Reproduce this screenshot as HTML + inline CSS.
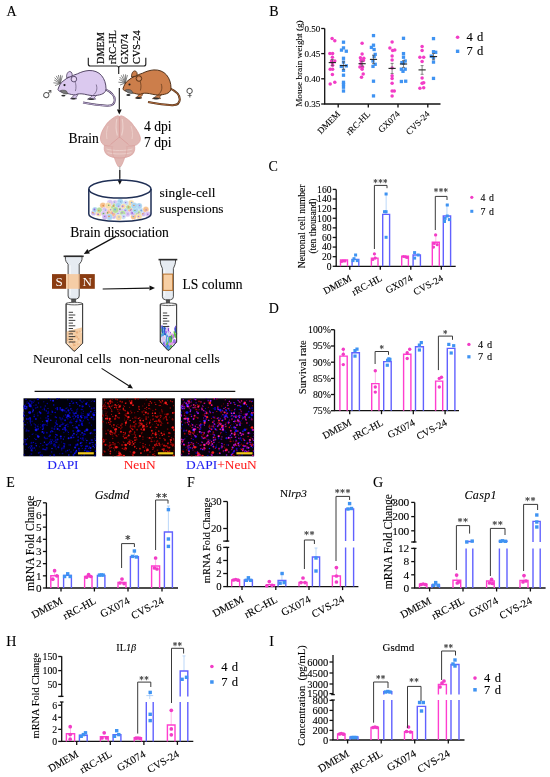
<!DOCTYPE html>
<html><head><meta charset="utf-8"><title>Figure</title>
<style>html,body{margin:0;padding:0;background:#fff;}svg{display:block;}
</style></head>
<body><svg width="550" height="777" viewBox="0 0 550 777" font-family="'Liberation Serif', 'Times New Roman', serif">
<rect width="550" height="777" fill="#fff"/>
<text x="6.4" y="15.5" font-size="14" stroke="#000" stroke-width="0.1">A</text>
<text x="104.2" y="63.9" font-size="10.2" transform="rotate(-90 104.2 63.9)" stroke="#000" stroke-width="0.2">DMEM</text>
<text x="115.9" y="63.9" font-size="10.2" transform="rotate(-90 115.9 63.9)" stroke="#000" stroke-width="0.2">rRC-HL</text>
<text x="127.7" y="63.9" font-size="10.2" transform="rotate(-90 127.7 63.9)" stroke="#000" stroke-width="0.2">GX074</text>
<text x="140.3" y="63.9" font-size="10.2" transform="rotate(-90 140.3 63.9)" stroke="#000" stroke-width="0.2">CVS-24</text>
<path d="M88.3 57.8V64Q88.3 66 90.3 66H116.7Q118.7 66 118.7 68V74M118.7 68Q118.7 66 120.7 66H143.8Q145.8 66 145.8 64V57.8" stroke="#222" stroke-width="1.15" fill="none"/>
<g transform="translate(0 0)">
<path d="M104.5 88.8C110.5 91.5 114.8 95.5 114.8 100C114.6 104 111.5 106 107 105.8C100 105.5 92 104.3 83 102.6" stroke="#4e4060" stroke-width="2.0" fill="none"/>
<path d="M104.5 88.8C110.5 91.5 114.8 95.5 114.8 100C114.6 104 111.5 106 107 105.8C100 105.5 92 104.3 83 102.6" stroke="#dbc9ef" stroke-width="0.8" fill="none"/>
<line x1="60.4" y1="83.6" x2="54.2" y2="80" stroke="#5e5e5e" stroke-width="0.75"/>
<line x1="60.4" y1="83.6" x2="54.6" y2="77.6" stroke="#5e5e5e" stroke-width="0.75"/>
<line x1="60.4" y1="83.6" x2="56.3" y2="75.9" stroke="#5e5e5e" stroke-width="0.75"/>
<line x1="60.4" y1="83.6" x2="58.4" y2="75" stroke="#5e5e5e" stroke-width="0.75"/>
<line x1="60.4" y1="83.6" x2="60.6" y2="74.9" stroke="#5e5e5e" stroke-width="0.75"/>
<line x1="60.4" y1="83.6" x2="53.4" y2="82.8" stroke="#5e5e5e" stroke-width="0.75"/>
<line x1="60.4" y1="83.6" x2="55" y2="85.6" stroke="#5e5e5e" stroke-width="0.75"/>
<line x1="60.4" y1="83.6" x2="62.4" y2="75.6" stroke="#5e5e5e" stroke-width="0.75"/>
<path d="M92 92C93 95 92 97 89 98.2L87.5 99.2H95.5L94.5 97.5C96.5 96 97.5 94 97 91.5Z" stroke="#4e4060" stroke-width="0.7" fill="#dbc9ef"/>
<path d="M74 92.5C74.5 95 73.5 96.8 71.5 97.6L70.5 98.8H76.5L76 97.2C77.5 96 78 94.5 77.8 92.5Z" stroke="#4e4060" stroke-width="0.7" fill="#dbc9ef"/>
<path d="M58.0 89.4C58.8 86.2 60.6 83.0 63.0 81.2C65.2 79.4 67.0 78.0 69.5 77.0C72.5 75.6 75.0 74.6 77.5 73.8C81.0 72.0 85.0 70.8 89.0 70.5C94.0 70.3 98.5 72.0 101.5 75.5C104.5 79.0 106.0 84.0 106.0 88.5C106.0 91.0 104.8 92.6 103.0 93.6C101.0 94.8 98.0 95.2 95.5 95.5C92.0 96.0 88.0 95.0 84.5 94.2C81.0 93.6 78.0 93.5 75.5 94.8C73.0 95.2 70.0 94.0 67.5 93.5C64.0 93.0 61.0 92.0 59.5 91.2C58.5 90.7 58.0 90.0 58.0 89.4Z" stroke="#4e4060" stroke-width="0.95" fill="#dbc9ef"/>
<path d="M74.9 81.3C76.2 84.2 76.3 88 75.4 91.1" stroke="#4e4060" stroke-width="0.6" fill="none"/>
<path d="M96.2 84.5C97.6 88.5 96.8 92.5 93.2 95.2" stroke="#4e4060" stroke-width="0.6" fill="none"/>
<path d="M66.6 77.6C66.2 74.6 67.8 71.4 69.8 71.5C71.9 71.7 72.6 74.1 71.9 76.4Z" stroke="#4e4060" stroke-width="0.85" fill="#dbc9ef"/>
<circle cx="73.9" cy="79.1" r="2.8" fill="#dbc9ef" stroke="#4e4060" stroke-width="0.85"/>
<circle cx="74.1" cy="79.3" r="1.5" fill="#e9d6f2"/>
<circle cx="64.5" cy="85.1" r="1.05" fill="#1a1a1a"/>
<path d="M60.2 90.6C61.5 92.9 64.5 94.6 67.5 94.0C67.8 92.2 66.6 90.7 64.8 90.3C63.2 90.0 61.6 90.1 60.2 90.6Z" stroke="#3a3a3a" stroke-width="0.5" fill="#777"/>
<ellipse cx="63.4" cy="95.6" rx="2.1" ry="0.95" fill="#2e2e2e"/>
<ellipse cx="73.4" cy="98.6" rx="2.4" ry="0.9" fill="#2e2e2e"/>
<ellipse cx="91.2" cy="99.1" rx="3.0" ry="0.95" fill="#2e2e2e"/>
</g>
<g transform="translate(65.0 -0.6)">
<path d="M104.5 88.8C110.5 91.5 114.8 95.5 114.8 100C114.6 104 111.5 106 107 105.8C100 105.5 92 104.3 83 102.6" stroke="#4a2a12" stroke-width="2.0" fill="none"/>
<path d="M104.5 88.8C110.5 91.5 114.8 95.5 114.8 100C114.6 104 111.5 106 107 105.8C100 105.5 92 104.3 83 102.6" stroke="#cc7e4b" stroke-width="0.8" fill="none"/>
<line x1="60.4" y1="83.6" x2="54.2" y2="80" stroke="#5e5e5e" stroke-width="0.75"/>
<line x1="60.4" y1="83.6" x2="54.6" y2="77.6" stroke="#5e5e5e" stroke-width="0.75"/>
<line x1="60.4" y1="83.6" x2="56.3" y2="75.9" stroke="#5e5e5e" stroke-width="0.75"/>
<line x1="60.4" y1="83.6" x2="58.4" y2="75" stroke="#5e5e5e" stroke-width="0.75"/>
<line x1="60.4" y1="83.6" x2="60.6" y2="74.9" stroke="#5e5e5e" stroke-width="0.75"/>
<line x1="60.4" y1="83.6" x2="53.4" y2="82.8" stroke="#5e5e5e" stroke-width="0.75"/>
<line x1="60.4" y1="83.6" x2="55" y2="85.6" stroke="#5e5e5e" stroke-width="0.75"/>
<line x1="60.4" y1="83.6" x2="62.4" y2="75.6" stroke="#5e5e5e" stroke-width="0.75"/>
<path d="M92 92C93 95 92 97 89 98.2L87.5 99.2H95.5L94.5 97.5C96.5 96 97.5 94 97 91.5Z" stroke="#4a2a12" stroke-width="0.7" fill="#cc7e4b"/>
<path d="M74 92.5C74.5 95 73.5 96.8 71.5 97.6L70.5 98.8H76.5L76 97.2C77.5 96 78 94.5 77.8 92.5Z" stroke="#4a2a12" stroke-width="0.7" fill="#cc7e4b"/>
<path d="M58.0 89.4C58.8 86.2 60.6 83.0 63.0 81.2C65.2 79.4 67.0 78.0 69.5 77.0C72.5 75.6 75.0 74.6 77.5 73.8C81.0 72.0 85.0 70.8 89.0 70.5C94.0 70.3 98.5 72.0 101.5 75.5C104.5 79.0 106.0 84.0 106.0 88.5C106.0 91.0 104.8 92.6 103.0 93.6C101.0 94.8 98.0 95.2 95.5 95.5C92.0 96.0 88.0 95.0 84.5 94.2C81.0 93.6 78.0 93.5 75.5 94.8C73.0 95.2 70.0 94.0 67.5 93.5C64.0 93.0 61.0 92.0 59.5 91.2C58.5 90.7 58.0 90.0 58.0 89.4Z" stroke="#4a2a12" stroke-width="0.95" fill="#cc7e4b"/>
<path d="M74.9 81.3C76.2 84.2 76.3 88 75.4 91.1" stroke="#4a2a12" stroke-width="0.6" fill="none"/>
<path d="M96.2 84.5C97.6 88.5 96.8 92.5 93.2 95.2" stroke="#4a2a12" stroke-width="0.6" fill="none"/>
<path d="M66.6 77.6C66.2 74.6 67.8 71.4 69.8 71.5C71.9 71.7 72.6 74.1 71.9 76.4Z" stroke="#4a2a12" stroke-width="0.85" fill="#cc7e4b"/>
<circle cx="73.9" cy="79.1" r="2.8" fill="#cc7e4b" stroke="#4a2a12" stroke-width="0.85"/>
<circle cx="74.1" cy="79.3" r="1.5" fill="#d89468"/>
<circle cx="64.5" cy="85.1" r="1.05" fill="#1a1a1a"/>
<path d="M60.2 90.6C61.5 92.9 64.5 94.6 67.5 94.0C67.8 92.2 66.6 90.7 64.8 90.3C63.2 90.0 61.6 90.1 60.2 90.6Z" stroke="#3a3a3a" stroke-width="0.5" fill="#777"/>
<ellipse cx="63.4" cy="95.6" rx="2.1" ry="0.95" fill="#2e2e2e"/>
<ellipse cx="73.4" cy="98.6" rx="2.4" ry="0.9" fill="#2e2e2e"/>
<ellipse cx="91.2" cy="99.1" rx="3.0" ry="0.95" fill="#2e2e2e"/>
</g>
<text x="42.3" y="97.9" font-size="11.2" fill="#555" font-family="DejaVu Sans">♂</text>
<text x="185.6" y="95.6" font-size="11.2" fill="#555" font-family="DejaVu Sans">♀</text>
<line x1="119.3" y1="88" x2="119.3" y2="109.5" stroke="#111" stroke-width="1.1"/>
<path d="M119.3 114.5L116.9 109.5L121.7 109.5Z" fill="#111"/>
<path d="M114 156.5C115 160 116 163 118.2 166.6H120.8C123 163 124 160 125 156.5Z" stroke="#d89c99" stroke-width="0.6" fill="#e0b7b3"/>
<path d="M104.8 144.5C103.6 148 104.2 152 106.5 154.2C109.5 157 114.5 158 119.5 158C124.5 158 129.5 157 132.5 154.2C134.8 152 135.4 148 134.2 144.5Z" stroke="#d89c99" stroke-width="0.7" fill="#e0b7b3"/>
<path d="M106.5 149C112 151 127 151 132.5 149M107.5 152.6C113 154.4 126 154.4 131.5 152.6" stroke="#ecd0cc" stroke-width="0.9" fill="none"/>
<path d="M112 146.5C112 150 112.5 154 113.5 157M127 146.5C127 150 126.5 154 125.5 157" stroke="#d89c99" stroke-width="0.5" fill="none"/>
<path d="M119.3 116.5C118.5 115.8 117.8 115.7 117.2 115.9C115.5 116.4 113.8 117.3 112.8 118.3C109.5 120.5 107.5 122.5 105.5 125.5C103 129 101 133 100.5 137C100.2 140 101 143 103.5 144.8C106 146.2 110 146.3 114 145.5C116.5 145 118.5 143.5 119.3 141.5Z" stroke="#d89c99" stroke-width="0.7" fill="#e0b7b3"/>
<path d="M119.7 116.5C120.5 115.8 121.2 115.7 121.8 115.9C123.5 116.4 125.2 117.3 126.2 118.3C129.5 120.5 131.5 122.5 133.5 125.5C136.8 129.5 139.5 134 140.3 137.5C140.8 140.5 139.5 143 136.5 144.8C134 146.2 129 146.3 125 145.5C122.5 145 120.5 143.5 119.7 141.5Z" stroke="#d89c99" stroke-width="0.7" fill="#e0b7b3"/>
<path d="M119.5 136L110 146L129 146Z" stroke="none" stroke-width="0" fill="#e0b7b3"/>
<path d="M119.5 116.5V138M119.5 137L110.5 144.5M119.5 137L128.5 144.5" stroke="#d89c99" stroke-width="0.8" fill="none"/>
<path d="M116.8 119C115.6 125 116 131 117.4 135.5M122.2 119C123.4 125 123 131 121.6 135.5" stroke="#ecd0cc" stroke-width="1.1" fill="none"/>
<path d="M108 126C106.5 130 106 135 107 139M131 126C132.5 130 133 135 132 139" stroke="#ecd0cc" stroke-width="0.8" fill="none"/>
<text x="68.6" y="142.6" font-size="13.6" stroke="#000" stroke-width="0.1">Brain</text>
<text x="144" y="131.3" font-size="13.6" stroke="#000" stroke-width="0.1">4 dpi</text>
<text x="144" y="147" font-size="13.6" stroke="#000" stroke-width="0.1">7 dpi</text>
<line x1="119.8" y1="166" x2="119.8" y2="178" stroke="#aaa" stroke-width="1.0"/>
<line x1="119.8" y1="170" x2="119.8" y2="179.8" stroke="#111" stroke-width="1.1"/>
<path d="M119.8 184.8L117.4 179.8L122.2 179.8Z" fill="#111"/>
<circle cx="110.2" cy="209.5" r="3.2" fill="#f8dcaa" stroke="#ffffff" stroke-width="0.4" stroke-opacity="0.7"/>
<circle cx="110.7" cy="209.8" r="0.7" fill="#7aa8e0"/>
<circle cx="143.2" cy="213.8" r="2.8" fill="#cdb8ee" stroke="#ffffff" stroke-width="0.4" stroke-opacity="0.7"/>
<circle cx="142.8" cy="213.8" r="0.8" fill="#e09050"/>
<circle cx="117.6" cy="213.1" r="3.1" fill="#c6dcf4" stroke="#ffffff" stroke-width="0.4" stroke-opacity="0.7"/>
<circle cx="118.0" cy="213.4" r="0.7" fill="#b080e0"/>
<circle cx="115.0" cy="202.8" r="2.8" fill="#d8c4f2" stroke="#ffffff" stroke-width="0.4" stroke-opacity="0.7"/>
<circle cx="114.3" cy="202.1" r="0.7" fill="#7aa8e0"/>
<circle cx="140.5" cy="210.6" r="3.0" fill="#c6dcf4" stroke="#ffffff" stroke-width="0.4" stroke-opacity="0.7"/>
<circle cx="141.2" cy="210.5" r="1.0" fill="#7aa8e0"/>
<circle cx="108.0" cy="212.7" r="2.6" fill="#f4b890" stroke="#ffffff" stroke-width="0.4" stroke-opacity="0.7"/>
<circle cx="107.5" cy="212.7" r="0.7" fill="#70b060"/>
<circle cx="145.9" cy="209.5" r="2.9" fill="#f6c08c" stroke="#ffffff" stroke-width="0.4" stroke-opacity="0.7"/>
<circle cx="146.1" cy="209.9" r="0.6" fill="#9a62d8"/>
<circle cx="120.2" cy="201.9" r="3.1" fill="#a8d4f0" stroke="#ffffff" stroke-width="0.4" stroke-opacity="0.7"/>
<circle cx="120.6" cy="201.9" r="0.7" fill="#7aa8e0"/>
<circle cx="137.8" cy="213.4" r="3.1" fill="#b4dc9c" stroke="#ffffff" stroke-width="0.4" stroke-opacity="0.7"/>
<circle cx="138.4" cy="213.3" r="0.8" fill="#9a62d8"/>
<circle cx="93.6" cy="212.9" r="2.7" fill="#cdb8ee" stroke="#ffffff" stroke-width="0.4" stroke-opacity="0.7"/>
<circle cx="93.1" cy="212.4" r="1.0" fill="#e09050"/>
<circle cx="148.0" cy="214.2" r="3.0" fill="#d8c4f2" stroke="#ffffff" stroke-width="0.4" stroke-opacity="0.7"/>
<circle cx="147.8" cy="214.2" r="0.7" fill="#9a62d8"/>
<circle cx="112.9" cy="206.0" r="2.9" fill="#b4dc9c" stroke="#ffffff" stroke-width="0.4" stroke-opacity="0.7"/>
<circle cx="113.5" cy="205.9" r="0.9" fill="#e09050"/>
<circle cx="133.5" cy="216.8" r="2.8" fill="#f6c08c" stroke="#ffffff" stroke-width="0.4" stroke-opacity="0.7"/>
<circle cx="133.3" cy="216.5" r="0.8" fill="#7aa8e0"/>
<circle cx="125.9" cy="210.5" r="3.1" fill="#a8d4f0" stroke="#ffffff" stroke-width="0.4" stroke-opacity="0.7"/>
<circle cx="125.3" cy="210.8" r="1.0" fill="#b080e0"/>
<circle cx="139.1" cy="206.0" r="3.1" fill="#a8d4f0" stroke="#ffffff" stroke-width="0.4" stroke-opacity="0.7"/>
<circle cx="139.6" cy="205.5" r="0.7" fill="#b080e0"/>
<circle cx="102.9" cy="205.5" r="3.1" fill="#f6c08c" stroke="#ffffff" stroke-width="0.4" stroke-opacity="0.7"/>
<circle cx="103.3" cy="205.6" r="0.9" fill="#e09050"/>
<circle cx="113.8" cy="216.3" r="2.7" fill="#cdb8ee" stroke="#ffffff" stroke-width="0.4" stroke-opacity="0.7"/>
<circle cx="114.0" cy="215.8" r="0.6" fill="#b080e0"/>
<circle cx="110.0" cy="202.9" r="3.1" fill="#d8c4f2" stroke="#ffffff" stroke-width="0.4" stroke-opacity="0.7"/>
<circle cx="109.4" cy="203.0" r="0.7" fill="#7aa8e0"/>
<circle cx="130.9" cy="210.1" r="3.1" fill="#f6c08c" stroke="#ffffff" stroke-width="0.4" stroke-opacity="0.7"/>
<circle cx="130.9" cy="210.1" r="0.9" fill="#9a62d8"/>
<circle cx="104.7" cy="209.9" r="2.8" fill="#d8c4f2" stroke="#ffffff" stroke-width="0.4" stroke-opacity="0.7"/>
<circle cx="105.4" cy="210.1" r="0.7" fill="#7aa8e0"/>
<circle cx="127.4" cy="213.9" r="2.9" fill="#d8c4f2" stroke="#ffffff" stroke-width="0.4" stroke-opacity="0.7"/>
<circle cx="127.9" cy="213.9" r="0.7" fill="#b080e0"/>
<circle cx="108.2" cy="205.6" r="3.2" fill="#f8dcaa" stroke="#ffffff" stroke-width="0.4" stroke-opacity="0.7"/>
<circle cx="108.7" cy="205.2" r="0.8" fill="#70b060"/>
<circle cx="128.7" cy="206.7" r="2.8" fill="#b4dc9c" stroke="#ffffff" stroke-width="0.4" stroke-opacity="0.7"/>
<circle cx="128.5" cy="207.0" r="0.8" fill="#e09050"/>
<circle cx="131.1" cy="203.1" r="3.1" fill="#f8dcaa" stroke="#ffffff" stroke-width="0.4" stroke-opacity="0.7"/>
<circle cx="131.7" cy="202.6" r="0.9" fill="#7aa8e0"/>
<circle cx="132.7" cy="213.0" r="2.8" fill="#cdb8ee" stroke="#ffffff" stroke-width="0.4" stroke-opacity="0.7"/>
<circle cx="132.2" cy="212.9" r="0.9" fill="#9a62d8"/>
<circle cx="135.3" cy="210.1" r="3.1" fill="#a8d4f0" stroke="#ffffff" stroke-width="0.4" stroke-opacity="0.7"/>
<circle cx="134.9" cy="210.4" r="0.7" fill="#70b060"/>
<circle cx="95.0" cy="209.8" r="2.8" fill="#a8d4f0" stroke="#ffffff" stroke-width="0.4" stroke-opacity="0.7"/>
<circle cx="94.5" cy="209.5" r="0.9" fill="#9a62d8"/>
<circle cx="112.7" cy="213.7" r="2.9" fill="#f4b890" stroke="#ffffff" stroke-width="0.4" stroke-opacity="0.7"/>
<circle cx="112.6" cy="213.0" r="0.7" fill="#b080e0"/>
<circle cx="98.7" cy="213.6" r="2.9" fill="#f8dcaa" stroke="#ffffff" stroke-width="0.4" stroke-opacity="0.7"/>
<circle cx="98.1" cy="214.3" r="0.9" fill="#9a62d8"/>
<circle cx="99.4" cy="210.1" r="2.8" fill="#b4dc9c" stroke="#ffffff" stroke-width="0.4" stroke-opacity="0.7"/>
<circle cx="98.8" cy="210.5" r="0.7" fill="#e09050"/>
<circle cx="118.3" cy="205.5" r="3.1" fill="#a8d4f0" stroke="#ffffff" stroke-width="0.4" stroke-opacity="0.7"/>
<circle cx="118.6" cy="206.2" r="0.8" fill="#b080e0"/>
<circle cx="120.5" cy="209.7" r="3.0" fill="#d8c4f2" stroke="#ffffff" stroke-width="0.4" stroke-opacity="0.7"/>
<circle cx="119.9" cy="209.1" r="0.9" fill="#70b060"/>
<circle cx="122.7" cy="213.3" r="2.8" fill="#b4dc9c" stroke="#ffffff" stroke-width="0.4" stroke-opacity="0.7"/>
<circle cx="122.0" cy="212.7" r="0.7" fill="#b080e0"/>
<circle cx="123.3" cy="216.6" r="2.6" fill="#c6dcf4" stroke="#ffffff" stroke-width="0.4" stroke-opacity="0.7"/>
<circle cx="123.8" cy="216.5" r="0.7" fill="#b080e0"/>
<circle cx="109.4" cy="216.9" r="3.2" fill="#a8d4f0" stroke="#ffffff" stroke-width="0.4" stroke-opacity="0.7"/>
<circle cx="109.0" cy="216.4" r="0.8" fill="#e09050"/>
<circle cx="115.4" cy="210.0" r="3.2" fill="#b4dc9c" stroke="#ffffff" stroke-width="0.4" stroke-opacity="0.7"/>
<circle cx="115.1" cy="209.5" r="1.0" fill="#7aa8e0"/>
<circle cx="125.7" cy="203.0" r="2.8" fill="#c6dcf4" stroke="#ffffff" stroke-width="0.4" stroke-opacity="0.7"/>
<circle cx="125.7" cy="202.6" r="0.7" fill="#9a62d8"/>
<circle cx="123.3" cy="206.3" r="2.6" fill="#f8dcaa" stroke="#ffffff" stroke-width="0.4" stroke-opacity="0.7"/>
<circle cx="122.6" cy="206.3" r="1.0" fill="#b080e0"/>
<circle cx="103.6" cy="213.5" r="2.7" fill="#d8c4f2" stroke="#ffffff" stroke-width="0.4" stroke-opacity="0.7"/>
<circle cx="103.5" cy="213.7" r="0.9" fill="#70b060"/>
<circle cx="134.2" cy="205.8" r="3.2" fill="#a8d4f0" stroke="#ffffff" stroke-width="0.4" stroke-opacity="0.7"/>
<circle cx="133.9" cy="205.4" r="0.7" fill="#e09050"/>
<circle cx="104.9" cy="217.0" r="2.8" fill="#cdb8ee" stroke="#ffffff" stroke-width="0.4" stroke-opacity="0.7"/>
<circle cx="104.7" cy="216.4" r="0.7" fill="#9a62d8"/>
<circle cx="139.1" cy="216.3" r="2.9" fill="#f8dcaa" stroke="#ffffff" stroke-width="0.4" stroke-opacity="0.7"/>
<circle cx="138.5" cy="216.5" r="0.8" fill="#b080e0"/>
<circle cx="118.8" cy="217.5" r="3.0" fill="#f8dcaa" stroke="#ffffff" stroke-width="0.4" stroke-opacity="0.7"/>
<circle cx="119.0" cy="216.9" r="0.7" fill="#7aa8e0"/>
<path d="M88.8 189V214C88.8 218.8 104 221.5 120 221.5C136 221.5 151 218.8 151 214V189" stroke="#1f2f55" stroke-width="1.5" fill="none"/>
<ellipse cx="119.9" cy="189.1" rx="31.1" ry="9" fill="none" stroke="#1f2f55" stroke-width="1.5"/>
<text x="159.6" y="197" font-size="13.4" stroke="#000" stroke-width="0.1">single-cell</text>
<text x="159.6" y="213.3" font-size="13.4" stroke="#000" stroke-width="0.1">suspensions</text>
<text x="70.3" y="236.7" font-size="13.6" stroke="#000" stroke-width="0.1">Brain dissociation</text>
<line x1="115.6" y1="236.6" x2="88.62" y2="251.36" stroke="#111" stroke-width="1.2"/>
<path d="M83.8 254.0L87.4 249.1L89.9 253.6Z" fill="#111"/>
<rect x="71.6" y="298.5" width="4.2" height="4.0" fill="#555" stroke="#333" stroke-width="0.5"/>
<path d="M65.4 256.3V259.3Q65.4 261.3 68.1 264.3V296.0Q68.1 298.5 70.8 299.0H76.5Q79.2 298.5 79.2 296.0V264.3Q82.0 261.3 82.0 259.3V256.3Z" stroke="#3a3a3a" stroke-width="0.9" fill="#e6ebf1"/>
<line x1="70.25" y1="265.3" x2="70.25" y2="295.5" stroke="#f6f8fb" stroke-width="1.2"/>
<line x1="63.6" y1="256.3" x2="83.7" y2="256.3" stroke="#2a2a2a" stroke-width="1.6"/>
<rect x="66.0" y="274.1" width="13.7" height="14.7" fill="#f5cda6"/>
<line x1="68.6" y1="274.1" x2="68.6" y2="288.8" stroke="#e0a878" stroke-width="0.6"/>
<line x1="78.7" y1="274.1" x2="78.7" y2="288.8" stroke="#e0a878" stroke-width="0.6"/>
<rect x="52.0" y="274.1" width="14.0" height="14.7" fill="#8a3c12"/>
<rect x="79.7" y="274.1" width="15.1" height="14.7" fill="#8a3c12"/>
<text x="59.2" y="286.3" font-size="13" text-anchor="middle" fill="#fff">S</text>
<text x="87.2" y="286.3" font-size="13" text-anchor="middle" fill="#fff">N</text>
<line x1="102.7" y1="289" x2="149.5" y2="288.11" stroke="#111" stroke-width="1.2"/>
<path d="M155.0 288.0L149.5 290.6L149.5 285.6Z" fill="#111"/>
<rect x="166.2" y="299.3" width="3.5" height="4.7" fill="#555" stroke="#333" stroke-width="0.5"/>
<path d="M160.3 259.6V262.1Q160.3 264.1 162.4 268.5V296.8Q162.4 299.3 165.3 299.8H170.5Q173.4 299.3 173.4 296.8V268.5Q175.5 264.1 175.5 262.1V259.6Z" stroke="#3a3a3a" stroke-width="0.9" fill="#e6ebf1"/>
<line x1="164.6" y1="269.5" x2="164.6" y2="296.3" stroke="#f6f8fb" stroke-width="1.2"/>
<line x1="158.5" y1="259.6" x2="177.3" y2="259.6" stroke="#2a2a2a" stroke-width="1.6"/>
<rect x="163.1" y="274.1" width="9.6" height="16.3" fill="#f7cfa4" stroke="#b8702a" stroke-width="1"/>
<text x="182.5" y="289.3" font-size="13.6" stroke="#000" stroke-width="0.1">LS column</text>
<path d="M66.1 303.6V343.2L73.75 351.0H74.94999999999999L82.6 343.2V303.6Z" stroke="#3a3a3a" stroke-width="0.9" fill="#fcfcfc"/>
<clipPath id="clipN"><path d="M66.1 303.6V343.2L73.75 351.0H74.94999999999999L82.6 343.2V303.6Z"/></clipPath>
<path d="M66.1 331.8C71.1 330.3 77.6 328.3 82.6 327.3V351.0H66.1Z" fill="#f5cda4" clip-path="url(#clipN)"/>
<circle cx="70.6" cy="341.6" r="0.8" fill="#eab080" clip-path="url(#clipN)"/>
<circle cx="74.0" cy="342.3" r="1.0" fill="#f8dcc0" clip-path="url(#clipN)"/>
<circle cx="70.9" cy="335.2" r="1.2" fill="#f8dcc0" clip-path="url(#clipN)"/>
<circle cx="74.9" cy="341.7" r="0.8" fill="#f0bc8c" clip-path="url(#clipN)"/>
<circle cx="70.5" cy="333.4" r="1.2" fill="#f8dcc0" clip-path="url(#clipN)"/>
<circle cx="77.8" cy="344.2" r="0.6" fill="#eab080" clip-path="url(#clipN)"/>
<circle cx="67.7" cy="346.4" r="1.1" fill="#f8dcc0" clip-path="url(#clipN)"/>
<circle cx="74.0" cy="345.2" r="1.1" fill="#eab080" clip-path="url(#clipN)"/>
<circle cx="78.5" cy="339.1" r="1.0" fill="#eab080" clip-path="url(#clipN)"/>
<circle cx="73.5" cy="349.7" r="1.1" fill="#f0bc8c" clip-path="url(#clipN)"/>
<circle cx="67.6" cy="340.5" r="0.8" fill="#eab080" clip-path="url(#clipN)"/>
<circle cx="73.4" cy="343.3" r="0.8" fill="#eab080" clip-path="url(#clipN)"/>
<circle cx="79.2" cy="342.2" r="0.9" fill="#f8dcc0" clip-path="url(#clipN)"/>
<circle cx="75.6" cy="349.0" r="1.0" fill="#f0bc8c" clip-path="url(#clipN)"/>
<circle cx="79.5" cy="350.8" r="1.0" fill="#f0bc8c" clip-path="url(#clipN)"/>
<circle cx="77.2" cy="337.1" r="0.9" fill="#eab080" clip-path="url(#clipN)"/>
<circle cx="75.4" cy="345.1" r="0.7" fill="#eab080" clip-path="url(#clipN)"/>
<circle cx="71.0" cy="332.9" r="0.9" fill="#eab080" clip-path="url(#clipN)"/>
<circle cx="81.5" cy="332.1" r="1.1" fill="#f8dcc0" clip-path="url(#clipN)"/>
<circle cx="80.1" cy="330.7" r="0.9" fill="#f8dcc0" clip-path="url(#clipN)"/>
<circle cx="79.8" cy="331.2" r="1.0" fill="#f0bc8c" clip-path="url(#clipN)"/>
<circle cx="72.6" cy="342.4" r="0.9" fill="#f8dcc0" clip-path="url(#clipN)"/>
<circle cx="74.4" cy="351.0" r="0.8" fill="#f0bc8c" clip-path="url(#clipN)"/>
<circle cx="68.7" cy="341.4" r="1.2" fill="#f8dcc0" clip-path="url(#clipN)"/>
<circle cx="71.3" cy="335.8" r="1.0" fill="#f8dcc0" clip-path="url(#clipN)"/>
<circle cx="71.7" cy="350.1" r="1.1" fill="#f8dcc0" clip-path="url(#clipN)"/>
<circle cx="72.6" cy="348.3" r="0.8" fill="#eab080" clip-path="url(#clipN)"/>
<circle cx="77.0" cy="332.4" r="1.2" fill="#eab080" clip-path="url(#clipN)"/>
<circle cx="71.0" cy="343.4" r="1.0" fill="#f8dcc0" clip-path="url(#clipN)"/>
<circle cx="73.4" cy="335.6" r="0.8" fill="#f8dcc0" clip-path="url(#clipN)"/>
<circle cx="67.3" cy="338.9" r="0.9" fill="#f0bc8c" clip-path="url(#clipN)"/>
<circle cx="72.6" cy="342.5" r="0.7" fill="#eab080" clip-path="url(#clipN)"/>
<circle cx="76.2" cy="340.0" r="1.0" fill="#f8dcc0" clip-path="url(#clipN)"/>
<circle cx="75.9" cy="336.1" r="0.9" fill="#eab080" clip-path="url(#clipN)"/>
<circle cx="68.0" cy="344.3" r="1.2" fill="#f8dcc0" clip-path="url(#clipN)"/>
<circle cx="76.2" cy="336.5" r="1.0" fill="#f0bc8c" clip-path="url(#clipN)"/>
<circle cx="72.4" cy="336.8" r="0.8" fill="#eab080" clip-path="url(#clipN)"/>
<circle cx="70.9" cy="346.6" r="0.7" fill="#f0bc8c" clip-path="url(#clipN)"/>
<circle cx="81.2" cy="344.5" r="0.7" fill="#eab080" clip-path="url(#clipN)"/>
<circle cx="70.3" cy="346.9" r="0.7" fill="#f0bc8c" clip-path="url(#clipN)"/>
<line x1="68.7" y1="312.3" x2="73" y2="312.3" stroke="#2a2a2a" stroke-width="0.9"/>
<line x1="68.7" y1="315" x2="75.3" y2="315" stroke="#2a2a2a" stroke-width="0.9"/>
<line x1="68.7" y1="317.7" x2="73" y2="317.7" stroke="#2a2a2a" stroke-width="0.9"/>
<line x1="68.7" y1="320.4" x2="75.3" y2="320.4" stroke="#2a2a2a" stroke-width="0.9"/>
<line x1="68.7" y1="323.1" x2="73" y2="323.1" stroke="#2a2a2a" stroke-width="0.9"/>
<line x1="68.7" y1="325.8" x2="75.3" y2="325.8" stroke="#2a2a2a" stroke-width="0.9"/>
<line x1="68.7" y1="328.5" x2="73" y2="328.5" stroke="#2a2a2a" stroke-width="0.9"/>
<line x1="68.7" y1="331.2" x2="75.3" y2="331.2" stroke="#2a2a2a" stroke-width="0.9"/>
<line x1="68.7" y1="333.9" x2="73" y2="333.9" stroke="#2a2a2a" stroke-width="0.9"/>
<line x1="68.7" y1="336.6" x2="75.3" y2="336.6" stroke="#2a2a2a" stroke-width="0.9"/>
<line x1="68.7" y1="339.3" x2="73" y2="339.3" stroke="#2a2a2a" stroke-width="0.9"/>
<line x1="68.7" y1="342" x2="75.3" y2="342" stroke="#2a2a2a" stroke-width="0.9"/>
<path d="M66.1 303.6V343.2L73.75 351.0H74.94999999999999L82.6 343.2V303.6Z" stroke="#3a3a3a" stroke-width="0.9" fill="none"/>
<ellipse cx="74.3" cy="303.6" rx="8.2" ry="1.3" fill="#f4f4f4" stroke="#3a3a3a" stroke-width="0.8"/>
<path d="M160.3 304.3V342.1L167.85 350.2H169.04999999999998L176.6 342.1V304.3Z" stroke="#3a3a3a" stroke-width="0.9" fill="#fcfcfc"/>
<clipPath id="clipM"><path d="M160.3 304.3V342.1L167.85 350.2H169.04999999999998L176.6 342.1V304.3Z"/></clipPath>
<ellipse cx="167.7" cy="340.2" rx="1.5" ry="2.8" transform="rotate(0 167.7 340.2)" fill="#50a0e0" clip-path="url(#clipM)"/>
<ellipse cx="163.4" cy="345.7" rx="1.1" ry="3.2" transform="rotate(-16 163.4 345.7)" fill="#d8c8f0" clip-path="url(#clipM)"/>
<ellipse cx="165.2" cy="329.5" rx="1.4" ry="3.3" transform="rotate(-23 165.2 329.5)" fill="#2a5ac8" clip-path="url(#clipM)"/>
<ellipse cx="176.0" cy="342.3" rx="1.3" ry="2.1" transform="rotate(-24 176.0 342.3)" fill="#e0a0e0" clip-path="url(#clipM)"/>
<ellipse cx="161.3" cy="328.2" rx="1.5" ry="3.1" transform="rotate(14 161.3 328.2)" fill="#a070e8" clip-path="url(#clipM)"/>
<ellipse cx="167.5" cy="346.6" rx="1.2" ry="3.2" transform="rotate(-0 167.5 346.6)" fill="#3a78d8" clip-path="url(#clipM)"/>
<ellipse cx="167.8" cy="333.7" rx="1.6" ry="4.0" transform="rotate(17 167.8 333.7)" fill="#ffffff" clip-path="url(#clipM)"/>
<ellipse cx="165.4" cy="332.6" rx="1.0" ry="2.0" transform="rotate(13 165.4 332.6)" fill="#2a5ac8" clip-path="url(#clipM)"/>
<ellipse cx="162.1" cy="334.0" rx="0.8" ry="1.8" transform="rotate(9 162.1 334.0)" fill="#62c04a" clip-path="url(#clipM)"/>
<ellipse cx="163.7" cy="348.2" rx="1.1" ry="4.0" transform="rotate(-5 163.7 348.2)" fill="#3a78d8" clip-path="url(#clipM)"/>
<ellipse cx="169.5" cy="331.9" rx="1.3" ry="2.5" transform="rotate(-9 169.5 331.9)" fill="#8a3ad8" clip-path="url(#clipM)"/>
<ellipse cx="176.0" cy="344.7" rx="0.8" ry="2.3" transform="rotate(-20 176.0 344.7)" fill="#8a3ad8" clip-path="url(#clipM)"/>
<ellipse cx="167.9" cy="338.5" rx="1.3" ry="2.2" transform="rotate(0 167.9 338.5)" fill="#b8d4f4" clip-path="url(#clipM)"/>
<ellipse cx="167.1" cy="336.1" rx="1.1" ry="4.0" transform="rotate(-25 167.1 336.1)" fill="#50a0e0" clip-path="url(#clipM)"/>
<ellipse cx="165.3" cy="347.6" rx="0.9" ry="2.7" transform="rotate(18 165.3 347.6)" fill="#50a0e0" clip-path="url(#clipM)"/>
<ellipse cx="161.9" cy="350.0" rx="0.9" ry="2.4" transform="rotate(14 161.9 350.0)" fill="#a070e8" clip-path="url(#clipM)"/>
<ellipse cx="173.8" cy="336.2" rx="0.8" ry="2.3" transform="rotate(7 173.8 336.2)" fill="#8a3ad8" clip-path="url(#clipM)"/>
<ellipse cx="170.1" cy="335.9" rx="1.1" ry="3.9" transform="rotate(-1 170.1 335.9)" fill="#50a0e0" clip-path="url(#clipM)"/>
<ellipse cx="162.5" cy="336.2" rx="1.3" ry="2.5" transform="rotate(-14 162.5 336.2)" fill="#50a0e0" clip-path="url(#clipM)"/>
<ellipse cx="164.4" cy="331.7" rx="1.4" ry="3.9" transform="rotate(-15 164.4 331.7)" fill="#2a5ac8" clip-path="url(#clipM)"/>
<ellipse cx="174.7" cy="341.2" rx="1.1" ry="2.0" transform="rotate(-23 174.7 341.2)" fill="#ffffff" clip-path="url(#clipM)"/>
<ellipse cx="164.2" cy="343.5" rx="0.9" ry="3.6" transform="rotate(5 164.2 343.5)" fill="#ffffff" clip-path="url(#clipM)"/>
<ellipse cx="168.8" cy="348.6" rx="1.6" ry="2.1" transform="rotate(-1 168.8 348.6)" fill="#50a0e0" clip-path="url(#clipM)"/>
<ellipse cx="170.3" cy="333.8" rx="1.5" ry="2.2" transform="rotate(-24 170.3 333.8)" fill="#ffffff" clip-path="url(#clipM)"/>
<ellipse cx="167.0" cy="333.1" rx="0.7" ry="2.4" transform="rotate(2 167.0 333.1)" fill="#b8d4f4" clip-path="url(#clipM)"/>
<ellipse cx="161.8" cy="330.6" rx="1.1" ry="2.5" transform="rotate(12 161.8 330.6)" fill="#e0a0e0" clip-path="url(#clipM)"/>
<ellipse cx="169.8" cy="330.6" rx="0.7" ry="1.8" transform="rotate(21 169.8 330.6)" fill="#ffffff" clip-path="url(#clipM)"/>
<ellipse cx="176.0" cy="327.9" rx="1.3" ry="2.9" transform="rotate(12 176.0 327.9)" fill="#a070e8" clip-path="url(#clipM)"/>
<ellipse cx="162.5" cy="329.1" rx="1.1" ry="2.6" transform="rotate(-23 162.5 329.1)" fill="#b8d4f4" clip-path="url(#clipM)"/>
<ellipse cx="173.2" cy="348.3" rx="1.0" ry="3.3" transform="rotate(20 173.2 348.3)" fill="#2a5ac8" clip-path="url(#clipM)"/>
<ellipse cx="175.7" cy="328.1" rx="1.1" ry="1.8" transform="rotate(8 175.7 328.1)" fill="#2a5ac8" clip-path="url(#clipM)"/>
<ellipse cx="169.8" cy="341.3" rx="0.8" ry="3.2" transform="rotate(25 169.8 341.3)" fill="#2a5ac8" clip-path="url(#clipM)"/>
<ellipse cx="172.2" cy="336.3" rx="1.4" ry="3.1" transform="rotate(-3 172.2 336.3)" fill="#e0a0e0" clip-path="url(#clipM)"/>
<ellipse cx="161.7" cy="344.5" rx="0.7" ry="3.1" transform="rotate(-1 161.7 344.5)" fill="#62c04a" clip-path="url(#clipM)"/>
<ellipse cx="175.9" cy="330.0" rx="1.4" ry="3.3" transform="rotate(-1 175.9 330.0)" fill="#8a3ad8" clip-path="url(#clipM)"/>
<ellipse cx="166.3" cy="330.7" rx="1.3" ry="2.9" transform="rotate(13 166.3 330.7)" fill="#a070e8" clip-path="url(#clipM)"/>
<ellipse cx="171.1" cy="337.5" rx="1.5" ry="2.5" transform="rotate(8 171.1 337.5)" fill="#62c04a" clip-path="url(#clipM)"/>
<ellipse cx="170.6" cy="345.7" rx="1.4" ry="2.2" transform="rotate(-14 170.6 345.7)" fill="#62c04a" clip-path="url(#clipM)"/>
<ellipse cx="169.8" cy="334.6" rx="0.8" ry="2.9" transform="rotate(17 169.8 334.6)" fill="#8a3ad8" clip-path="url(#clipM)"/>
<ellipse cx="171.9" cy="349.1" rx="0.9" ry="2.2" transform="rotate(-2 171.9 349.1)" fill="#ffffff" clip-path="url(#clipM)"/>
<ellipse cx="175.4" cy="346.3" rx="1.0" ry="2.9" transform="rotate(9 175.4 346.3)" fill="#50a0e0" clip-path="url(#clipM)"/>
<ellipse cx="167.7" cy="329.1" rx="0.7" ry="3.7" transform="rotate(-23 167.7 329.1)" fill="#ffffff" clip-path="url(#clipM)"/>
<ellipse cx="169.6" cy="334.4" rx="1.4" ry="1.8" transform="rotate(-18 169.6 334.4)" fill="#d8c8f0" clip-path="url(#clipM)"/>
<ellipse cx="163.4" cy="344.9" rx="0.9" ry="3.5" transform="rotate(15 163.4 344.9)" fill="#3a78d8" clip-path="url(#clipM)"/>
<ellipse cx="167.6" cy="341.8" rx="1.3" ry="3.6" transform="rotate(23 167.6 341.8)" fill="#62c04a" clip-path="url(#clipM)"/>
<ellipse cx="163.5" cy="338.2" rx="0.9" ry="1.8" transform="rotate(-1 163.5 338.2)" fill="#8a3ad8" clip-path="url(#clipM)"/>
<ellipse cx="163.2" cy="333.6" rx="1.0" ry="3.3" transform="rotate(1 163.2 333.6)" fill="#50a0e0" clip-path="url(#clipM)"/>
<ellipse cx="176.5" cy="331.0" rx="1.5" ry="3.3" transform="rotate(-14 176.5 331.0)" fill="#2a5ac8" clip-path="url(#clipM)"/>
<ellipse cx="175.5" cy="343.9" rx="0.8" ry="2.8" transform="rotate(6 175.5 343.9)" fill="#8a3ad8" clip-path="url(#clipM)"/>
<ellipse cx="166.4" cy="340.4" rx="1.5" ry="3.6" transform="rotate(22 166.4 340.4)" fill="#d8c8f0" clip-path="url(#clipM)"/>
<ellipse cx="165.6" cy="349.8" rx="0.8" ry="3.7" transform="rotate(15 165.6 349.8)" fill="#3a78d8" clip-path="url(#clipM)"/>
<ellipse cx="163.8" cy="347.9" rx="1.6" ry="4.0" transform="rotate(2 163.8 347.9)" fill="#a070e8" clip-path="url(#clipM)"/>
<ellipse cx="164.6" cy="343.8" rx="0.7" ry="2.9" transform="rotate(-23 164.6 343.8)" fill="#a070e8" clip-path="url(#clipM)"/>
<ellipse cx="169.3" cy="344.9" rx="1.1" ry="1.9" transform="rotate(15 169.3 344.9)" fill="#3a78d8" clip-path="url(#clipM)"/>
<ellipse cx="167.3" cy="328.2" rx="1.2" ry="3.3" transform="rotate(21 167.3 328.2)" fill="#d8c8f0" clip-path="url(#clipM)"/>
<ellipse cx="162.7" cy="339.2" rx="1.4" ry="3.6" transform="rotate(9 162.7 339.2)" fill="#d8c8f0" clip-path="url(#clipM)"/>
<ellipse cx="169.7" cy="343.1" rx="1.4" ry="2.8" transform="rotate(3 169.7 343.1)" fill="#e0a0e0" clip-path="url(#clipM)"/>
<ellipse cx="170.7" cy="339.3" rx="1.5" ry="3.0" transform="rotate(-9 170.7 339.3)" fill="#2a5ac8" clip-path="url(#clipM)"/>
<ellipse cx="175.9" cy="347.2" rx="1.2" ry="2.5" transform="rotate(-18 175.9 347.2)" fill="#e0a0e0" clip-path="url(#clipM)"/>
<ellipse cx="168.8" cy="340.5" rx="0.9" ry="3.0" transform="rotate(0 168.8 340.5)" fill="#50a0e0" clip-path="url(#clipM)"/>
<ellipse cx="166.4" cy="339.7" rx="0.7" ry="3.8" transform="rotate(2 166.4 339.7)" fill="#50a0e0" clip-path="url(#clipM)"/>
<ellipse cx="162.3" cy="329.5" rx="0.9" ry="3.8" transform="rotate(-2 162.3 329.5)" fill="#2a5ac8" clip-path="url(#clipM)"/>
<ellipse cx="164.7" cy="338.2" rx="0.8" ry="2.8" transform="rotate(16 164.7 338.2)" fill="#d8c8f0" clip-path="url(#clipM)"/>
<ellipse cx="168.9" cy="329.9" rx="1.1" ry="1.9" transform="rotate(-12 168.9 329.9)" fill="#8a3ad8" clip-path="url(#clipM)"/>
<ellipse cx="160.9" cy="330.9" rx="0.7" ry="2.4" transform="rotate(11 160.9 330.9)" fill="#62c04a" clip-path="url(#clipM)"/>
<ellipse cx="170.4" cy="329.8" rx="1.4" ry="2.1" transform="rotate(1 170.4 329.8)" fill="#ffffff" clip-path="url(#clipM)"/>
<ellipse cx="172.0" cy="343.4" rx="1.5" ry="1.9" transform="rotate(7 172.0 343.4)" fill="#e0a0e0" clip-path="url(#clipM)"/>
<ellipse cx="170.3" cy="339.7" rx="1.5" ry="3.0" transform="rotate(-14 170.3 339.7)" fill="#62c04a" clip-path="url(#clipM)"/>
<ellipse cx="174.2" cy="341.3" rx="1.5" ry="2.3" transform="rotate(12 174.2 341.3)" fill="#a070e8" clip-path="url(#clipM)"/>
<ellipse cx="175.0" cy="334.6" rx="1.0" ry="3.8" transform="rotate(-14 175.0 334.6)" fill="#62c04a" clip-path="url(#clipM)"/>
<line x1="162.9" y1="313" x2="167.2" y2="313" stroke="#2a2a2a" stroke-width="0.9"/>
<line x1="162.9" y1="315.7" x2="169.3" y2="315.7" stroke="#2a2a2a" stroke-width="0.9"/>
<line x1="162.9" y1="318.4" x2="167.2" y2="318.4" stroke="#2a2a2a" stroke-width="0.9"/>
<line x1="162.9" y1="321.1" x2="169.3" y2="321.1" stroke="#2a2a2a" stroke-width="0.9"/>
<line x1="162.9" y1="323.8" x2="167.2" y2="323.8" stroke="#2a2a2a" stroke-width="0.9"/>
<line x1="162.9" y1="326.5" x2="169.3" y2="326.5" stroke="#2a2a2a" stroke-width="0.9"/>
<path d="M160.3 304.3V342.1L167.85 350.2H169.04999999999998L176.6 342.1V304.3Z" stroke="#3a3a3a" stroke-width="0.9" fill="none"/>
<ellipse cx="168.4" cy="304.3" rx="8.1" ry="1.3" fill="#f4f4f4" stroke="#3a3a3a" stroke-width="0.8"/>
<text x="33" y="363" font-size="13.5" stroke="#000" stroke-width="0.1">Neuronal cells</text>
<text x="119.6" y="363.4" font-size="13.5" stroke="#000" stroke-width="0.1">non-neuronal cells</text>
<line x1="101.6" y1="368.4" x2="128.78" y2="385.71" stroke="#111" stroke-width="1.1"/>
<path d="M133.0 388.4L127.5 387.7L130.0 383.8Z" fill="#111"/>
<line x1="34.6" y1="391.3" x2="235.3" y2="391.3" stroke="#111" stroke-width="1.2"/>
<rect x="23.5" y="398.3" width="72.6" height="58" fill="#00000a"/>
<clipPath id="cl1"><rect x="23.5" y="398.3" width="72.6" height="58"/></clipPath><g clip-path="url(#cl1)">
<circle cx="77.4" cy="444.4" r="1.02" fill="#1414e8"/>
<circle cx="88.9" cy="404.9" r="0.73" fill="#000098"/>
<circle cx="77.5" cy="428.8" r="0.53" fill="#0404c4"/>
<circle cx="35.5" cy="408.0" r="0.64" fill="#000098"/>
<circle cx="63.9" cy="423.6" r="0.55" fill="#000098"/>
<circle cx="48.0" cy="416.3" r="0.94" fill="#0404c4"/>
<circle cx="25.2" cy="441.8" r="0.96" fill="#00006c"/>
<circle cx="40.7" cy="418.1" r="0.52" fill="#000098"/>
<circle cx="48.5" cy="418.9" r="0.76" fill="#0404c4"/>
<circle cx="94.5" cy="410.4" r="0.76" fill="#000098"/>
<circle cx="75.5" cy="417.2" r="0.64" fill="#000098"/>
<circle cx="75.9" cy="416.2" r="0.74" fill="#1414e8"/>
<circle cx="48.5" cy="412.8" r="0.84" fill="#000098"/>
<circle cx="78.0" cy="417.4" r="0.99" fill="#0404c4"/>
<circle cx="48.6" cy="398.3" r="0.72" fill="#0404c4"/>
<circle cx="46.2" cy="410.4" r="0.75" fill="#000098"/>
<circle cx="80.6" cy="443.2" r="0.87" fill="#1414e8"/>
<circle cx="77.7" cy="404.4" r="0.65" fill="#000098"/>
<circle cx="46.8" cy="432.6" r="0.93" fill="#000098"/>
<circle cx="73.5" cy="454.9" r="1.02" fill="#0404c4"/>
<circle cx="85.2" cy="434.3" r="0.55" fill="#0404c4"/>
<circle cx="90.6" cy="450.8" r="0.82" fill="#000098"/>
<circle cx="35.5" cy="450.0" r="0.52" fill="#000098"/>
<circle cx="66.3" cy="412.1" r="0.99" fill="#00006c"/>
<circle cx="50.6" cy="400.4" r="0.82" fill="#00006c"/>
<circle cx="53.9" cy="445.5" r="0.84" fill="#000098"/>
<circle cx="67.7" cy="418.7" r="0.99" fill="#00006c"/>
<circle cx="88.2" cy="420.1" r="0.71" fill="#000098"/>
<circle cx="42.4" cy="455.2" r="0.75" fill="#0404c4"/>
<circle cx="32.3" cy="434.4" r="0.72" fill="#000098"/>
<circle cx="68.7" cy="409.3" r="0.61" fill="#000098"/>
<circle cx="57.4" cy="409.5" r="0.84" fill="#0404c4"/>
<circle cx="24.7" cy="405.6" r="0.62" fill="#1414e8"/>
<circle cx="82.5" cy="406.0" r="0.45" fill="#0404c4"/>
<circle cx="82.1" cy="432.8" r="0.86" fill="#1414e8"/>
<circle cx="37.8" cy="415.5" r="0.95" fill="#00006c"/>
<circle cx="89.6" cy="406.6" r="0.74" fill="#0404c4"/>
<circle cx="62.6" cy="423.0" r="0.77" fill="#00006c"/>
<circle cx="47.7" cy="423.2" r="0.49" fill="#0404c4"/>
<circle cx="31.6" cy="450.2" r="1.05" fill="#1414e8"/>
<circle cx="40.6" cy="424.3" r="0.49" fill="#000098"/>
<circle cx="32.1" cy="421.4" r="0.82" fill="#00006c"/>
<circle cx="27.5" cy="438.7" r="0.54" fill="#1414e8"/>
<circle cx="35.9" cy="425.9" r="0.62" fill="#000098"/>
<circle cx="56.4" cy="420.9" r="0.53" fill="#00006c"/>
<circle cx="56.4" cy="420.9" r="0.73" fill="#000098"/>
<circle cx="54.7" cy="444.4" r="0.90" fill="#00006c"/>
<circle cx="83.1" cy="406.4" r="0.82" fill="#000098"/>
<circle cx="30.1" cy="400.9" r="0.68" fill="#1414e8"/>
<circle cx="81.9" cy="423.4" r="0.96" fill="#0404c4"/>
<circle cx="89.3" cy="447.1" r="0.74" fill="#0404c4"/>
<circle cx="47.0" cy="425.1" r="0.56" fill="#1414e8"/>
<circle cx="31.5" cy="445.8" r="0.90" fill="#1414e8"/>
<circle cx="83.2" cy="435.5" r="0.73" fill="#000098"/>
<circle cx="25.9" cy="439.8" r="0.79" fill="#1414e8"/>
<circle cx="38.7" cy="452.9" r="0.88" fill="#000098"/>
<circle cx="67.9" cy="426.5" r="0.71" fill="#000098"/>
<circle cx="23.5" cy="406.2" r="0.88" fill="#000098"/>
<circle cx="91.4" cy="401.4" r="0.60" fill="#00006c"/>
<circle cx="96.1" cy="433.5" r="0.57" fill="#1414e8"/>
<circle cx="29.8" cy="455.4" r="0.55" fill="#00006c"/>
<circle cx="81.0" cy="445.5" r="0.70" fill="#0404c4"/>
<circle cx="83.5" cy="411.3" r="0.52" fill="#000098"/>
<circle cx="76.3" cy="445.1" r="0.93" fill="#0404c4"/>
<circle cx="55.1" cy="432.1" r="0.49" fill="#000098"/>
<circle cx="55.6" cy="445.7" r="0.84" fill="#00006c"/>
<circle cx="42.9" cy="445.4" r="0.68" fill="#000098"/>
<circle cx="75.9" cy="441.0" r="0.47" fill="#00006c"/>
<circle cx="26.9" cy="415.7" r="0.65" fill="#00006c"/>
<circle cx="35.9" cy="439.4" r="0.72" fill="#0404c4"/>
<circle cx="35.7" cy="443.5" r="0.81" fill="#000098"/>
<circle cx="31.0" cy="445.5" r="0.70" fill="#00006c"/>
<circle cx="52.0" cy="410.8" r="0.62" fill="#000098"/>
<circle cx="41.5" cy="455.3" r="0.95" fill="#00006c"/>
<circle cx="30.3" cy="421.3" r="0.90" fill="#000098"/>
<circle cx="31.9" cy="442.9" r="0.77" fill="#00006c"/>
<circle cx="24.2" cy="428.0" r="0.80" fill="#000098"/>
<circle cx="87.8" cy="419.4" r="0.68" fill="#0404c4"/>
<circle cx="73.8" cy="437.2" r="0.77" fill="#0404c4"/>
<circle cx="93.2" cy="446.4" r="0.80" fill="#1414e8"/>
<circle cx="78.6" cy="430.8" r="0.99" fill="#1414e8"/>
<circle cx="67.5" cy="430.9" r="0.74" fill="#00006c"/>
<circle cx="23.5" cy="421.3" r="0.85" fill="#0404c4"/>
<circle cx="52.0" cy="448.5" r="0.78" fill="#1414e8"/>
<circle cx="88.8" cy="448.4" r="0.61" fill="#0404c4"/>
<circle cx="78.2" cy="440.1" r="0.83" fill="#0404c4"/>
<circle cx="54.4" cy="429.0" r="0.99" fill="#000098"/>
<circle cx="84.8" cy="450.6" r="0.79" fill="#0404c4"/>
<circle cx="75.6" cy="423.7" r="0.49" fill="#000098"/>
<circle cx="90.8" cy="411.6" r="0.87" fill="#0404c4"/>
<circle cx="83.4" cy="420.7" r="0.54" fill="#0404c4"/>
<circle cx="55.5" cy="417.0" r="0.91" fill="#000098"/>
<circle cx="82.6" cy="409.6" r="0.64" fill="#000098"/>
<circle cx="57.3" cy="398.6" r="1.04" fill="#000098"/>
<circle cx="81.3" cy="417.6" r="0.94" fill="#000098"/>
<circle cx="36.3" cy="445.7" r="0.75" fill="#1414e8"/>
<circle cx="85.5" cy="448.6" r="0.96" fill="#0404c4"/>
<circle cx="52.5" cy="440.0" r="0.71" fill="#000098"/>
<circle cx="96.1" cy="443.9" r="0.67" fill="#00006c"/>
<circle cx="61.6" cy="442.0" r="0.46" fill="#0404c4"/>
<circle cx="44.4" cy="437.7" r="0.71" fill="#0404c4"/>
<circle cx="68.4" cy="432.4" r="0.58" fill="#0404c4"/>
<circle cx="87.0" cy="446.2" r="1.00" fill="#0404c4"/>
<circle cx="54.1" cy="454.7" r="1.05" fill="#000098"/>
<circle cx="32.5" cy="408.1" r="0.72" fill="#00006c"/>
<circle cx="81.3" cy="412.8" r="0.53" fill="#000098"/>
<circle cx="56.4" cy="423.5" r="0.92" fill="#000098"/>
<circle cx="76.6" cy="421.5" r="0.99" fill="#0404c4"/>
<circle cx="86.9" cy="440.5" r="0.74" fill="#1414e8"/>
<circle cx="81.1" cy="401.6" r="0.75" fill="#00006c"/>
<circle cx="71.0" cy="451.9" r="0.67" fill="#0404c4"/>
<circle cx="45.1" cy="424.5" r="0.84" fill="#00006c"/>
<circle cx="51.7" cy="451.9" r="0.63" fill="#0404c4"/>
<circle cx="38.6" cy="424.6" r="0.49" fill="#00006c"/>
<circle cx="33.9" cy="405.5" r="0.60" fill="#00006c"/>
<circle cx="87.0" cy="451.4" r="0.95" fill="#0404c4"/>
<circle cx="73.9" cy="433.7" r="0.85" fill="#1414e8"/>
<circle cx="65.4" cy="429.4" r="0.87" fill="#1414e8"/>
<circle cx="45.2" cy="405.8" r="0.49" fill="#1414e8"/>
<circle cx="92.0" cy="440.0" r="0.84" fill="#0404c4"/>
<circle cx="96.1" cy="456.3" r="0.83" fill="#0404c4"/>
<circle cx="23.6" cy="415.8" r="1.00" fill="#000098"/>
<circle cx="71.6" cy="422.6" r="0.92" fill="#000098"/>
<circle cx="80.8" cy="416.2" r="0.94" fill="#1414e8"/>
<circle cx="91.5" cy="440.1" r="0.90" fill="#000098"/>
<circle cx="30.7" cy="448.1" r="0.98" fill="#000098"/>
<circle cx="94.8" cy="456.1" r="0.92" fill="#0404c4"/>
<circle cx="70.8" cy="437.8" r="0.64" fill="#000098"/>
<circle cx="31.0" cy="442.9" r="0.52" fill="#0404c4"/>
<circle cx="23.5" cy="416.5" r="0.47" fill="#0404c4"/>
<circle cx="70.7" cy="408.9" r="0.65" fill="#1414e8"/>
<circle cx="44.3" cy="408.3" r="0.75" fill="#000098"/>
<circle cx="33.2" cy="410.1" r="0.87" fill="#1414e8"/>
<circle cx="40.5" cy="412.8" r="0.84" fill="#1414e8"/>
<circle cx="45.1" cy="449.6" r="0.83" fill="#1414e8"/>
<circle cx="58.4" cy="447.2" r="0.97" fill="#0404c4"/>
<circle cx="48.4" cy="443.8" r="0.76" fill="#000098"/>
<circle cx="75.9" cy="413.1" r="0.96" fill="#1414e8"/>
<circle cx="47.3" cy="438.3" r="0.92" fill="#00006c"/>
<circle cx="26.6" cy="429.3" r="0.74" fill="#00006c"/>
<circle cx="60.0" cy="426.1" r="0.95" fill="#1414e8"/>
<circle cx="43.6" cy="424.6" r="0.75" fill="#0404c4"/>
<circle cx="55.8" cy="438.1" r="0.49" fill="#000098"/>
<circle cx="31.2" cy="424.9" r="0.71" fill="#0404c4"/>
<circle cx="84.1" cy="433.9" r="0.88" fill="#0404c4"/>
<circle cx="38.1" cy="429.3" r="0.98" fill="#000098"/>
<circle cx="51.9" cy="443.1" r="0.52" fill="#0404c4"/>
<circle cx="43.4" cy="428.7" r="0.57" fill="#1414e8"/>
<circle cx="78.9" cy="448.8" r="1.00" fill="#0404c4"/>
<circle cx="64.2" cy="446.2" r="0.89" fill="#1414e8"/>
<circle cx="39.5" cy="412.0" r="0.83" fill="#1414e8"/>
<circle cx="74.7" cy="453.3" r="0.90" fill="#1414e8"/>
<circle cx="50.2" cy="455.6" r="0.88" fill="#000098"/>
<circle cx="81.8" cy="424.5" r="1.00" fill="#0404c4"/>
<circle cx="52.0" cy="430.7" r="1.04" fill="#00006c"/>
<circle cx="29.5" cy="436.3" r="0.64" fill="#00006c"/>
<circle cx="46.8" cy="448.0" r="0.92" fill="#000098"/>
<circle cx="73.0" cy="403.2" r="0.74" fill="#0404c4"/>
<circle cx="66.7" cy="417.3" r="0.95" fill="#0404c4"/>
<circle cx="54.3" cy="455.6" r="0.97" fill="#000098"/>
<circle cx="59.3" cy="398.3" r="0.81" fill="#000098"/>
<circle cx="84.9" cy="431.3" r="0.72" fill="#1414e8"/>
<circle cx="87.3" cy="416.0" r="0.67" fill="#0404c4"/>
<circle cx="76.2" cy="446.7" r="0.47" fill="#00006c"/>
<circle cx="44.2" cy="436.4" r="0.47" fill="#0404c4"/>
<circle cx="84.6" cy="434.2" r="0.96" fill="#000098"/>
<circle cx="50.4" cy="443.8" r="1.02" fill="#00006c"/>
<circle cx="62.9" cy="419.0" r="0.56" fill="#0404c4"/>
<circle cx="68.0" cy="424.7" r="0.62" fill="#00006c"/>
<circle cx="25.4" cy="404.9" r="0.78" fill="#00006c"/>
<circle cx="86.1" cy="450.6" r="0.48" fill="#000098"/>
<circle cx="43.4" cy="449.4" r="0.47" fill="#00006c"/>
<circle cx="79.5" cy="422.7" r="0.49" fill="#00006c"/>
<circle cx="65.9" cy="451.8" r="0.66" fill="#000098"/>
<circle cx="76.9" cy="403.1" r="0.73" fill="#000098"/>
<circle cx="76.6" cy="451.2" r="0.78" fill="#0404c4"/>
<circle cx="32.2" cy="403.0" r="0.60" fill="#000098"/>
<circle cx="46.9" cy="421.1" r="0.64" fill="#1414e8"/>
<circle cx="40.4" cy="427.3" r="0.79" fill="#00006c"/>
<circle cx="33.6" cy="442.4" r="0.55" fill="#0404c4"/>
<circle cx="73.7" cy="402.9" r="0.56" fill="#0404c4"/>
<circle cx="72.6" cy="435.4" r="0.79" fill="#0404c4"/>
<circle cx="78.2" cy="440.6" r="0.84" fill="#000098"/>
<circle cx="52.4" cy="412.0" r="0.89" fill="#0404c4"/>
<circle cx="72.8" cy="425.6" r="0.57" fill="#1414e8"/>
<circle cx="86.3" cy="442.7" r="0.59" fill="#000098"/>
<circle cx="82.2" cy="402.2" r="0.69" fill="#000098"/>
<circle cx="92.9" cy="433.8" r="0.48" fill="#0404c4"/>
<circle cx="31.0" cy="406.7" r="0.82" fill="#0404c4"/>
<circle cx="64.6" cy="443.9" r="0.85" fill="#000098"/>
<circle cx="46.0" cy="417.9" r="0.56" fill="#0404c4"/>
<circle cx="82.3" cy="421.8" r="0.52" fill="#0404c4"/>
<circle cx="73.2" cy="412.6" r="1.03" fill="#00006c"/>
<circle cx="60.6" cy="417.7" r="0.52" fill="#00006c"/>
<circle cx="48.2" cy="411.3" r="0.55" fill="#0404c4"/>
<circle cx="74.4" cy="415.3" r="0.78" fill="#000098"/>
<circle cx="76.9" cy="409.7" r="0.65" fill="#000098"/>
<circle cx="63.8" cy="427.9" r="0.60" fill="#000098"/>
<circle cx="47.5" cy="418.1" r="0.51" fill="#000098"/>
<circle cx="86.9" cy="416.7" r="1.02" fill="#00006c"/>
<circle cx="77.0" cy="445.3" r="0.45" fill="#000098"/>
<circle cx="63.7" cy="416.0" r="0.50" fill="#0404c4"/>
<circle cx="57.3" cy="435.3" r="0.74" fill="#000098"/>
<circle cx="26.7" cy="406.9" r="0.85" fill="#1414e8"/>
<circle cx="43.4" cy="427.1" r="0.73" fill="#0404c4"/>
<circle cx="28.5" cy="403.2" r="0.98" fill="#0404c4"/>
<circle cx="71.7" cy="401.2" r="0.71" fill="#0404c4"/>
<circle cx="94.0" cy="408.0" r="0.84" fill="#0404c4"/>
<circle cx="62.8" cy="424.2" r="0.98" fill="#000098"/>
<circle cx="76.3" cy="402.6" r="0.62" fill="#1414e8"/>
<circle cx="61.2" cy="424.7" r="0.70" fill="#0404c4"/>
<circle cx="25.7" cy="449.4" r="0.51" fill="#000098"/>
<circle cx="61.7" cy="449.8" r="0.85" fill="#00006c"/>
<circle cx="46.3" cy="411.5" r="0.54" fill="#000098"/>
<circle cx="47.3" cy="403.4" r="0.75" fill="#000098"/>
<circle cx="65.0" cy="427.7" r="0.93" fill="#1414e8"/>
<circle cx="42.6" cy="429.3" r="0.79" fill="#1414e8"/>
<circle cx="73.4" cy="449.9" r="0.52" fill="#0404c4"/>
<circle cx="89.2" cy="413.5" r="0.88" fill="#000098"/>
<circle cx="40.7" cy="443.5" r="0.62" fill="#0404c4"/>
<circle cx="29.6" cy="404.3" r="0.69" fill="#1414e8"/>
<circle cx="24.2" cy="421.3" r="0.80" fill="#00006c"/>
<circle cx="80.7" cy="434.8" r="0.57" fill="#0404c4"/>
<circle cx="34.2" cy="401.0" r="0.68" fill="#000098"/>
<circle cx="94.5" cy="447.7" r="0.58" fill="#0404c4"/>
<circle cx="88.3" cy="414.3" r="0.75" fill="#00006c"/>
<circle cx="24.8" cy="406.4" r="0.97" fill="#1414e8"/>
<circle cx="66.3" cy="424.9" r="0.74" fill="#0404c4"/>
<circle cx="23.5" cy="444.3" r="1.03" fill="#00006c"/>
<circle cx="33.5" cy="402.2" r="0.46" fill="#1414e8"/>
<circle cx="91.4" cy="417.3" r="0.85" fill="#1414e8"/>
<circle cx="28.6" cy="447.6" r="0.54" fill="#000098"/>
<circle cx="55.2" cy="446.8" r="0.68" fill="#0404c4"/>
<circle cx="85.5" cy="431.0" r="0.81" fill="#000098"/>
<circle cx="52.0" cy="428.1" r="0.57" fill="#1414e8"/>
<circle cx="28.8" cy="430.8" r="0.86" fill="#000098"/>
<circle cx="64.4" cy="446.0" r="0.51" fill="#00006c"/>
<circle cx="85.6" cy="439.0" r="0.68" fill="#00006c"/>
<circle cx="91.5" cy="425.2" r="0.58" fill="#000098"/>
<circle cx="64.4" cy="436.8" r="0.83" fill="#00006c"/>
<circle cx="67.7" cy="424.0" r="0.54" fill="#000098"/>
<circle cx="84.2" cy="454.9" r="0.87" fill="#000098"/>
<circle cx="59.1" cy="445.1" r="0.48" fill="#1414e8"/>
<circle cx="95.8" cy="444.7" r="1.03" fill="#0404c4"/>
<circle cx="55.7" cy="442.2" r="0.61" fill="#0404c4"/>
<circle cx="40.0" cy="452.2" r="0.73" fill="#000098"/>
<circle cx="38.1" cy="436.5" r="1.02" fill="#00006c"/>
<circle cx="76.8" cy="431.8" r="0.64" fill="#0404c4"/>
<circle cx="51.7" cy="442.9" r="0.50" fill="#1414e8"/>
<circle cx="92.5" cy="400.8" r="0.49" fill="#000098"/>
<circle cx="42.3" cy="454.7" r="0.50" fill="#00006c"/>
<circle cx="42.4" cy="431.9" r="0.95" fill="#1414e8"/>
<circle cx="84.9" cy="417.1" r="1.03" fill="#000098"/>
<circle cx="55.7" cy="434.3" r="0.66" fill="#0404c4"/>
<circle cx="82.9" cy="438.2" r="0.83" fill="#0404c4"/>
<circle cx="51.4" cy="430.8" r="0.78" fill="#000098"/>
<circle cx="70.1" cy="417.4" r="0.59" fill="#1414e8"/>
<circle cx="26.8" cy="419.0" r="0.79" fill="#1414e8"/>
<circle cx="42.4" cy="426.8" r="0.72" fill="#000098"/>
<circle cx="61.8" cy="448.5" r="0.55" fill="#000098"/>
<circle cx="68.8" cy="455.0" r="0.82" fill="#1414e8"/>
<circle cx="56.5" cy="417.6" r="0.55" fill="#0404c4"/>
<circle cx="89.2" cy="415.6" r="0.49" fill="#000098"/>
<circle cx="91.2" cy="442.2" r="0.51" fill="#1414e8"/>
<circle cx="54.7" cy="426.8" r="0.69" fill="#0404c4"/>
<circle cx="31.4" cy="453.9" r="1.01" fill="#00006c"/>
<circle cx="69.3" cy="449.8" r="0.60" fill="#0404c4"/>
<circle cx="38.1" cy="429.0" r="0.49" fill="#000098"/>
<circle cx="74.1" cy="413.7" r="0.86" fill="#0404c4"/>
<circle cx="83.3" cy="415.5" r="0.55" fill="#000098"/>
<circle cx="71.9" cy="410.5" r="0.63" fill="#0404c4"/>
<circle cx="71.1" cy="437.5" r="0.94" fill="#1414e8"/>
<circle cx="25.1" cy="424.7" r="0.70" fill="#1414e8"/>
<circle cx="67.2" cy="407.7" r="0.54" fill="#000098"/>
<circle cx="89.0" cy="445.9" r="0.46" fill="#000098"/>
<circle cx="53.1" cy="400.7" r="1.02" fill="#1414e8"/>
<circle cx="69.7" cy="405.6" r="0.90" fill="#000098"/>
<circle cx="63.8" cy="447.7" r="1.01" fill="#000098"/>
<circle cx="95.9" cy="412.5" r="0.57" fill="#0404c4"/>
<circle cx="59.7" cy="453.7" r="0.53" fill="#000098"/>
<circle cx="82.4" cy="406.5" r="0.89" fill="#0404c4"/>
<circle cx="35.9" cy="418.9" r="1.00" fill="#0404c4"/>
<circle cx="56.6" cy="434.9" r="0.82" fill="#0404c4"/>
<circle cx="37.8" cy="426.8" r="0.61" fill="#000098"/>
<circle cx="25.3" cy="408.6" r="0.84" fill="#1414e8"/>
<circle cx="80.3" cy="430.9" r="0.79" fill="#00006c"/>
<circle cx="73.1" cy="430.9" r="0.86" fill="#000098"/>
<circle cx="60.8" cy="409.5" r="0.87" fill="#000098"/>
<circle cx="92.9" cy="442.4" r="0.63" fill="#1414e8"/>
<circle cx="82.5" cy="445.2" r="0.56" fill="#000098"/>
<circle cx="89.8" cy="443.2" r="0.99" fill="#0404c4"/>
<circle cx="24.0" cy="415.6" r="0.88" fill="#1414e8"/>
<circle cx="82.3" cy="448.5" r="0.54" fill="#0404c4"/>
<circle cx="37.8" cy="426.2" r="0.65" fill="#0404c4"/>
<circle cx="60.3" cy="409.5" r="0.85" fill="#000098"/>
<circle cx="37.5" cy="435.4" r="0.63" fill="#0404c4"/>
<circle cx="80.8" cy="438.3" r="0.77" fill="#0404c4"/>
<circle cx="71.3" cy="419.7" r="0.48" fill="#000098"/>
<circle cx="37.7" cy="407.1" r="0.53" fill="#1414e8"/>
<circle cx="50.0" cy="435.4" r="0.94" fill="#0404c4"/>
<circle cx="86.0" cy="417.5" r="0.48" fill="#0404c4"/>
<circle cx="80.8" cy="421.3" r="0.88" fill="#000098"/>
<circle cx="23.8" cy="414.3" r="0.57" fill="#1414e8"/>
<circle cx="60.2" cy="418.6" r="0.93" fill="#00006c"/>
<circle cx="35.3" cy="424.8" r="0.80" fill="#000098"/>
<circle cx="56.8" cy="442.2" r="0.58" fill="#1414e8"/>
<circle cx="76.0" cy="421.5" r="0.56" fill="#1414e8"/>
<circle cx="91.5" cy="432.5" r="0.74" fill="#00006c"/>
<circle cx="68.5" cy="434.4" r="0.50" fill="#00006c"/>
<circle cx="34.2" cy="414.5" r="0.60" fill="#000098"/>
<circle cx="85.0" cy="418.3" r="0.53" fill="#000098"/>
<circle cx="30.3" cy="419.8" r="0.87" fill="#0404c4"/>
<circle cx="57.3" cy="408.0" r="0.88" fill="#0404c4"/>
<circle cx="29.8" cy="417.8" r="0.95" fill="#00006c"/>
<circle cx="31.9" cy="451.2" r="0.77" fill="#00006c"/>
<circle cx="91.7" cy="408.4" r="0.91" fill="#000098"/>
<circle cx="95.8" cy="451.2" r="0.89" fill="#0404c4"/>
<circle cx="63.8" cy="432.5" r="0.81" fill="#00006c"/>
<circle cx="45.9" cy="438.5" r="0.87" fill="#000098"/>
<circle cx="61.9" cy="448.3" r="0.89" fill="#000098"/>
<circle cx="26.7" cy="408.8" r="0.81" fill="#0404c4"/>
<circle cx="87.1" cy="402.4" r="0.70" fill="#000098"/>
<circle cx="70.5" cy="444.9" r="0.62" fill="#0404c4"/>
<circle cx="68.5" cy="410.6" r="0.96" fill="#1414e8"/>
<circle cx="57.5" cy="439.5" r="1.04" fill="#0404c4"/>
<circle cx="81.3" cy="413.5" r="0.48" fill="#00006c"/>
<circle cx="81.7" cy="417.5" r="0.67" fill="#1414e8"/>
<circle cx="81.9" cy="405.0" r="0.55" fill="#00006c"/>
<circle cx="83.4" cy="411.3" r="0.56" fill="#000098"/>
<circle cx="36.0" cy="405.0" r="0.95" fill="#00006c"/>
<circle cx="85.9" cy="446.4" r="0.86" fill="#0404c4"/>
<circle cx="42.5" cy="456.2" r="0.56" fill="#0404c4"/>
<circle cx="87.2" cy="453.1" r="0.85" fill="#00006c"/>
<circle cx="65.3" cy="425.8" r="0.69" fill="#1414e8"/>
<circle cx="80.0" cy="420.8" r="0.65" fill="#000098"/>
<circle cx="74.2" cy="413.6" r="0.47" fill="#1414e8"/>
<circle cx="38.0" cy="399.3" r="1.04" fill="#0404c4"/>
<circle cx="80.8" cy="421.0" r="0.97" fill="#00006c"/>
<circle cx="92.9" cy="413.9" r="0.76" fill="#0404c4"/>
<circle cx="48.0" cy="408.5" r="0.50" fill="#1414e8"/>
<circle cx="33.1" cy="433.8" r="0.53" fill="#000098"/>
<circle cx="65.5" cy="431.1" r="0.65" fill="#000098"/>
<circle cx="81.3" cy="446.2" r="0.64" fill="#0404c4"/>
<circle cx="54.0" cy="444.3" r="0.72" fill="#000098"/>
<circle cx="27.1" cy="430.7" r="0.87" fill="#00006c"/>
<circle cx="51.2" cy="441.6" r="0.85" fill="#0404c4"/>
<circle cx="31.3" cy="403.8" r="0.83" fill="#00006c"/>
<circle cx="68.2" cy="409.7" r="0.78" fill="#000098"/>
<circle cx="96.1" cy="446.2" r="0.80" fill="#000098"/>
<circle cx="40.7" cy="407.0" r="0.83" fill="#000098"/>
<circle cx="52.8" cy="431.6" r="0.65" fill="#1414e8"/>
<circle cx="95.5" cy="440.4" r="0.68" fill="#1414e8"/>
<circle cx="26.3" cy="444.3" r="1.03" fill="#0404c4"/>
<circle cx="56.9" cy="427.8" r="0.47" fill="#000098"/>
<circle cx="76.4" cy="450.6" r="0.75" fill="#1414e8"/>
<circle cx="81.7" cy="456.1" r="0.46" fill="#000098"/>
<circle cx="76.8" cy="411.2" r="0.87" fill="#00006c"/>
<circle cx="35.3" cy="427.4" r="0.71" fill="#000098"/>
<circle cx="28.4" cy="419.0" r="0.96" fill="#000098"/>
<circle cx="82.2" cy="439.6" r="0.67" fill="#000098"/>
<circle cx="27.5" cy="422.7" r="0.54" fill="#000098"/>
<circle cx="76.6" cy="434.7" r="0.78" fill="#0404c4"/>
<circle cx="31.8" cy="403.0" r="0.54" fill="#0404c4"/>
<circle cx="76.4" cy="444.9" r="0.95" fill="#000098"/>
<circle cx="80.1" cy="400.3" r="0.74" fill="#0404c4"/>
<circle cx="81.8" cy="442.5" r="0.66" fill="#0404c4"/>
<circle cx="94.6" cy="438.7" r="0.72" fill="#000098"/>
<circle cx="79.0" cy="425.3" r="0.93" fill="#0404c4"/>
<circle cx="74.0" cy="427.7" r="0.51" fill="#1414e8"/>
<circle cx="47.6" cy="413.2" r="0.82" fill="#000098"/>
<circle cx="36.0" cy="434.3" r="0.63" fill="#00006c"/>
<circle cx="49.6" cy="442.2" r="0.70" fill="#0404c4"/>
<circle cx="86.2" cy="403.9" r="1.04" fill="#1414e8"/>
<circle cx="69.1" cy="444.9" r="0.81" fill="#00006c"/>
<circle cx="43.7" cy="401.7" r="0.78" fill="#00006c"/>
<circle cx="34.6" cy="438.4" r="0.59" fill="#00006c"/>
<circle cx="50.7" cy="431.9" r="0.82" fill="#0404c4"/>
<circle cx="87.1" cy="417.6" r="0.81" fill="#000098"/>
<circle cx="77.9" cy="415.6" r="1.04" fill="#0404c4"/>
<circle cx="45.2" cy="406.2" r="0.51" fill="#0404c4"/>
<circle cx="65.3" cy="427.7" r="0.80" fill="#0404c4"/>
<circle cx="60.8" cy="436.6" r="1.01" fill="#1414e8"/>
<circle cx="66.5" cy="408.0" r="0.46" fill="#00006c"/>
<circle cx="77.0" cy="420.0" r="0.83" fill="#000098"/>
<circle cx="42.5" cy="421.5" r="0.47" fill="#1414e8"/>
<circle cx="93.7" cy="418.8" r="0.52" fill="#000098"/>
<circle cx="72.4" cy="435.6" r="0.54" fill="#0404c4"/>
<circle cx="25.4" cy="439.5" r="0.45" fill="#1414e8"/>
<circle cx="53.7" cy="405.0" r="0.83" fill="#0404c4"/>
<circle cx="55.6" cy="440.1" r="0.94" fill="#000098"/>
<circle cx="95.3" cy="436.5" r="0.71" fill="#00006c"/>
<circle cx="61.1" cy="419.8" r="0.63" fill="#0404c4"/>
<circle cx="62.5" cy="453.5" r="0.87" fill="#000098"/>
<circle cx="38.6" cy="403.0" r="0.65" fill="#0404c4"/>
<circle cx="43.9" cy="432.2" r="0.77" fill="#000098"/>
<circle cx="37.2" cy="398.8" r="0.71" fill="#000098"/>
<circle cx="90.5" cy="433.2" r="0.95" fill="#1414e8"/>
<circle cx="62.9" cy="429.3" r="0.76" fill="#1414e8"/>
<circle cx="67.7" cy="399.8" r="0.54" fill="#0404c4"/>
<circle cx="64.6" cy="410.5" r="0.92" fill="#000098"/>
<circle cx="70.1" cy="422.5" r="1.01" fill="#000098"/>
<circle cx="24.3" cy="454.7" r="0.96" fill="#00006c"/>
<circle cx="63.2" cy="447.6" r="0.74" fill="#00006c"/>
<circle cx="55.4" cy="425.6" r="0.76" fill="#00006c"/>
<circle cx="68.6" cy="438.3" r="0.98" fill="#1414e8"/>
<circle cx="70.1" cy="438.3" r="0.50" fill="#000098"/>
<circle cx="71.4" cy="408.5" r="0.51" fill="#000098"/>
<circle cx="62.9" cy="411.1" r="0.60" fill="#00006c"/>
<circle cx="63.8" cy="443.4" r="0.53" fill="#0404c4"/>
<circle cx="26.1" cy="430.9" r="0.58" fill="#0404c4"/>
<circle cx="80.3" cy="420.3" r="0.89" fill="#1414e8"/>
<circle cx="95.0" cy="438.9" r="0.71" fill="#00006c"/>
<circle cx="50.6" cy="439.8" r="0.99" fill="#00006c"/>
<circle cx="46.0" cy="420.5" r="0.51" fill="#0404c4"/>
<circle cx="32.8" cy="411.7" r="0.71" fill="#1414e8"/>
<circle cx="23.5" cy="413.0" r="0.80" fill="#0404c4"/>
<circle cx="46.5" cy="449.5" r="0.99" fill="#00006c"/>
<circle cx="34.1" cy="423.7" r="0.55" fill="#0404c4"/>
<circle cx="86.5" cy="417.7" r="0.73" fill="#000098"/>
<circle cx="38.3" cy="428.2" r="0.54" fill="#0404c4"/>
<circle cx="44.4" cy="409.7" r="0.78" fill="#0404c4"/>
<circle cx="32.8" cy="448.1" r="0.91" fill="#000098"/>
<circle cx="81.3" cy="455.5" r="0.52" fill="#000098"/>
<circle cx="63.4" cy="439.1" r="0.72" fill="#1414e8"/>
<circle cx="81.7" cy="415.4" r="0.86" fill="#000098"/>
<circle cx="75.1" cy="447.6" r="1.00" fill="#1414e8"/>
<circle cx="42.7" cy="425.2" r="1.02" fill="#0404c4"/>
<circle cx="42.3" cy="409.4" r="0.50" fill="#00006c"/>
<circle cx="34.5" cy="448.1" r="0.73" fill="#0404c4"/>
<circle cx="57.1" cy="424.4" r="0.66" fill="#1414e8"/>
<circle cx="49.2" cy="436.3" r="0.89" fill="#000098"/>
<circle cx="93.8" cy="412.8" r="0.82" fill="#000098"/>
<circle cx="93.5" cy="419.4" r="1.01" fill="#00006c"/>
<circle cx="51.0" cy="414.3" r="0.49" fill="#000098"/>
<circle cx="47.1" cy="433.1" r="0.49" fill="#000098"/>
<circle cx="39.5" cy="446.7" r="0.53" fill="#000098"/>
<circle cx="96.1" cy="453.9" r="0.64" fill="#0404c4"/>
<circle cx="78.1" cy="437.1" r="0.83" fill="#0404c4"/>
<circle cx="90.6" cy="448.0" r="0.88" fill="#1414e8"/>
<circle cx="59.8" cy="417.3" r="0.55" fill="#0404c4"/>
<circle cx="84.7" cy="418.6" r="0.54" fill="#000098"/>
<circle cx="77.7" cy="408.9" r="0.67" fill="#000098"/>
<circle cx="81.4" cy="409.4" r="0.77" fill="#000098"/>
<circle cx="24.0" cy="412.1" r="0.62" fill="#1414e8"/>
<circle cx="73.9" cy="418.7" r="0.87" fill="#000098"/>
<circle cx="79.3" cy="450.7" r="0.91" fill="#00006c"/>
<circle cx="82.5" cy="425.3" r="0.79" fill="#0404c4"/>
<circle cx="29.7" cy="446.5" r="0.59" fill="#000098"/>
<circle cx="55.2" cy="412.5" r="0.75" fill="#0404c4"/>
<circle cx="43.1" cy="449.2" r="0.83" fill="#0404c4"/>
<circle cx="93.0" cy="417.7" r="0.64" fill="#000098"/>
<circle cx="94.3" cy="429.9" r="0.98" fill="#0404c4"/>
<circle cx="59.3" cy="430.1" r="0.70" fill="#0404c4"/>
<circle cx="89.4" cy="422.9" r="0.90" fill="#00006c"/>
<circle cx="65.6" cy="430.0" r="1.05" fill="#0404c4"/>
<circle cx="65.5" cy="414.9" r="0.78" fill="#000098"/>
<circle cx="30.2" cy="418.2" r="1.01" fill="#0404c4"/>
<circle cx="88.4" cy="414.9" r="1.02" fill="#1414e8"/>
<circle cx="73.0" cy="437.7" r="0.52" fill="#1414e8"/>
<circle cx="43.7" cy="433.2" r="0.74" fill="#0404c4"/>
<circle cx="69.9" cy="403.6" r="0.67" fill="#1414e8"/>
<circle cx="31.6" cy="442.6" r="0.80" fill="#000098"/>
<circle cx="88.8" cy="451.5" r="0.82" fill="#0404c4"/>
<circle cx="67.5" cy="450.5" r="0.80" fill="#0404c4"/>
<circle cx="54.0" cy="441.4" r="0.72" fill="#000098"/>
<circle cx="65.6" cy="451.1" r="0.71" fill="#00006c"/>
<circle cx="77.7" cy="433.0" r="0.60" fill="#0404c4"/>
<circle cx="78.3" cy="445.7" r="0.46" fill="#00006c"/>
<circle cx="50.8" cy="420.2" r="0.69" fill="#1414e8"/>
<circle cx="87.5" cy="414.1" r="0.82" fill="#0404c4"/>
<circle cx="24.4" cy="439.3" r="0.77" fill="#000098"/>
<circle cx="79.5" cy="419.5" r="0.64" fill="#000098"/>
<circle cx="61.1" cy="422.1" r="0.48" fill="#000098"/>
<circle cx="36.3" cy="407.7" r="0.78" fill="#00006c"/>
<circle cx="60.3" cy="408.0" r="0.90" fill="#0404c4"/>
<circle cx="31.7" cy="401.8" r="1.04" fill="#000098"/>
<circle cx="70.7" cy="421.1" r="0.71" fill="#000098"/>
<circle cx="56.1" cy="448.9" r="0.58" fill="#000098"/>
<circle cx="57.8" cy="426.2" r="0.79" fill="#00006c"/>
<circle cx="83.8" cy="401.1" r="0.79" fill="#00006c"/>
<circle cx="44.4" cy="442.2" r="0.70" fill="#1414e8"/>
<circle cx="60.9" cy="438.6" r="0.83" fill="#000098"/>
<circle cx="26.0" cy="399.4" r="0.61" fill="#0404c4"/>
<circle cx="83.0" cy="413.5" r="0.62" fill="#000098"/>
<circle cx="94.3" cy="401.3" r="0.78" fill="#1414e8"/>
<circle cx="28.8" cy="412.5" r="0.57" fill="#00006c"/>
<circle cx="73.0" cy="416.3" r="0.84" fill="#000098"/>
<circle cx="34.2" cy="416.3" r="0.84" fill="#0404c4"/>
<circle cx="37.4" cy="413.1" r="0.52" fill="#000098"/>
<circle cx="50.5" cy="400.3" r="0.50" fill="#0404c4"/>
<circle cx="69.4" cy="416.4" r="0.97" fill="#000098"/>
<circle cx="26.5" cy="403.0" r="0.45" fill="#0404c4"/>
<circle cx="46.9" cy="444.8" r="0.94" fill="#0404c4"/>
<circle cx="55.6" cy="422.7" r="0.78" fill="#000098"/>
<circle cx="55.7" cy="408.6" r="0.65" fill="#000098"/>
<circle cx="62.3" cy="418.2" r="0.80" fill="#000098"/>
<circle cx="44.0" cy="425.0" r="0.73" fill="#000098"/>
<circle cx="75.9" cy="451.9" r="1.00" fill="#0404c4"/>
<circle cx="69.7" cy="413.1" r="0.99" fill="#000098"/>
<circle cx="23.7" cy="407.9" r="0.89" fill="#1414e8"/>
<circle cx="40.5" cy="455.2" r="0.89" fill="#000098"/>
<circle cx="45.4" cy="444.0" r="0.52" fill="#000098"/>
<circle cx="65.1" cy="420.3" r="0.95" fill="#0404c4"/>
<circle cx="55.5" cy="437.0" r="0.77" fill="#0404c4"/>
<circle cx="40.6" cy="413.4" r="0.81" fill="#0404c4"/>
<circle cx="55.2" cy="426.5" r="0.84" fill="#00006c"/>
<circle cx="24.6" cy="439.7" r="0.76" fill="#000098"/>
<circle cx="79.8" cy="405.7" r="0.71" fill="#1414e8"/>
<circle cx="92.7" cy="444.6" r="0.64" fill="#000098"/>
<circle cx="66.1" cy="408.4" r="0.61" fill="#0404c4"/>
<circle cx="83.6" cy="440.1" r="0.68" fill="#0404c4"/>
<circle cx="89.0" cy="400.8" r="0.46" fill="#0404c4"/>
<circle cx="77.4" cy="428.1" r="0.82" fill="#0404c4"/>
<circle cx="30.4" cy="422.9" r="0.72" fill="#0404c4"/>
<circle cx="27.6" cy="419.4" r="0.69" fill="#00006c"/>
<circle cx="95.5" cy="429.9" r="0.91" fill="#000098"/>
<circle cx="45.0" cy="437.4" r="0.49" fill="#000098"/>
<circle cx="87.8" cy="450.2" r="0.55" fill="#000098"/>
<circle cx="54.6" cy="444.4" r="0.98" fill="#000098"/>
<circle cx="27.1" cy="401.8" r="0.53" fill="#0404c4"/>
<circle cx="30.1" cy="405.8" r="1.47" fill="#1414e8"/>
<circle cx="57.6" cy="429.0" r="1.01" fill="#1414e8"/>
<circle cx="62.4" cy="410.1" r="1.32" fill="#1414e8"/>
<circle cx="68.1" cy="415.8" r="1.48" fill="#1414e8"/>
<circle cx="38.3" cy="436.6" r="1.19" fill="#1414e8"/>
<circle cx="47.1" cy="421.1" r="1.33" fill="#1414e8"/>
<circle cx="76.5" cy="427.4" r="1.15" fill="#1414e8"/>
<circle cx="87.0" cy="429.8" r="1.42" fill="#1414e8"/>
<circle cx="93.9" cy="415.1" r="1.24" fill="#1414e8"/>
<circle cx="78.3" cy="430.7" r="1.27" fill="#1414e8"/>
<circle cx="36.1" cy="429.9" r="1.41" fill="#1414e8"/>
<circle cx="29.7" cy="412.6" r="1.47" fill="#1414e8"/>
</g>
<rect x="102.3" y="398.3" width="72.6" height="58" fill="#0c0102"/>
<clipPath id="cl2"><rect x="102.3" y="398.3" width="72.6" height="58"/></clipPath><g clip-path="url(#cl2)">
<g>
<circle cx="156.2" cy="444.8" r="1.09" fill="#a00606"/>
<circle cx="167.1" cy="404.6" r="0.77" fill="#cc0c0c"/>
<circle cx="155.8" cy="429.3" r="0.43" fill="#a00606"/>
<circle cx="114.6" cy="407.6" r="0.72" fill="#f41c1c"/>
<circle cx="142.5" cy="423.9" r="0.55" fill="#cc0c0c"/>
<circle cx="126.4" cy="416.2" r="0.81" fill="#a00606"/>
<circle cx="103.8" cy="441.6" r="1.05" fill="#cc0c0c"/>
<circle cx="127.7" cy="419.2" r="0.84" fill="#6a0000"/>
<circle cx="155.4" cy="416.3" r="0.70" fill="#a00606"/>
<circle cx="127.9" cy="412.3" r="0.82" fill="#a00606"/>
<circle cx="156.7" cy="417.0" r="1.08" fill="#a00606"/>
<circle cx="127.2" cy="398.0" r="0.70" fill="#a00606"/>
<circle cx="125.0" cy="410.4" r="0.74" fill="#cc0c0c"/>
<circle cx="159.1" cy="443.3" r="0.90" fill="#cc0c0c"/>
<circle cx="155.8" cy="404.4" r="0.58" fill="#f41c1c"/>
<circle cx="125.3" cy="433.1" r="0.88" fill="#a00606"/>
<circle cx="153.0" cy="454.6" r="0.95" fill="#cc0c0c"/>
<circle cx="164.6" cy="434.1" r="0.55" fill="#f41c1c"/>
<circle cx="169.7" cy="451.0" r="0.67" fill="#cc0c0c"/>
<circle cx="114.4" cy="449.9" r="0.48" fill="#f41c1c"/>
<circle cx="145.8" cy="412.5" r="1.09" fill="#f41c1c"/>
<circle cx="129.5" cy="400.9" r="0.74" fill="#a00606"/>
<circle cx="132.2" cy="445.3" r="0.81" fill="#a00606"/>
<circle cx="146.2" cy="419.1" r="0.98" fill="#a00606"/>
<circle cx="167.0" cy="420.3" r="0.66" fill="#a00606"/>
<circle cx="121.8" cy="455.0" r="0.84" fill="#a00606"/>
<circle cx="110.6" cy="434.2" r="0.69" fill="#cc0c0c"/>
<circle cx="103.2" cy="405.6" r="0.60" fill="#a00606"/>
<circle cx="161.9" cy="406.4" r="0.45" fill="#6a0000"/>
<circle cx="161.4" cy="433.2" r="0.83" fill="#f41c1c"/>
<circle cx="115.8" cy="415.8" r="0.95" fill="#f41c1c"/>
<circle cx="141.0" cy="423.4" r="0.83" fill="#f41c1c"/>
<circle cx="125.8" cy="423.6" r="0.43" fill="#f41c1c"/>
<circle cx="118.8" cy="424.2" r="0.40" fill="#6a0000"/>
<circle cx="110.6" cy="421.5" r="0.80" fill="#f41c1c"/>
<circle cx="106.0" cy="439.3" r="0.54" fill="#a00606"/>
<circle cx="134.6" cy="421.1" r="0.44" fill="#6a0000"/>
<circle cx="135.3" cy="421.0" r="0.68" fill="#a00606"/>
<circle cx="161.4" cy="423.1" r="0.83" fill="#6a0000"/>
<circle cx="167.8" cy="447.0" r="0.67" fill="#cc0c0c"/>
<circle cx="125.6" cy="425.0" r="0.63" fill="#a00606"/>
<circle cx="110.3" cy="445.2" r="1.01" fill="#a00606"/>
<circle cx="162.3" cy="435.3" r="0.76" fill="#f41c1c"/>
<circle cx="104.6" cy="440.3" r="0.74" fill="#a00606"/>
<circle cx="146.0" cy="426.9" r="0.67" fill="#6a0000"/>
<circle cx="170.6" cy="400.9" r="0.65" fill="#cc0c0c"/>
<circle cx="174.8" cy="433.5" r="0.47" fill="#a00606"/>
<circle cx="159.3" cy="444.9" r="0.75" fill="#f41c1c"/>
<circle cx="162.7" cy="411.0" r="0.49" fill="#a00606"/>
<circle cx="154.8" cy="445.1" r="0.82" fill="#f41c1c"/>
<circle cx="134.3" cy="431.5" r="0.44" fill="#a00606"/>
<circle cx="121.5" cy="445.0" r="0.66" fill="#a00606"/>
<circle cx="154.2" cy="440.9" r="0.51" fill="#cc0c0c"/>
<circle cx="105.9" cy="415.3" r="0.74" fill="#a00606"/>
<circle cx="114.9" cy="444.0" r="0.80" fill="#cc0c0c"/>
<circle cx="109.1" cy="446.0" r="0.62" fill="#f41c1c"/>
<circle cx="130.8" cy="411.1" r="0.66" fill="#a00606"/>
<circle cx="120.2" cy="454.9" r="1.04" fill="#cc0c0c"/>
<circle cx="166.8" cy="419.4" r="0.73" fill="#cc0c0c"/>
<circle cx="152.7" cy="437.4" r="0.76" fill="#a00606"/>
<circle cx="172.7" cy="445.8" r="0.90" fill="#a00606"/>
<circle cx="102.5" cy="421.7" r="0.95" fill="#cc0c0c"/>
<circle cx="168.3" cy="447.9" r="0.58" fill="#a00606"/>
<circle cx="132.6" cy="429.4" r="0.91" fill="#cc0c0c"/>
<circle cx="163.7" cy="450.8" r="0.82" fill="#f41c1c"/>
<circle cx="134.9" cy="417.5" r="0.93" fill="#6a0000"/>
<circle cx="161.7" cy="409.9" r="0.53" fill="#cc0c0c"/>
<circle cx="135.4" cy="398.5" r="0.96" fill="#f41c1c"/>
<circle cx="163.9" cy="449.1" r="0.86" fill="#f41c1c"/>
<circle cx="131.1" cy="440.5" r="0.59" fill="#a00606"/>
<circle cx="175.0" cy="444.4" r="0.74" fill="#6a0000"/>
<circle cx="140.1" cy="442.5" r="0.48" fill="#cc0c0c"/>
<circle cx="166.2" cy="445.8" r="0.92" fill="#a00606"/>
<circle cx="132.5" cy="454.3" r="0.97" fill="#6a0000"/>
<circle cx="110.6" cy="408.0" r="0.62" fill="#f41c1c"/>
<circle cx="159.9" cy="413.0" r="0.43" fill="#cc0c0c"/>
<circle cx="135.8" cy="423.9" r="0.91" fill="#a00606"/>
<circle cx="156.1" cy="421.2" r="0.99" fill="#a00606"/>
<circle cx="165.0" cy="440.1" r="0.65" fill="#f41c1c"/>
<circle cx="160.4" cy="401.9" r="0.75" fill="#cc0c0c"/>
<circle cx="150.0" cy="452.0" r="0.63" fill="#cc0c0c"/>
<circle cx="130.4" cy="451.9" r="0.52" fill="#6a0000"/>
<circle cx="117.9" cy="424.5" r="0.45" fill="#a00606"/>
<circle cx="112.6" cy="405.7" r="0.53" fill="#a00606"/>
<circle cx="165.2" cy="451.7" r="0.95" fill="#6a0000"/>
<circle cx="152.8" cy="433.3" r="0.90" fill="#cc0c0c"/>
<circle cx="144.5" cy="428.9" r="0.71" fill="#cc0c0c"/>
<circle cx="123.7" cy="405.7" r="0.45" fill="#cc0c0c"/>
<circle cx="170.3" cy="439.7" r="0.75" fill="#cc0c0c"/>
<circle cx="175.1" cy="455.9" r="0.71" fill="#cc0c0c"/>
<circle cx="102.5" cy="415.8" r="1.13" fill="#a00606"/>
<circle cx="149.8" cy="422.4" r="0.85" fill="#cc0c0c"/>
<circle cx="171.0" cy="440.0" r="0.92" fill="#f41c1c"/>
<circle cx="109.9" cy="447.9" r="1.08" fill="#6a0000"/>
<circle cx="173.5" cy="455.6" r="0.88" fill="#cc0c0c"/>
<circle cx="110.0" cy="443.1" r="0.48" fill="#6a0000"/>
<circle cx="149.0" cy="408.4" r="0.73" fill="#cc0c0c"/>
<circle cx="123.3" cy="408.2" r="0.71" fill="#f41c1c"/>
<circle cx="119.5" cy="413.2" r="0.72" fill="#f41c1c"/>
<circle cx="124.3" cy="449.2" r="0.88" fill="#a00606"/>
<circle cx="127.9" cy="443.4" r="0.79" fill="#f41c1c"/>
<circle cx="155.2" cy="413.2" r="0.92" fill="#f41c1c"/>
<circle cx="126.1" cy="437.7" r="0.99" fill="#cc0c0c"/>
<circle cx="138.7" cy="426.5" r="0.97" fill="#6a0000"/>
<circle cx="122.0" cy="424.1" r="0.75" fill="#cc0c0c"/>
<circle cx="133.9" cy="438.0" r="0.47" fill="#a00606"/>
<circle cx="110.0" cy="424.3" r="0.77" fill="#cc0c0c"/>
<circle cx="163.1" cy="433.9" r="0.86" fill="#6a0000"/>
<circle cx="116.2" cy="429.2" r="0.89" fill="#f41c1c"/>
<circle cx="130.3" cy="443.0" r="0.50" fill="#cc0c0c"/>
<circle cx="142.8" cy="445.9" r="0.93" fill="#6a0000"/>
<circle cx="118.1" cy="411.6" r="0.75" fill="#6a0000"/>
<circle cx="154.2" cy="453.7" r="0.82" fill="#6a0000"/>
<circle cx="130.5" cy="431.1" r="0.86" fill="#cc0c0c"/>
<circle cx="126.0" cy="448.5" r="1.02" fill="#f41c1c"/>
<circle cx="151.5" cy="403.1" r="0.75" fill="#cc0c0c"/>
<circle cx="146.1" cy="417.1" r="0.79" fill="#a00606"/>
<circle cx="133.0" cy="455.2" r="1.07" fill="#a00606"/>
<circle cx="138.1" cy="398.8" r="0.79" fill="#cc0c0c"/>
<circle cx="164.0" cy="431.8" r="0.61" fill="#6a0000"/>
<circle cx="155.3" cy="446.2" r="0.53" fill="#a00606"/>
<circle cx="123.2" cy="436.4" r="0.54" fill="#cc0c0c"/>
<circle cx="164.1" cy="434.6" r="0.80" fill="#cc0c0c"/>
<circle cx="129.7" cy="444.3" r="0.86" fill="#f41c1c"/>
<circle cx="141.9" cy="418.8" r="0.49" fill="#a00606"/>
<circle cx="146.4" cy="424.6" r="0.65" fill="#cc0c0c"/>
<circle cx="104.4" cy="404.5" r="0.88" fill="#6a0000"/>
<circle cx="144.3" cy="451.5" r="0.54" fill="#a00606"/>
<circle cx="154.8" cy="451.2" r="0.82" fill="#6a0000"/>
<circle cx="111.2" cy="402.4" r="0.62" fill="#6a0000"/>
<circle cx="126.2" cy="421.2" r="0.61" fill="#f41c1c"/>
<circle cx="118.8" cy="427.5" r="0.79" fill="#a00606"/>
<circle cx="112.7" cy="442.6" r="0.54" fill="#cc0c0c"/>
<circle cx="157.5" cy="441.0" r="0.85" fill="#a00606"/>
<circle cx="151.5" cy="426.1" r="0.47" fill="#a00606"/>
<circle cx="161.5" cy="402.8" r="0.78" fill="#6a0000"/>
<circle cx="109.4" cy="406.6" r="0.89" fill="#f41c1c"/>
<circle cx="124.8" cy="418.0" r="0.49" fill="#a00606"/>
<circle cx="161.2" cy="422.1" r="0.58" fill="#a00606"/>
<circle cx="139.8" cy="417.7" r="0.54" fill="#f41c1c"/>
<circle cx="127.2" cy="411.4" r="0.45" fill="#cc0c0c"/>
<circle cx="152.9" cy="415.7" r="0.69" fill="#f41c1c"/>
<circle cx="155.6" cy="409.5" r="0.70" fill="#a00606"/>
<circle cx="142.7" cy="427.6" r="0.59" fill="#f41c1c"/>
<circle cx="165.9" cy="416.6" r="0.85" fill="#cc0c0c"/>
<circle cx="155.3" cy="445.6" r="0.46" fill="#a00606"/>
<circle cx="135.4" cy="435.9" r="0.62" fill="#cc0c0c"/>
<circle cx="105.5" cy="406.6" r="0.90" fill="#6a0000"/>
<circle cx="121.9" cy="427.1" r="0.64" fill="#cc0c0c"/>
<circle cx="108.0" cy="403.2" r="1.02" fill="#cc0c0c"/>
<circle cx="150.3" cy="401.4" r="0.76" fill="#cc0c0c"/>
<circle cx="141.6" cy="424.4" r="0.91" fill="#cc0c0c"/>
<circle cx="154.8" cy="402.6" r="0.65" fill="#a00606"/>
<circle cx="139.9" cy="425.2" r="0.70" fill="#f41c1c"/>
<circle cx="140.0" cy="449.5" r="0.72" fill="#6a0000"/>
<circle cx="125.6" cy="411.5" r="0.47" fill="#6a0000"/>
<circle cx="125.6" cy="403.2" r="0.78" fill="#f41c1c"/>
<circle cx="143.9" cy="428.1" r="0.97" fill="#a00606"/>
<circle cx="120.7" cy="428.7" r="0.82" fill="#a00606"/>
<circle cx="152.9" cy="449.6" r="0.52" fill="#f41c1c"/>
<circle cx="168.0" cy="414.1" r="0.82" fill="#cc0c0c"/>
<circle cx="119.6" cy="443.7" r="0.55" fill="#6a0000"/>
<circle cx="108.9" cy="404.9" r="0.68" fill="#cc0c0c"/>
<circle cx="159.5" cy="435.3" r="0.47" fill="#a00606"/>
<circle cx="112.4" cy="401.5" r="0.65" fill="#6a0000"/>
<circle cx="167.2" cy="414.4" r="0.84" fill="#cc0c0c"/>
<circle cx="103.9" cy="406.2" r="0.79" fill="#a00606"/>
<circle cx="169.6" cy="417.1" r="0.70" fill="#6a0000"/>
<circle cx="134.7" cy="446.4" r="0.76" fill="#f41c1c"/>
<circle cx="131.3" cy="428.3" r="0.61" fill="#cc0c0c"/>
<circle cx="108.1" cy="430.2" r="0.95" fill="#6a0000"/>
<circle cx="143.8" cy="446.4" r="0.50" fill="#a00606"/>
<circle cx="163.9" cy="438.6" r="0.62" fill="#a00606"/>
<circle cx="142.9" cy="436.9" r="0.72" fill="#a00606"/>
<circle cx="146.6" cy="424.2" r="0.48" fill="#a00606"/>
<circle cx="118.9" cy="451.9" r="0.78" fill="#a00606"/>
<circle cx="116.8" cy="436.3" r="1.02" fill="#6a0000"/>
<circle cx="155.7" cy="432.4" r="0.69" fill="#cc0c0c"/>
<circle cx="130.7" cy="442.9" r="0.56" fill="#cc0c0c"/>
<circle cx="171.1" cy="401.4" r="0.43" fill="#a00606"/>
<circle cx="121.3" cy="454.3" r="0.54" fill="#f41c1c"/>
<circle cx="121.0" cy="431.8" r="1.06" fill="#cc0c0c"/>
<circle cx="134.1" cy="434.1" r="0.65" fill="#a00606"/>
<circle cx="130.4" cy="430.8" r="0.63" fill="#cc0c0c"/>
<circle cx="148.2" cy="417.0" r="0.50" fill="#f41c1c"/>
<circle cx="105.8" cy="418.6" r="0.88" fill="#f41c1c"/>
<circle cx="139.8" cy="448.3" r="0.63" fill="#f41c1c"/>
<circle cx="147.8" cy="454.8" r="0.90" fill="#6a0000"/>
<circle cx="136.0" cy="418.0" r="0.57" fill="#cc0c0c"/>
<circle cx="170.5" cy="441.9" r="0.58" fill="#f41c1c"/>
<circle cx="133.1" cy="426.2" r="0.79" fill="#a00606"/>
<circle cx="110.3" cy="453.6" r="0.84" fill="#cc0c0c"/>
<circle cx="147.6" cy="450.2" r="0.60" fill="#a00606"/>
<circle cx="116.8" cy="429.4" r="0.42" fill="#a00606"/>
<circle cx="152.5" cy="413.2" r="0.73" fill="#f41c1c"/>
<circle cx="161.6" cy="416.1" r="0.51" fill="#a00606"/>
<circle cx="149.6" cy="438.0" r="1.06" fill="#f41c1c"/>
<circle cx="146.6" cy="407.4" r="0.61" fill="#cc0c0c"/>
<circle cx="167.7" cy="446.0" r="0.41" fill="#cc0c0c"/>
<circle cx="149.0" cy="405.2" r="0.76" fill="#f41c1c"/>
<circle cx="143.2" cy="447.3" r="0.91" fill="#a00606"/>
<circle cx="174.3" cy="412.7" r="0.57" fill="#cc0c0c"/>
<circle cx="115.2" cy="418.5" r="1.01" fill="#a00606"/>
<circle cx="135.6" cy="434.4" r="0.66" fill="#6a0000"/>
<circle cx="117.0" cy="426.4" r="0.56" fill="#a00606"/>
<circle cx="104.4" cy="408.5" r="0.79" fill="#a00606"/>
<circle cx="158.8" cy="431.2" r="0.85" fill="#a00606"/>
<circle cx="151.8" cy="430.8" r="0.98" fill="#cc0c0c"/>
<circle cx="139.3" cy="409.4" r="0.72" fill="#cc0c0c"/>
<circle cx="171.2" cy="443.0" r="0.72" fill="#a00606"/>
<circle cx="167.9" cy="443.4" r="0.91" fill="#cc0c0c"/>
<circle cx="102.7" cy="416.1" r="0.80" fill="#6a0000"/>
<circle cx="116.5" cy="425.9" r="0.57" fill="#a00606"/>
<circle cx="116.1" cy="435.3" r="0.66" fill="#cc0c0c"/>
<circle cx="159.9" cy="438.2" r="0.79" fill="#a00606"/>
<circle cx="150.5" cy="420.1" r="0.52" fill="#cc0c0c"/>
<circle cx="116.2" cy="406.6" r="0.60" fill="#a00606"/>
<circle cx="128.8" cy="435.5" r="0.92" fill="#f41c1c"/>
<circle cx="159.4" cy="421.6" r="0.90" fill="#a00606"/>
<circle cx="103.0" cy="414.7" r="0.56" fill="#cc0c0c"/>
<circle cx="138.4" cy="418.5" r="0.77" fill="#cc0c0c"/>
<circle cx="113.9" cy="424.9" r="0.86" fill="#cc0c0c"/>
<circle cx="135.0" cy="442.4" r="0.60" fill="#cc0c0c"/>
<circle cx="154.7" cy="421.5" r="0.51" fill="#f41c1c"/>
<circle cx="170.5" cy="433.1" r="0.68" fill="#a00606"/>
<circle cx="163.9" cy="418.1" r="0.59" fill="#a00606"/>
<circle cx="109.5" cy="420.2" r="0.86" fill="#a00606"/>
<circle cx="110.4" cy="451.4" r="0.86" fill="#f41c1c"/>
<circle cx="170.3" cy="408.0" r="0.74" fill="#a00606"/>
<circle cx="174.1" cy="450.6" r="0.86" fill="#6a0000"/>
<circle cx="142.0" cy="432.7" r="0.67" fill="#a00606"/>
<circle cx="124.6" cy="438.1" r="0.86" fill="#cc0c0c"/>
<circle cx="140.3" cy="448.6" r="0.77" fill="#a00606"/>
<circle cx="106.1" cy="408.6" r="0.71" fill="#cc0c0c"/>
<circle cx="165.3" cy="403.0" r="0.66" fill="#f41c1c"/>
<circle cx="149.5" cy="445.2" r="0.65" fill="#a00606"/>
<circle cx="136.6" cy="439.5" r="0.90" fill="#6a0000"/>
<circle cx="160.6" cy="417.5" r="0.55" fill="#cc0c0c"/>
<circle cx="160.6" cy="405.5" r="0.53" fill="#cc0c0c"/>
<circle cx="115.2" cy="404.9" r="0.81" fill="#f41c1c"/>
<circle cx="165.3" cy="446.1" r="0.90" fill="#a00606"/>
<circle cx="120.9" cy="455.6" r="0.57" fill="#a00606"/>
<circle cx="165.6" cy="453.2" r="0.69" fill="#f41c1c"/>
<circle cx="158.4" cy="420.7" r="0.70" fill="#cc0c0c"/>
<circle cx="117.2" cy="399.6" r="0.85" fill="#a00606"/>
<circle cx="159.9" cy="421.3" r="1.06" fill="#a00606"/>
<circle cx="112.3" cy="434.1" r="0.61" fill="#a00606"/>
<circle cx="160.4" cy="446.1" r="0.67" fill="#6a0000"/>
<circle cx="132.6" cy="444.8" r="0.62" fill="#6a0000"/>
<circle cx="129.4" cy="441.8" r="0.94" fill="#f41c1c"/>
<circle cx="110.4" cy="403.2" r="0.71" fill="#cc0c0c"/>
<circle cx="146.6" cy="409.4" r="0.65" fill="#6a0000"/>
<circle cx="175.5" cy="446.2" r="0.91" fill="#cc0c0c"/>
<circle cx="119.7" cy="407.0" r="0.79" fill="#cc0c0c"/>
<circle cx="131.0" cy="431.6" r="0.62" fill="#cc0c0c"/>
<circle cx="173.9" cy="440.3" r="0.72" fill="#6a0000"/>
<circle cx="105.5" cy="444.8" r="1.13" fill="#cc0c0c"/>
<circle cx="135.8" cy="427.9" r="0.41" fill="#a00606"/>
<circle cx="160.9" cy="455.7" r="0.42" fill="#cc0c0c"/>
<circle cx="113.5" cy="427.6" r="0.81" fill="#6a0000"/>
<circle cx="107.2" cy="418.6" r="1.07" fill="#f41c1c"/>
<circle cx="106.7" cy="422.9" r="0.56" fill="#a00606"/>
<circle cx="159.3" cy="400.6" r="0.69" fill="#cc0c0c"/>
<circle cx="173.6" cy="439.2" r="0.61" fill="#a00606"/>
<circle cx="158.1" cy="424.9" r="1.01" fill="#a00606"/>
<circle cx="126.2" cy="413.6" r="0.84" fill="#6a0000"/>
<circle cx="115.0" cy="433.8" r="0.61" fill="#f41c1c"/>
<circle cx="129.1" cy="442.0" r="0.66" fill="#a00606"/>
<circle cx="122.2" cy="401.9" r="0.86" fill="#a00606"/>
<circle cx="112.7" cy="438.5" r="0.65" fill="#a00606"/>
<circle cx="129.6" cy="431.9" r="0.93" fill="#cc0c0c"/>
<circle cx="166.3" cy="418.0" r="0.69" fill="#cc0c0c"/>
<circle cx="124.6" cy="406.3" r="0.53" fill="#cc0c0c"/>
<circle cx="139.9" cy="436.1" r="1.13" fill="#f41c1c"/>
<circle cx="145.0" cy="408.4" r="0.51" fill="#f41c1c"/>
<circle cx="151.4" cy="435.0" r="0.50" fill="#cc0c0c"/>
<circle cx="104.1" cy="439.8" r="0.39" fill="#a00606"/>
<circle cx="133.0" cy="405.2" r="0.85" fill="#f41c1c"/>
<circle cx="135.0" cy="440.2" r="0.91" fill="#cc0c0c"/>
<circle cx="174.8" cy="436.1" r="0.63" fill="#a00606"/>
<circle cx="140.9" cy="453.1" r="0.97" fill="#f41c1c"/>
<circle cx="117.4" cy="402.5" r="0.55" fill="#6a0000"/>
<circle cx="123.4" cy="432.4" r="0.71" fill="#cc0c0c"/>
<circle cx="115.6" cy="398.8" r="0.65" fill="#f41c1c"/>
<circle cx="169.1" cy="433.0" r="0.95" fill="#cc0c0c"/>
<circle cx="141.2" cy="429.3" r="0.77" fill="#f41c1c"/>
<circle cx="146.1" cy="400.0" r="0.45" fill="#cc0c0c"/>
<circle cx="143.9" cy="410.9" r="0.86" fill="#6a0000"/>
<circle cx="102.6" cy="454.3" r="0.88" fill="#a00606"/>
<circle cx="134.5" cy="425.0" r="0.64" fill="#6a0000"/>
<circle cx="149.6" cy="438.2" r="0.43" fill="#a00606"/>
<circle cx="150.8" cy="409.1" r="0.49" fill="#a00606"/>
<circle cx="142.1" cy="411.4" r="0.54" fill="#a00606"/>
<circle cx="142.9" cy="443.8" r="0.57" fill="#6a0000"/>
<circle cx="105.5" cy="431.0" r="0.53" fill="#6a0000"/>
<circle cx="159.3" cy="419.8" r="0.94" fill="#cc0c0c"/>
<circle cx="173.2" cy="438.8" r="0.57" fill="#cc0c0c"/>
<circle cx="129.8" cy="440.2" r="1.02" fill="#6a0000"/>
<circle cx="124.5" cy="420.0" r="0.46" fill="#cc0c0c"/>
<circle cx="111.8" cy="411.2" r="0.74" fill="#cc0c0c"/>
<circle cx="125.6" cy="449.6" r="1.09" fill="#6a0000"/>
<circle cx="164.6" cy="417.8" r="0.75" fill="#6a0000"/>
<circle cx="123.5" cy="409.6" r="0.85" fill="#cc0c0c"/>
<circle cx="111.5" cy="447.5" r="0.82" fill="#a00606"/>
<circle cx="159.5" cy="455.9" r="0.44" fill="#f41c1c"/>
<circle cx="142.9" cy="439.3" r="0.69" fill="#6a0000"/>
<circle cx="160.5" cy="415.7" r="0.92" fill="#a00606"/>
<circle cx="153.3" cy="447.7" r="1.10" fill="#a00606"/>
<circle cx="120.9" cy="425.4" r="0.85" fill="#a00606"/>
<circle cx="120.5" cy="409.8" r="0.45" fill="#a00606"/>
<circle cx="113.9" cy="448.1" r="0.58" fill="#f41c1c"/>
<circle cx="135.6" cy="424.1" r="0.75" fill="#6a0000"/>
<circle cx="172.8" cy="412.9" r="0.87" fill="#f41c1c"/>
<circle cx="172.5" cy="419.2" r="0.90" fill="#a00606"/>
<circle cx="130.1" cy="413.8" r="0.52" fill="#6a0000"/>
<circle cx="125.4" cy="433.4" r="0.45" fill="#f41c1c"/>
<circle cx="117.8" cy="447.0" r="0.52" fill="#cc0c0c"/>
<circle cx="175.4" cy="454.3" r="0.58" fill="#a00606"/>
<circle cx="156.3" cy="437.3" r="0.74" fill="#cc0c0c"/>
<circle cx="169.4" cy="447.6" r="0.97" fill="#cc0c0c"/>
<circle cx="153.2" cy="418.7" r="0.74" fill="#6a0000"/>
<circle cx="157.5" cy="450.3" r="1.01" fill="#6a0000"/>
<circle cx="160.9" cy="425.1" r="0.82" fill="#cc0c0c"/>
<circle cx="134.6" cy="412.7" r="0.74" fill="#6a0000"/>
<circle cx="173.8" cy="429.4" r="0.85" fill="#6a0000"/>
<circle cx="167.7" cy="423.0" r="0.89" fill="#a00606"/>
<circle cx="144.0" cy="429.8" r="1.06" fill="#f41c1c"/>
<circle cx="143.9" cy="414.7" r="0.66" fill="#cc0c0c"/>
<circle cx="109.8" cy="418.8" r="1.08" fill="#f41c1c"/>
<circle cx="151.6" cy="437.2" r="0.42" fill="#a00606"/>
<circle cx="149.3" cy="403.4" r="0.59" fill="#a00606"/>
<circle cx="109.9" cy="442.8" r="0.72" fill="#a00606"/>
<circle cx="167.9" cy="451.7" r="0.87" fill="#cc0c0c"/>
<circle cx="146.5" cy="450.8" r="0.72" fill="#cc0c0c"/>
<circle cx="132.7" cy="441.4" r="0.76" fill="#cc0c0c"/>
<circle cx="144.4" cy="450.5" r="0.59" fill="#cc0c0c"/>
<circle cx="156.3" cy="432.7" r="0.59" fill="#6a0000"/>
<circle cx="157.6" cy="445.3" r="0.50" fill="#f41c1c"/>
<circle cx="130.2" cy="420.4" r="0.65" fill="#f41c1c"/>
<circle cx="166.8" cy="414.4" r="0.88" fill="#a00606"/>
<circle cx="102.5" cy="438.9" r="0.84" fill="#6a0000"/>
<circle cx="158.7" cy="419.2" r="0.52" fill="#cc0c0c"/>
<circle cx="139.8" cy="422.3" r="0.44" fill="#cc0c0c"/>
<circle cx="115.5" cy="407.3" r="0.65" fill="#6a0000"/>
<circle cx="138.8" cy="408.1" r="0.84" fill="#6a0000"/>
<circle cx="110.3" cy="401.2" r="1.18" fill="#cc0c0c"/>
<circle cx="162.4" cy="400.9" r="0.83" fill="#cc0c0c"/>
<circle cx="123.8" cy="442.4" r="0.66" fill="#a00606"/>
<circle cx="104.6" cy="399.9" r="0.67" fill="#cc0c0c"/>
<circle cx="162.2" cy="413.0" r="0.61" fill="#6a0000"/>
<circle cx="172.4" cy="401.8" r="0.79" fill="#a00606"/>
<circle cx="107.4" cy="412.1" r="0.49" fill="#6a0000"/>
<circle cx="112.8" cy="416.5" r="0.74" fill="#a00606"/>
<circle cx="105.4" cy="403.1" r="0.36" fill="#a00606"/>
<circle cx="133.9" cy="422.2" r="0.88" fill="#cc0c0c"/>
<circle cx="148.1" cy="413.6" r="1.01" fill="#a00606"/>
<circle cx="102.5" cy="407.8" r="0.73" fill="#a00606"/>
<circle cx="119.0" cy="455.6" r="1.02" fill="#f41c1c"/>
<circle cx="124.9" cy="444.3" r="0.58" fill="#a00606"/>
<circle cx="143.2" cy="420.6" r="0.78" fill="#f41c1c"/>
<circle cx="134.9" cy="437.5" r="0.75" fill="#f41c1c"/>
<circle cx="118.8" cy="413.2" r="0.72" fill="#a00606"/>
<circle cx="134.7" cy="426.4" r="0.83" fill="#a00606"/>
<circle cx="103.2" cy="439.5" r="0.76" fill="#cc0c0c"/>
<circle cx="159.3" cy="405.4" r="0.77" fill="#a00606"/>
<circle cx="171.0" cy="444.6" r="0.69" fill="#cc0c0c"/>
<circle cx="167.5" cy="400.6" r="0.46" fill="#a00606"/>
<circle cx="108.7" cy="422.6" r="0.73" fill="#cc0c0c"/>
<circle cx="173.9" cy="430.0" r="0.96" fill="#cc0c0c"/>
<circle cx="123.7" cy="437.1" r="0.40" fill="#cc0c0c"/>
<circle cx="166.2" cy="450.6" r="0.57" fill="#f41c1c"/>
<circle cx="133.7" cy="443.9" r="0.83" fill="#f41c1c"/>
<circle cx="105.7" cy="402.3" r="0.55" fill="#cc0c0c"/>
<circle cx="112.9" cy="405.2" r="0.73" fill="#6a0000"/>
<circle cx="153.3" cy="415.4" r="0.52" fill="#6a0000"/>
<circle cx="113.0" cy="436.1" r="0.66" fill="#6a0000"/>
<circle cx="130.6" cy="426.0" r="0.80" fill="#a00606"/>
<circle cx="147.1" cy="426.3" r="0.89" fill="#a00606"/>
<circle cx="163.3" cy="419.0" r="0.72" fill="#6a0000"/>
<circle cx="119.3" cy="427.4" r="0.69" fill="#a00606"/>
<circle cx="115.7" cy="418.1" r="0.60" fill="#a00606"/>
<circle cx="131.3" cy="401.2" r="0.70" fill="#a00606"/>
<circle cx="105.3" cy="405.8" r="0.73" fill="#6a0000"/>
<circle cx="168.9" cy="436.4" r="0.77" fill="#a00606"/>
<circle cx="119.5" cy="453.6" r="0.80" fill="#cc0c0c"/>
<circle cx="155.1" cy="433.6" r="0.52" fill="#cc0c0c"/>
<circle cx="104.1" cy="451.1" r="0.88" fill="#6a0000"/>
<circle cx="117.2" cy="455.7" r="0.68" fill="#cc0c0c"/>
<circle cx="122.4" cy="448.5" r="0.81" fill="#a00606"/>
<circle cx="144.6" cy="403.8" r="0.62" fill="#6a0000"/>
<circle cx="137.9" cy="411.5" r="0.61" fill="#cc0c0c"/>
<circle cx="157.9" cy="416.2" r="0.81" fill="#a00606"/>
<circle cx="132.3" cy="426.4" r="0.90" fill="#6a0000"/>
<circle cx="112.1" cy="432.6" r="0.83" fill="#cc0c0c"/>
<circle cx="151.3" cy="441.3" r="0.84" fill="#a00606"/>
<circle cx="106.1" cy="413.4" r="0.77" fill="#6a0000"/>
<circle cx="137.1" cy="429.7" r="0.88" fill="#a00606"/>
<circle cx="104.8" cy="451.7" r="0.87" fill="#a00606"/>
<circle cx="130.6" cy="424.9" r="0.51" fill="#a00606"/>
<circle cx="124.4" cy="414.9" r="0.60" fill="#6a0000"/>
<circle cx="114.9" cy="446.0" r="0.89" fill="#6a0000"/>
<circle cx="131.7" cy="412.7" r="0.77" fill="#a00606"/>
<circle cx="113.2" cy="456.2" r="0.86" fill="#6a0000"/>
<circle cx="124.9" cy="434.8" r="0.73" fill="#a00606"/>
<circle cx="114.9" cy="419.2" r="0.61" fill="#cc0c0c"/>
<circle cx="155.2" cy="427.1" r="0.61" fill="#a00606"/>
<circle cx="171.8" cy="427.7" r="0.62" fill="#a00606"/>
<circle cx="111.9" cy="434.8" r="0.54" fill="#a00606"/>
<circle cx="142.8" cy="406.0" r="0.64" fill="#6a0000"/>
<circle cx="156.7" cy="423.6" r="0.51" fill="#a00606"/>
<circle cx="159.9" cy="421.6" r="0.70" fill="#a00606"/>
<circle cx="122.6" cy="445.0" r="0.79" fill="#a00606"/>
<circle cx="150.4" cy="427.4" r="0.78" fill="#cc0c0c"/>
<circle cx="112.0" cy="444.4" r="0.57" fill="#a00606"/>
<circle cx="127.8" cy="436.4" r="0.87" fill="#6a0000"/>
<circle cx="163.9" cy="445.7" r="0.76" fill="#a00606"/>
<circle cx="120.6" cy="405.3" r="0.81" fill="#6a0000"/>
<circle cx="119.0" cy="417.8" r="0.89" fill="#a00606"/>
<circle cx="149.5" cy="423.6" r="0.64" fill="#cc0c0c"/>
<circle cx="168.2" cy="442.4" r="0.54" fill="#6a0000"/>
<circle cx="111.5" cy="406.3" r="0.74" fill="#a00606"/>
<circle cx="125.8" cy="415.3" r="0.88" fill="#a00606"/>
<circle cx="105.1" cy="411.0" r="0.57" fill="#6a0000"/>
<circle cx="107.3" cy="416.2" r="0.83" fill="#6a0000"/>
<circle cx="129.6" cy="407.3" r="0.57" fill="#a00606"/>
<circle cx="117.3" cy="446.9" r="0.59" fill="#6a0000"/>
<circle cx="130.3" cy="427.1" r="0.76" fill="#a00606"/>
<circle cx="107.6" cy="445.0" r="0.53" fill="#6a0000"/>
<circle cx="102.3" cy="437.9" r="0.55" fill="#a00606"/>
<circle cx="172.2" cy="445.0" r="0.80" fill="#cc0c0c"/>
<circle cx="160.8" cy="444.7" r="0.68" fill="#6a0000"/>
<circle cx="152.7" cy="419.8" r="0.53" fill="#6a0000"/>
<circle cx="113.3" cy="427.7" r="0.60" fill="#a00606"/>
<circle cx="111.5" cy="414.4" r="0.59" fill="#a00606"/>
<circle cx="134.3" cy="433.7" r="0.55" fill="#a00606"/>
<circle cx="125.3" cy="447.9" r="0.82" fill="#cc0c0c"/>
<circle cx="134.7" cy="447.0" r="0.77" fill="#cc0c0c"/>
<circle cx="148.5" cy="403.8" r="0.71" fill="#6a0000"/>
<circle cx="112.2" cy="399.3" r="0.53" fill="#a00606"/>
<circle cx="120.3" cy="401.3" r="0.85" fill="#a00606"/>
<circle cx="136.0" cy="416.9" r="0.70" fill="#6a0000"/>
<circle cx="169.0" cy="451.9" r="0.54" fill="#a00606"/>
<circle cx="116.4" cy="451.7" r="0.54" fill="#6a0000"/>
<circle cx="173.9" cy="412.6" r="0.79" fill="#a00606"/>
<circle cx="110.7" cy="421.7" r="0.79" fill="#a00606"/>
<circle cx="106.2" cy="433.7" r="0.84" fill="#a00606"/>
<circle cx="125.3" cy="432.5" r="0.70" fill="#a00606"/>
<circle cx="136.2" cy="437.7" r="0.60" fill="#cc0c0c"/>
<circle cx="102.3" cy="428.9" r="0.73" fill="#a00606"/>
<circle cx="172.9" cy="444.1" r="0.75" fill="#a00606"/>
<circle cx="162.4" cy="444.0" r="0.59" fill="#a00606"/>
<circle cx="127.9" cy="439.2" r="0.63" fill="#6a0000"/>
<circle cx="114.1" cy="433.2" r="0.83" fill="#a00606"/>
<circle cx="107.1" cy="407.0" r="0.72" fill="#6a0000"/>
<circle cx="117.6" cy="409.5" r="0.84" fill="#a00606"/>
<circle cx="158.1" cy="434.1" r="0.66" fill="#6a0000"/>
<circle cx="131.8" cy="401.1" r="0.80" fill="#cc0c0c"/>
<circle cx="165.0" cy="414.3" r="0.83" fill="#6a0000"/>
<circle cx="130.1" cy="451.6" r="0.54" fill="#6a0000"/>
<circle cx="146.5" cy="398.9" r="0.73" fill="#6a0000"/>
<circle cx="167.7" cy="447.3" r="0.51" fill="#a00606"/>
<circle cx="111.6" cy="426.0" r="0.67" fill="#a00606"/>
<circle cx="128.2" cy="443.0" r="0.69" fill="#a00606"/>
<circle cx="134.7" cy="432.3" r="0.79" fill="#a00606"/>
<circle cx="136.6" cy="448.3" r="0.66" fill="#cc0c0c"/>
<circle cx="171.7" cy="437.9" r="0.61" fill="#a00606"/>
<circle cx="121.8" cy="402.8" r="0.50" fill="#6a0000"/>
<circle cx="159.5" cy="419.4" r="0.80" fill="#6a0000"/>
<circle cx="167.6" cy="429.1" r="0.88" fill="#6a0000"/>
<circle cx="162.8" cy="423.5" r="0.51" fill="#6a0000"/>
<circle cx="164.1" cy="445.4" r="0.84" fill="#cc0c0c"/>
<circle cx="139.3" cy="425.8" r="0.74" fill="#6a0000"/>
<circle cx="110.5" cy="399.2" r="0.57" fill="#6a0000"/>
<circle cx="173.4" cy="405.8" r="0.52" fill="#cc0c0c"/>
<circle cx="112.6" cy="402.5" r="0.73" fill="#6a0000"/>
<circle cx="144.9" cy="446.3" r="0.70" fill="#6a0000"/>
<circle cx="147.3" cy="437.3" r="0.54" fill="#6a0000"/>
<circle cx="113.8" cy="444.3" r="0.86" fill="#6a0000"/>
<circle cx="134.8" cy="427.7" r="0.52" fill="#a00606"/>
<circle cx="156.5" cy="443.5" r="0.80" fill="#a00606"/>
<circle cx="152.8" cy="410.5" r="0.75" fill="#6a0000"/>
<circle cx="118.4" cy="407.6" r="0.53" fill="#a00606"/>
<circle cx="142.4" cy="412.4" r="0.89" fill="#6a0000"/>
<circle cx="145.8" cy="447.8" r="0.64" fill="#a00606"/>
<circle cx="126.2" cy="402.9" r="0.62" fill="#6a0000"/>
<circle cx="154.9" cy="455.9" r="0.84" fill="#cc0c0c"/>
<circle cx="162.4" cy="449.3" r="0.87" fill="#cc0c0c"/>
<circle cx="109.9" cy="433.2" r="0.75" fill="#a00606"/>
<circle cx="111.6" cy="409.8" r="0.50" fill="#cc0c0c"/>
<circle cx="119.3" cy="409.9" r="0.72" fill="#6a0000"/>
<circle cx="147.0" cy="423.1" r="0.85" fill="#6a0000"/>
<circle cx="116.4" cy="407.7" r="0.72" fill="#cc0c0c"/>
<circle cx="115.7" cy="431.9" r="0.83" fill="#cc0c0c"/>
<circle cx="118.1" cy="442.3" r="0.63" fill="#a00606"/>
<circle cx="108.4" cy="449.8" r="0.85" fill="#6a0000"/>
<circle cx="102.3" cy="443.8" r="0.88" fill="#cc0c0c"/>
<circle cx="172.8" cy="419.9" r="0.79" fill="#6a0000"/>
<circle cx="113.3" cy="442.7" r="0.75" fill="#a00606"/>
<circle cx="145.4" cy="444.6" r="0.72" fill="#a00606"/>
<circle cx="102.3" cy="409.2" r="0.85" fill="#6a0000"/>
<circle cx="152.1" cy="441.3" r="0.62" fill="#a00606"/>
<circle cx="143.1" cy="443.4" r="0.64" fill="#a00606"/>
<circle cx="132.4" cy="442.8" r="0.79" fill="#a00606"/>
<circle cx="118.6" cy="404.5" r="0.61" fill="#a00606"/>
<circle cx="142.2" cy="430.3" r="0.77" fill="#6a0000"/>
<circle cx="153.0" cy="419.6" r="0.76" fill="#a00606"/>
<circle cx="151.8" cy="398.3" r="0.65" fill="#cc0c0c"/>
<circle cx="120.8" cy="428.3" r="0.67" fill="#6a0000"/>
<circle cx="173.3" cy="445.0" r="0.89" fill="#a00606"/>
<circle cx="164.9" cy="439.7" r="0.89" fill="#a00606"/>
<circle cx="132.1" cy="434.6" r="0.58" fill="#6a0000"/>
<circle cx="116.8" cy="405.4" r="0.67" fill="#cc0c0c"/>
<circle cx="138.9" cy="406.6" r="0.90" fill="#a00606"/>
<circle cx="156.9" cy="441.7" r="0.88" fill="#6a0000"/>
<circle cx="141.7" cy="433.7" r="0.52" fill="#cc0c0c"/>
<circle cx="163.7" cy="403.9" r="0.54" fill="#6a0000"/>
<circle cx="118.7" cy="434.6" r="0.64" fill="#6a0000"/>
<circle cx="166.9" cy="450.5" r="0.68" fill="#6a0000"/>
<circle cx="139.2" cy="423.1" r="0.83" fill="#a00606"/>
<circle cx="157.4" cy="417.3" r="0.51" fill="#a00606"/>
<circle cx="123.2" cy="441.6" r="0.69" fill="#6a0000"/>
<circle cx="156.6" cy="427.5" r="0.80" fill="#cc0c0c"/>
<circle cx="106.1" cy="411.9" r="0.52" fill="#6a0000"/>
<circle cx="129.9" cy="433.4" r="0.57" fill="#6a0000"/>
<circle cx="117.6" cy="417.2" r="0.63" fill="#a00606"/>
<circle cx="132.7" cy="418.3" r="0.61" fill="#a00606"/>
<circle cx="123.5" cy="434.9" r="0.82" fill="#6a0000"/>
<circle cx="102.3" cy="405.2" r="0.80" fill="#6a0000"/>
<circle cx="151.3" cy="439.1" r="0.62" fill="#a00606"/>
<circle cx="162.1" cy="411.6" r="0.89" fill="#6a0000"/>
<circle cx="157.2" cy="421.3" r="0.56" fill="#a00606"/>
<circle cx="135.6" cy="424.7" r="0.51" fill="#6a0000"/>
<circle cx="152.7" cy="424.2" r="0.53" fill="#6a0000"/>
<circle cx="123.9" cy="456.0" r="1.18" fill="#f41c1c"/>
<circle cx="140.2" cy="420.4" r="0.98" fill="#f41c1c"/>
<circle cx="134.0" cy="452.6" r="1.40" fill="#f41c1c"/>
<circle cx="128.0" cy="413.3" r="0.99" fill="#f41c1c"/>
<circle cx="115.5" cy="429.5" r="1.29" fill="#f41c1c"/>
<circle cx="125.7" cy="445.1" r="1.25" fill="#f41c1c"/>
<circle cx="128.4" cy="417.1" r="1.21" fill="#f41c1c"/>
<circle cx="116.2" cy="447.2" r="1.32" fill="#f41c1c"/>
<circle cx="172.9" cy="427.5" r="1.17" fill="#f41c1c"/>
<circle cx="147.5" cy="449.9" r="1.35" fill="#f41c1c"/>
<circle cx="155.7" cy="434.5" r="1.16" fill="#f41c1c"/>
<circle cx="165.7" cy="402.9" r="1.29" fill="#f41c1c"/>
<circle cx="143.5" cy="426.0" r="1.37" fill="#f41c1c"/>
<circle cx="131.1" cy="403.1" r="1.38" fill="#f41c1c"/>
<circle cx="110.7" cy="431.4" r="1.18" fill="#f41c1c"/>
<circle cx="125.9" cy="422.8" r="1.12" fill="#f41c1c"/>
<circle cx="119.7" cy="406.3" r="1.16" fill="#f41c1c"/>
<circle cx="119.7" cy="453.5" r="1.33" fill="#f41c1c"/>
</g>
</g>
<rect x="180.8" y="398.3" width="73.3" height="58" fill="#07010b"/>
<clipPath id="cl3"><rect x="180.8" y="398.3" width="73.3" height="58"/></clipPath><g clip-path="url(#cl3)">
<circle cx="235.2" cy="444.4" r="1.02" fill="#1414e8"/>
<circle cx="246.8" cy="404.9" r="0.73" fill="#000098"/>
<circle cx="235.3" cy="428.8" r="0.53" fill="#0404c4"/>
<circle cx="193.0" cy="408.0" r="0.64" fill="#000098"/>
<circle cx="221.6" cy="423.6" r="0.55" fill="#000098"/>
<circle cx="205.6" cy="416.3" r="0.94" fill="#0404c4"/>
<circle cx="182.5" cy="441.8" r="0.96" fill="#00006c"/>
<circle cx="198.2" cy="418.1" r="0.52" fill="#000098"/>
<circle cx="206.0" cy="418.9" r="0.76" fill="#0404c4"/>
<circle cx="252.5" cy="410.4" r="0.76" fill="#000098"/>
<circle cx="233.3" cy="417.2" r="0.64" fill="#000098"/>
<circle cx="233.7" cy="416.2" r="0.74" fill="#1414e8"/>
<circle cx="206.0" cy="412.8" r="0.84" fill="#000098"/>
<circle cx="235.8" cy="417.4" r="0.99" fill="#0404c4"/>
<circle cx="206.2" cy="398.3" r="0.72" fill="#0404c4"/>
<circle cx="203.8" cy="410.4" r="0.75" fill="#000098"/>
<circle cx="238.4" cy="443.2" r="0.87" fill="#1414e8"/>
<circle cx="235.5" cy="404.4" r="0.65" fill="#000098"/>
<circle cx="204.3" cy="432.6" r="0.93" fill="#000098"/>
<circle cx="231.3" cy="454.9" r="1.02" fill="#0404c4"/>
<circle cx="243.1" cy="434.3" r="0.55" fill="#0404c4"/>
<circle cx="248.6" cy="450.8" r="0.82" fill="#000098"/>
<circle cx="192.9" cy="450.0" r="0.52" fill="#000098"/>
<circle cx="224.1" cy="412.1" r="0.99" fill="#00006c"/>
<circle cx="208.2" cy="400.4" r="0.82" fill="#00006c"/>
<circle cx="211.5" cy="445.5" r="0.84" fill="#000098"/>
<circle cx="225.4" cy="418.7" r="0.99" fill="#00006c"/>
<circle cx="246.1" cy="420.1" r="0.71" fill="#000098"/>
<circle cx="199.8" cy="455.2" r="0.75" fill="#0404c4"/>
<circle cx="189.7" cy="434.4" r="0.72" fill="#000098"/>
<circle cx="226.4" cy="409.3" r="0.61" fill="#000098"/>
<circle cx="215.1" cy="409.5" r="0.84" fill="#0404c4"/>
<circle cx="182.0" cy="405.6" r="0.62" fill="#1414e8"/>
<circle cx="240.4" cy="406.0" r="0.45" fill="#0404c4"/>
<circle cx="240.0" cy="432.8" r="0.86" fill="#1414e8"/>
<circle cx="195.2" cy="415.5" r="0.95" fill="#00006c"/>
<circle cx="247.6" cy="406.6" r="0.74" fill="#0404c4"/>
<circle cx="220.2" cy="423.0" r="0.77" fill="#00006c"/>
<circle cx="205.2" cy="423.2" r="0.49" fill="#0404c4"/>
<circle cx="188.9" cy="450.2" r="1.05" fill="#1414e8"/>
<circle cx="198.1" cy="424.3" r="0.49" fill="#000098"/>
<circle cx="189.5" cy="421.4" r="0.82" fill="#00006c"/>
<circle cx="184.9" cy="438.7" r="0.54" fill="#1414e8"/>
<circle cx="193.3" cy="425.9" r="0.62" fill="#000098"/>
<circle cx="214.0" cy="420.9" r="0.53" fill="#00006c"/>
<circle cx="214.0" cy="420.9" r="0.73" fill="#000098"/>
<circle cx="212.3" cy="444.4" r="0.90" fill="#00006c"/>
<circle cx="240.9" cy="406.4" r="0.82" fill="#000098"/>
<circle cx="187.4" cy="400.9" r="0.68" fill="#1414e8"/>
<circle cx="239.8" cy="423.4" r="0.96" fill="#0404c4"/>
<circle cx="247.2" cy="447.1" r="0.74" fill="#0404c4"/>
<circle cx="204.5" cy="425.1" r="0.56" fill="#1414e8"/>
<circle cx="188.9" cy="445.8" r="0.90" fill="#1414e8"/>
<circle cx="241.1" cy="435.5" r="0.73" fill="#000098"/>
<circle cx="183.3" cy="439.8" r="0.79" fill="#1414e8"/>
<circle cx="196.2" cy="452.9" r="0.88" fill="#000098"/>
<circle cx="225.6" cy="426.5" r="0.71" fill="#000098"/>
<circle cx="180.8" cy="406.2" r="0.88" fill="#000098"/>
<circle cx="249.4" cy="401.4" r="0.60" fill="#00006c"/>
<circle cx="254.1" cy="433.5" r="0.57" fill="#1414e8"/>
<circle cx="187.2" cy="455.4" r="0.55" fill="#00006c"/>
<circle cx="238.9" cy="445.5" r="0.70" fill="#0404c4"/>
<circle cx="241.4" cy="411.3" r="0.52" fill="#000098"/>
<circle cx="234.2" cy="445.1" r="0.93" fill="#0404c4"/>
<circle cx="212.7" cy="432.1" r="0.49" fill="#000098"/>
<circle cx="213.2" cy="445.7" r="0.84" fill="#00006c"/>
<circle cx="200.4" cy="445.4" r="0.68" fill="#000098"/>
<circle cx="233.7" cy="441.0" r="0.47" fill="#00006c"/>
<circle cx="184.3" cy="415.7" r="0.65" fill="#00006c"/>
<circle cx="193.3" cy="439.4" r="0.72" fill="#0404c4"/>
<circle cx="193.2" cy="443.5" r="0.81" fill="#000098"/>
<circle cx="188.4" cy="445.5" r="0.70" fill="#00006c"/>
<circle cx="209.6" cy="410.8" r="0.62" fill="#000098"/>
<circle cx="199.0" cy="455.3" r="0.95" fill="#00006c"/>
<circle cx="187.7" cy="421.3" r="0.90" fill="#000098"/>
<circle cx="189.3" cy="442.9" r="0.77" fill="#00006c"/>
<circle cx="181.5" cy="428.0" r="0.80" fill="#000098"/>
<circle cx="245.7" cy="419.4" r="0.68" fill="#0404c4"/>
<circle cx="231.6" cy="437.2" r="0.77" fill="#0404c4"/>
<circle cx="251.2" cy="446.4" r="0.80" fill="#1414e8"/>
<circle cx="236.4" cy="430.8" r="0.99" fill="#1414e8"/>
<circle cx="225.2" cy="430.9" r="0.74" fill="#00006c"/>
<circle cx="180.8" cy="421.3" r="0.85" fill="#0404c4"/>
<circle cx="209.5" cy="448.5" r="0.78" fill="#1414e8"/>
<circle cx="246.8" cy="448.4" r="0.61" fill="#0404c4"/>
<circle cx="236.0" cy="440.1" r="0.83" fill="#0404c4"/>
<circle cx="212.0" cy="429.0" r="0.99" fill="#000098"/>
<circle cx="242.7" cy="450.6" r="0.79" fill="#0404c4"/>
<circle cx="233.4" cy="423.7" r="0.49" fill="#000098"/>
<circle cx="248.7" cy="411.6" r="0.87" fill="#0404c4"/>
<circle cx="241.2" cy="420.7" r="0.54" fill="#0404c4"/>
<circle cx="213.1" cy="417.0" r="0.91" fill="#000098"/>
<circle cx="240.5" cy="409.6" r="0.64" fill="#000098"/>
<circle cx="215.0" cy="398.6" r="1.04" fill="#000098"/>
<circle cx="239.1" cy="417.6" r="0.94" fill="#000098"/>
<circle cx="193.7" cy="445.7" r="0.75" fill="#1414e8"/>
<circle cx="243.4" cy="448.6" r="0.96" fill="#0404c4"/>
<circle cx="210.1" cy="440.0" r="0.71" fill="#000098"/>
<circle cx="254.1" cy="443.9" r="0.67" fill="#00006c"/>
<circle cx="219.3" cy="442.0" r="0.46" fill="#0404c4"/>
<circle cx="201.9" cy="437.7" r="0.71" fill="#0404c4"/>
<circle cx="226.1" cy="432.4" r="0.58" fill="#0404c4"/>
<circle cx="244.9" cy="446.2" r="1.00" fill="#0404c4"/>
<circle cx="211.7" cy="454.7" r="1.05" fill="#000098"/>
<circle cx="189.8" cy="408.1" r="0.72" fill="#00006c"/>
<circle cx="239.2" cy="412.8" r="0.53" fill="#000098"/>
<circle cx="214.0" cy="423.5" r="0.92" fill="#000098"/>
<circle cx="234.4" cy="421.5" r="0.99" fill="#0404c4"/>
<circle cx="244.8" cy="440.5" r="0.74" fill="#1414e8"/>
<circle cx="238.9" cy="401.6" r="0.75" fill="#00006c"/>
<circle cx="228.8" cy="451.9" r="0.67" fill="#0404c4"/>
<circle cx="202.6" cy="424.5" r="0.84" fill="#00006c"/>
<circle cx="209.3" cy="451.9" r="0.63" fill="#0404c4"/>
<circle cx="196.0" cy="424.6" r="0.49" fill="#00006c"/>
<circle cx="191.3" cy="405.5" r="0.60" fill="#00006c"/>
<circle cx="245.0" cy="451.4" r="0.95" fill="#0404c4"/>
<circle cx="231.7" cy="433.7" r="0.85" fill="#1414e8"/>
<circle cx="223.1" cy="429.4" r="0.87" fill="#1414e8"/>
<circle cx="202.7" cy="405.8" r="0.49" fill="#1414e8"/>
<circle cx="250.0" cy="440.0" r="0.84" fill="#0404c4"/>
<circle cx="254.1" cy="456.3" r="0.83" fill="#0404c4"/>
<circle cx="180.9" cy="415.8" r="1.00" fill="#000098"/>
<circle cx="229.4" cy="422.6" r="0.92" fill="#000098"/>
<circle cx="238.7" cy="416.2" r="0.94" fill="#1414e8"/>
<circle cx="249.4" cy="440.1" r="0.90" fill="#000098"/>
<circle cx="188.1" cy="448.1" r="0.98" fill="#000098"/>
<circle cx="252.8" cy="456.1" r="0.92" fill="#0404c4"/>
<circle cx="228.6" cy="437.8" r="0.64" fill="#000098"/>
<circle cx="188.3" cy="442.9" r="0.52" fill="#0404c4"/>
<circle cx="180.8" cy="416.5" r="0.47" fill="#0404c4"/>
<circle cx="228.5" cy="408.9" r="0.65" fill="#1414e8"/>
<circle cx="201.8" cy="408.3" r="0.75" fill="#000098"/>
<circle cx="190.6" cy="410.1" r="0.87" fill="#1414e8"/>
<circle cx="198.0" cy="412.8" r="0.84" fill="#1414e8"/>
<circle cx="202.6" cy="449.6" r="0.83" fill="#1414e8"/>
<circle cx="216.1" cy="447.2" r="0.97" fill="#0404c4"/>
<circle cx="205.9" cy="443.8" r="0.76" fill="#000098"/>
<circle cx="233.7" cy="413.1" r="0.96" fill="#1414e8"/>
<circle cx="204.8" cy="438.3" r="0.92" fill="#00006c"/>
<circle cx="184.0" cy="429.3" r="0.74" fill="#00006c"/>
<circle cx="217.7" cy="426.1" r="0.95" fill="#1414e8"/>
<circle cx="201.1" cy="424.6" r="0.75" fill="#0404c4"/>
<circle cx="213.4" cy="438.1" r="0.49" fill="#000098"/>
<circle cx="188.6" cy="424.9" r="0.71" fill="#0404c4"/>
<circle cx="242.0" cy="433.9" r="0.88" fill="#0404c4"/>
<circle cx="195.5" cy="429.3" r="0.98" fill="#000098"/>
<circle cx="209.5" cy="443.1" r="0.52" fill="#0404c4"/>
<circle cx="200.9" cy="428.7" r="0.57" fill="#1414e8"/>
<circle cx="236.7" cy="448.8" r="1.00" fill="#0404c4"/>
<circle cx="221.9" cy="446.2" r="0.89" fill="#1414e8"/>
<circle cx="196.9" cy="412.0" r="0.83" fill="#1414e8"/>
<circle cx="232.5" cy="453.3" r="0.90" fill="#1414e8"/>
<circle cx="207.7" cy="455.6" r="0.88" fill="#000098"/>
<circle cx="239.7" cy="424.5" r="1.00" fill="#0404c4"/>
<circle cx="209.6" cy="430.7" r="1.04" fill="#00006c"/>
<circle cx="186.9" cy="436.3" r="0.64" fill="#00006c"/>
<circle cx="204.3" cy="448.0" r="0.92" fill="#000098"/>
<circle cx="230.8" cy="403.2" r="0.74" fill="#0404c4"/>
<circle cx="224.4" cy="417.3" r="0.95" fill="#0404c4"/>
<circle cx="211.9" cy="455.6" r="0.97" fill="#000098"/>
<circle cx="217.0" cy="398.3" r="0.81" fill="#000098"/>
<circle cx="242.8" cy="431.3" r="0.72" fill="#1414e8"/>
<circle cx="245.2" cy="416.0" r="0.67" fill="#0404c4"/>
<circle cx="234.1" cy="446.7" r="0.47" fill="#00006c"/>
<circle cx="201.7" cy="436.4" r="0.47" fill="#0404c4"/>
<circle cx="242.5" cy="434.2" r="0.96" fill="#000098"/>
<circle cx="208.0" cy="443.8" r="1.02" fill="#00006c"/>
<circle cx="220.5" cy="419.0" r="0.56" fill="#0404c4"/>
<circle cx="225.8" cy="424.7" r="0.62" fill="#00006c"/>
<circle cx="182.7" cy="404.9" r="0.78" fill="#00006c"/>
<circle cx="244.0" cy="450.6" r="0.48" fill="#000098"/>
<circle cx="200.9" cy="449.4" r="0.47" fill="#00006c"/>
<circle cx="237.3" cy="422.7" r="0.49" fill="#00006c"/>
<circle cx="223.6" cy="451.8" r="0.66" fill="#000098"/>
<circle cx="234.7" cy="403.1" r="0.73" fill="#000098"/>
<circle cx="234.4" cy="451.2" r="0.78" fill="#0404c4"/>
<circle cx="189.6" cy="403.0" r="0.60" fill="#000098"/>
<circle cx="204.4" cy="421.1" r="0.64" fill="#1414e8"/>
<circle cx="197.9" cy="427.3" r="0.79" fill="#00006c"/>
<circle cx="191.0" cy="442.4" r="0.55" fill="#0404c4"/>
<circle cx="231.4" cy="402.9" r="0.56" fill="#0404c4"/>
<circle cx="230.4" cy="435.4" r="0.79" fill="#0404c4"/>
<circle cx="236.0" cy="440.6" r="0.84" fill="#000098"/>
<circle cx="210.0" cy="412.0" r="0.89" fill="#0404c4"/>
<circle cx="230.6" cy="425.6" r="0.57" fill="#1414e8"/>
<circle cx="244.2" cy="442.7" r="0.59" fill="#000098"/>
<circle cx="240.0" cy="402.2" r="0.69" fill="#000098"/>
<circle cx="250.9" cy="433.8" r="0.48" fill="#0404c4"/>
<circle cx="188.4" cy="406.7" r="0.82" fill="#0404c4"/>
<circle cx="222.3" cy="443.9" r="0.85" fill="#000098"/>
<circle cx="203.5" cy="417.9" r="0.56" fill="#0404c4"/>
<circle cx="240.2" cy="421.8" r="0.52" fill="#0404c4"/>
<circle cx="230.9" cy="412.6" r="1.03" fill="#00006c"/>
<circle cx="218.2" cy="417.7" r="0.52" fill="#00006c"/>
<circle cx="205.7" cy="411.3" r="0.55" fill="#0404c4"/>
<circle cx="232.2" cy="415.3" r="0.78" fill="#000098"/>
<circle cx="234.7" cy="409.7" r="0.65" fill="#000098"/>
<circle cx="221.5" cy="427.9" r="0.60" fill="#000098"/>
<circle cx="205.0" cy="418.1" r="0.51" fill="#000098"/>
<circle cx="244.8" cy="416.7" r="1.02" fill="#00006c"/>
<circle cx="234.8" cy="445.3" r="0.45" fill="#000098"/>
<circle cx="221.4" cy="416.0" r="0.50" fill="#0404c4"/>
<circle cx="214.9" cy="435.3" r="0.74" fill="#000098"/>
<circle cx="184.0" cy="406.9" r="0.85" fill="#1414e8"/>
<circle cx="200.9" cy="427.1" r="0.73" fill="#0404c4"/>
<circle cx="185.8" cy="403.2" r="0.98" fill="#0404c4"/>
<circle cx="229.5" cy="401.2" r="0.71" fill="#0404c4"/>
<circle cx="252.0" cy="408.0" r="0.84" fill="#0404c4"/>
<circle cx="220.5" cy="424.2" r="0.98" fill="#000098"/>
<circle cx="234.1" cy="402.6" r="0.62" fill="#1414e8"/>
<circle cx="218.8" cy="424.7" r="0.70" fill="#0404c4"/>
<circle cx="183.1" cy="449.4" r="0.51" fill="#000098"/>
<circle cx="219.3" cy="449.8" r="0.85" fill="#00006c"/>
<circle cx="203.9" cy="411.5" r="0.54" fill="#000098"/>
<circle cx="204.8" cy="403.4" r="0.75" fill="#000098"/>
<circle cx="222.7" cy="427.7" r="0.93" fill="#1414e8"/>
<circle cx="200.0" cy="429.3" r="0.79" fill="#1414e8"/>
<circle cx="231.2" cy="449.9" r="0.52" fill="#0404c4"/>
<circle cx="247.1" cy="413.5" r="0.88" fill="#000098"/>
<circle cx="198.2" cy="443.5" r="0.62" fill="#0404c4"/>
<circle cx="186.9" cy="404.3" r="0.69" fill="#1414e8"/>
<circle cx="181.5" cy="421.3" r="0.80" fill="#00006c"/>
<circle cx="238.6" cy="434.8" r="0.57" fill="#0404c4"/>
<circle cx="191.6" cy="401.0" r="0.68" fill="#000098"/>
<circle cx="252.5" cy="447.7" r="0.58" fill="#0404c4"/>
<circle cx="246.2" cy="414.3" r="0.75" fill="#00006c"/>
<circle cx="182.1" cy="406.4" r="0.97" fill="#1414e8"/>
<circle cx="224.0" cy="424.9" r="0.74" fill="#0404c4"/>
<circle cx="180.8" cy="444.3" r="1.03" fill="#00006c"/>
<circle cx="190.9" cy="402.2" r="0.46" fill="#1414e8"/>
<circle cx="249.4" cy="417.3" r="0.85" fill="#1414e8"/>
<circle cx="186.0" cy="447.6" r="0.54" fill="#000098"/>
<circle cx="212.8" cy="446.8" r="0.68" fill="#0404c4"/>
<circle cx="243.4" cy="431.0" r="0.81" fill="#000098"/>
<circle cx="209.6" cy="428.1" r="0.57" fill="#1414e8"/>
<circle cx="186.2" cy="430.8" r="0.86" fill="#000098"/>
<circle cx="222.1" cy="446.0" r="0.51" fill="#00006c"/>
<circle cx="243.5" cy="439.0" r="0.68" fill="#00006c"/>
<circle cx="249.4" cy="425.2" r="0.58" fill="#000098"/>
<circle cx="222.1" cy="436.8" r="0.83" fill="#00006c"/>
<circle cx="225.5" cy="424.0" r="0.54" fill="#000098"/>
<circle cx="242.1" cy="454.9" r="0.87" fill="#000098"/>
<circle cx="216.7" cy="445.1" r="0.48" fill="#1414e8"/>
<circle cx="253.8" cy="444.7" r="1.03" fill="#0404c4"/>
<circle cx="213.3" cy="442.2" r="0.61" fill="#0404c4"/>
<circle cx="197.5" cy="452.2" r="0.73" fill="#000098"/>
<circle cx="195.6" cy="436.5" r="1.02" fill="#00006c"/>
<circle cx="234.6" cy="431.8" r="0.64" fill="#0404c4"/>
<circle cx="209.3" cy="442.9" r="0.50" fill="#1414e8"/>
<circle cx="250.5" cy="400.8" r="0.49" fill="#000098"/>
<circle cx="199.8" cy="454.7" r="0.50" fill="#00006c"/>
<circle cx="199.9" cy="431.9" r="0.95" fill="#1414e8"/>
<circle cx="242.8" cy="417.1" r="1.03" fill="#000098"/>
<circle cx="213.3" cy="434.3" r="0.66" fill="#0404c4"/>
<circle cx="240.7" cy="438.2" r="0.83" fill="#0404c4"/>
<circle cx="209.0" cy="430.8" r="0.78" fill="#000098"/>
<circle cx="227.8" cy="417.4" r="0.59" fill="#1414e8"/>
<circle cx="184.2" cy="419.0" r="0.79" fill="#1414e8"/>
<circle cx="199.9" cy="426.8" r="0.72" fill="#000098"/>
<circle cx="219.4" cy="448.5" r="0.55" fill="#000098"/>
<circle cx="226.5" cy="455.0" r="0.82" fill="#1414e8"/>
<circle cx="214.2" cy="417.6" r="0.55" fill="#0404c4"/>
<circle cx="247.2" cy="415.6" r="0.49" fill="#000098"/>
<circle cx="249.1" cy="442.2" r="0.51" fill="#1414e8"/>
<circle cx="212.3" cy="426.8" r="0.69" fill="#0404c4"/>
<circle cx="188.8" cy="453.9" r="1.01" fill="#00006c"/>
<circle cx="227.0" cy="449.8" r="0.60" fill="#0404c4"/>
<circle cx="195.5" cy="429.0" r="0.49" fill="#000098"/>
<circle cx="231.9" cy="413.7" r="0.86" fill="#0404c4"/>
<circle cx="241.2" cy="415.5" r="0.55" fill="#000098"/>
<circle cx="229.7" cy="410.5" r="0.63" fill="#0404c4"/>
<circle cx="228.9" cy="437.5" r="0.94" fill="#1414e8"/>
<circle cx="182.4" cy="424.7" r="0.70" fill="#1414e8"/>
<circle cx="224.9" cy="407.7" r="0.54" fill="#000098"/>
<circle cx="246.9" cy="445.9" r="0.46" fill="#000098"/>
<circle cx="210.7" cy="400.7" r="1.02" fill="#1414e8"/>
<circle cx="227.5" cy="405.6" r="0.90" fill="#000098"/>
<circle cx="221.5" cy="447.7" r="1.01" fill="#000098"/>
<circle cx="253.9" cy="412.5" r="0.57" fill="#0404c4"/>
<circle cx="217.3" cy="453.7" r="0.53" fill="#000098"/>
<circle cx="240.3" cy="406.5" r="0.89" fill="#0404c4"/>
<circle cx="193.3" cy="418.9" r="1.00" fill="#0404c4"/>
<circle cx="214.2" cy="434.9" r="0.82" fill="#0404c4"/>
<circle cx="195.3" cy="426.8" r="0.61" fill="#000098"/>
<circle cx="182.6" cy="408.6" r="0.84" fill="#1414e8"/>
<circle cx="238.2" cy="430.9" r="0.79" fill="#00006c"/>
<circle cx="230.9" cy="430.9" r="0.86" fill="#000098"/>
<circle cx="218.5" cy="409.5" r="0.87" fill="#000098"/>
<circle cx="250.9" cy="442.4" r="0.63" fill="#1414e8"/>
<circle cx="240.3" cy="445.2" r="0.56" fill="#000098"/>
<circle cx="247.7" cy="443.2" r="0.99" fill="#0404c4"/>
<circle cx="181.3" cy="415.6" r="0.88" fill="#1414e8"/>
<circle cx="240.2" cy="448.5" r="0.54" fill="#0404c4"/>
<circle cx="195.3" cy="426.2" r="0.65" fill="#0404c4"/>
<circle cx="218.0" cy="409.5" r="0.85" fill="#000098"/>
<circle cx="194.9" cy="435.4" r="0.63" fill="#0404c4"/>
<circle cx="238.7" cy="438.3" r="0.77" fill="#0404c4"/>
<circle cx="229.1" cy="419.7" r="0.48" fill="#000098"/>
<circle cx="195.1" cy="407.1" r="0.53" fill="#1414e8"/>
<circle cx="207.5" cy="435.4" r="0.94" fill="#0404c4"/>
<circle cx="243.9" cy="417.5" r="0.48" fill="#0404c4"/>
<circle cx="238.7" cy="421.3" r="0.88" fill="#000098"/>
<circle cx="181.1" cy="414.3" r="0.57" fill="#1414e8"/>
<circle cx="217.9" cy="418.6" r="0.93" fill="#00006c"/>
<circle cx="192.7" cy="424.8" r="0.80" fill="#000098"/>
<circle cx="214.4" cy="442.2" r="0.58" fill="#1414e8"/>
<circle cx="233.8" cy="421.5" r="0.56" fill="#1414e8"/>
<circle cx="249.5" cy="432.5" r="0.74" fill="#00006c"/>
<circle cx="226.2" cy="434.4" r="0.50" fill="#00006c"/>
<circle cx="191.6" cy="414.5" r="0.60" fill="#000098"/>
<circle cx="242.9" cy="418.3" r="0.53" fill="#000098"/>
<circle cx="187.7" cy="419.8" r="0.87" fill="#0404c4"/>
<circle cx="215.0" cy="408.0" r="0.88" fill="#0404c4"/>
<circle cx="187.2" cy="417.8" r="0.95" fill="#00006c"/>
<circle cx="189.3" cy="451.2" r="0.77" fill="#00006c"/>
<circle cx="249.7" cy="408.4" r="0.91" fill="#000098"/>
<circle cx="253.8" cy="451.2" r="0.89" fill="#0404c4"/>
<circle cx="221.5" cy="432.5" r="0.81" fill="#00006c"/>
<circle cx="203.4" cy="438.5" r="0.87" fill="#000098"/>
<circle cx="219.5" cy="448.3" r="0.89" fill="#000098"/>
<circle cx="184.0" cy="408.8" r="0.81" fill="#0404c4"/>
<circle cx="245.0" cy="402.4" r="0.70" fill="#000098"/>
<circle cx="228.2" cy="444.9" r="0.62" fill="#0404c4"/>
<circle cx="226.3" cy="410.6" r="0.96" fill="#1414e8"/>
<circle cx="215.2" cy="439.5" r="1.04" fill="#0404c4"/>
<circle cx="239.2" cy="413.5" r="0.48" fill="#00006c"/>
<circle cx="239.5" cy="417.5" r="0.67" fill="#1414e8"/>
<circle cx="239.8" cy="405.0" r="0.55" fill="#00006c"/>
<circle cx="241.3" cy="411.3" r="0.56" fill="#000098"/>
<circle cx="193.4" cy="405.0" r="0.95" fill="#00006c"/>
<circle cx="243.8" cy="446.4" r="0.86" fill="#0404c4"/>
<circle cx="200.0" cy="456.2" r="0.56" fill="#0404c4"/>
<circle cx="245.2" cy="453.1" r="0.85" fill="#00006c"/>
<circle cx="223.0" cy="425.8" r="0.69" fill="#1414e8"/>
<circle cx="237.9" cy="420.8" r="0.65" fill="#000098"/>
<circle cx="231.9" cy="413.6" r="0.47" fill="#1414e8"/>
<circle cx="195.4" cy="399.3" r="1.04" fill="#0404c4"/>
<circle cx="238.7" cy="421.0" r="0.97" fill="#00006c"/>
<circle cx="250.9" cy="413.9" r="0.76" fill="#0404c4"/>
<circle cx="205.5" cy="408.5" r="0.50" fill="#1414e8"/>
<circle cx="190.5" cy="433.8" r="0.53" fill="#000098"/>
<circle cx="223.2" cy="431.1" r="0.65" fill="#000098"/>
<circle cx="239.1" cy="446.2" r="0.64" fill="#0404c4"/>
<circle cx="211.6" cy="444.3" r="0.72" fill="#000098"/>
<circle cx="184.5" cy="430.7" r="0.87" fill="#00006c"/>
<circle cx="208.8" cy="441.6" r="0.85" fill="#0404c4"/>
<circle cx="188.6" cy="403.8" r="0.83" fill="#00006c"/>
<circle cx="226.0" cy="409.7" r="0.78" fill="#000098"/>
<circle cx="254.1" cy="446.2" r="0.80" fill="#000098"/>
<circle cx="198.2" cy="407.0" r="0.83" fill="#000098"/>
<circle cx="210.4" cy="431.6" r="0.65" fill="#1414e8"/>
<circle cx="253.5" cy="440.4" r="0.68" fill="#1414e8"/>
<circle cx="183.7" cy="444.3" r="1.03" fill="#0404c4"/>
<circle cx="214.5" cy="427.8" r="0.47" fill="#000098"/>
<circle cx="234.2" cy="450.6" r="0.75" fill="#1414e8"/>
<circle cx="239.6" cy="456.1" r="0.46" fill="#000098"/>
<circle cx="234.6" cy="411.2" r="0.87" fill="#00006c"/>
<circle cx="192.8" cy="427.4" r="0.71" fill="#000098"/>
<circle cx="185.8" cy="419.0" r="0.96" fill="#000098"/>
<circle cx="240.0" cy="439.6" r="0.67" fill="#000098"/>
<circle cx="184.8" cy="422.7" r="0.54" fill="#000098"/>
<circle cx="234.5" cy="434.7" r="0.78" fill="#0404c4"/>
<circle cx="189.1" cy="403.0" r="0.54" fill="#0404c4"/>
<circle cx="234.2" cy="444.9" r="0.95" fill="#000098"/>
<circle cx="237.9" cy="400.3" r="0.74" fill="#0404c4"/>
<circle cx="239.7" cy="442.5" r="0.66" fill="#0404c4"/>
<circle cx="252.6" cy="438.7" r="0.72" fill="#000098"/>
<circle cx="236.9" cy="425.3" r="0.93" fill="#0404c4"/>
<circle cx="231.8" cy="427.7" r="0.51" fill="#1414e8"/>
<circle cx="205.1" cy="413.2" r="0.82" fill="#000098"/>
<circle cx="193.4" cy="434.3" r="0.63" fill="#00006c"/>
<circle cx="207.2" cy="442.2" r="0.70" fill="#0404c4"/>
<circle cx="244.1" cy="403.9" r="1.04" fill="#1414e8"/>
<circle cx="226.9" cy="444.9" r="0.81" fill="#00006c"/>
<circle cx="201.2" cy="401.7" r="0.78" fill="#00006c"/>
<circle cx="192.0" cy="438.4" r="0.59" fill="#00006c"/>
<circle cx="208.2" cy="431.9" r="0.82" fill="#0404c4"/>
<circle cx="245.0" cy="417.6" r="0.81" fill="#000098"/>
<circle cx="235.7" cy="415.6" r="1.04" fill="#0404c4"/>
<circle cx="202.7" cy="406.2" r="0.51" fill="#0404c4"/>
<circle cx="223.0" cy="427.7" r="0.80" fill="#0404c4"/>
<circle cx="218.5" cy="436.6" r="1.01" fill="#1414e8"/>
<circle cx="224.2" cy="408.0" r="0.46" fill="#00006c"/>
<circle cx="234.8" cy="420.0" r="0.83" fill="#000098"/>
<circle cx="200.0" cy="421.5" r="0.47" fill="#1414e8"/>
<circle cx="251.7" cy="418.8" r="0.52" fill="#000098"/>
<circle cx="230.1" cy="435.6" r="0.54" fill="#0404c4"/>
<circle cx="182.7" cy="439.5" r="0.45" fill="#1414e8"/>
<circle cx="211.3" cy="405.0" r="0.83" fill="#0404c4"/>
<circle cx="213.2" cy="440.1" r="0.94" fill="#000098"/>
<circle cx="253.3" cy="436.5" r="0.71" fill="#00006c"/>
<circle cx="218.8" cy="419.8" r="0.63" fill="#0404c4"/>
<circle cx="220.2" cy="453.5" r="0.87" fill="#000098"/>
<circle cx="196.1" cy="403.0" r="0.65" fill="#0404c4"/>
<circle cx="201.4" cy="432.2" r="0.77" fill="#000098"/>
<circle cx="194.6" cy="398.8" r="0.71" fill="#000098"/>
<circle cx="248.5" cy="433.2" r="0.95" fill="#1414e8"/>
<circle cx="220.6" cy="429.3" r="0.76" fill="#1414e8"/>
<circle cx="225.5" cy="399.8" r="0.54" fill="#0404c4"/>
<circle cx="222.3" cy="410.5" r="0.92" fill="#000098"/>
<circle cx="227.8" cy="422.5" r="1.01" fill="#000098"/>
<circle cx="181.6" cy="454.7" r="0.96" fill="#00006c"/>
<circle cx="220.9" cy="447.6" r="0.74" fill="#00006c"/>
<circle cx="213.0" cy="425.6" r="0.76" fill="#00006c"/>
<circle cx="226.4" cy="438.3" r="0.98" fill="#1414e8"/>
<circle cx="227.9" cy="438.3" r="0.50" fill="#000098"/>
<circle cx="229.2" cy="408.5" r="0.51" fill="#000098"/>
<circle cx="220.6" cy="411.1" r="0.60" fill="#00006c"/>
<circle cx="221.4" cy="443.4" r="0.53" fill="#0404c4"/>
<circle cx="183.5" cy="430.9" r="0.58" fill="#0404c4"/>
<circle cx="238.1" cy="420.3" r="0.89" fill="#1414e8"/>
<circle cx="253.0" cy="438.9" r="0.71" fill="#00006c"/>
<circle cx="208.1" cy="439.8" r="0.99" fill="#00006c"/>
<circle cx="203.5" cy="420.5" r="0.51" fill="#0404c4"/>
<circle cx="190.2" cy="411.7" r="0.71" fill="#1414e8"/>
<circle cx="180.8" cy="413.0" r="0.80" fill="#0404c4"/>
<circle cx="204.0" cy="449.5" r="0.99" fill="#00006c"/>
<circle cx="191.5" cy="423.7" r="0.55" fill="#0404c4"/>
<circle cx="244.4" cy="417.7" r="0.73" fill="#000098"/>
<circle cx="195.8" cy="428.2" r="0.54" fill="#0404c4"/>
<circle cx="201.9" cy="409.7" r="0.78" fill="#0404c4"/>
<circle cx="190.2" cy="448.1" r="0.91" fill="#000098"/>
<circle cx="239.1" cy="455.5" r="0.52" fill="#000098"/>
<circle cx="221.1" cy="439.1" r="0.72" fill="#1414e8"/>
<circle cx="239.6" cy="415.4" r="0.86" fill="#000098"/>
<circle cx="232.9" cy="447.6" r="1.00" fill="#1414e8"/>
<circle cx="200.2" cy="425.2" r="1.02" fill="#0404c4"/>
<circle cx="199.8" cy="409.4" r="0.50" fill="#00006c"/>
<circle cx="191.9" cy="448.1" r="0.73" fill="#0404c4"/>
<circle cx="214.7" cy="424.4" r="0.66" fill="#1414e8"/>
<circle cx="206.8" cy="436.3" r="0.89" fill="#000098"/>
<circle cx="251.8" cy="412.8" r="0.82" fill="#000098"/>
<circle cx="251.5" cy="419.4" r="1.01" fill="#00006c"/>
<circle cx="208.6" cy="414.3" r="0.49" fill="#000098"/>
<circle cx="204.6" cy="433.1" r="0.49" fill="#000098"/>
<circle cx="197.0" cy="446.7" r="0.53" fill="#000098"/>
<circle cx="254.1" cy="453.9" r="0.64" fill="#0404c4"/>
<circle cx="235.9" cy="437.1" r="0.83" fill="#0404c4"/>
<circle cx="248.5" cy="448.0" r="0.88" fill="#1414e8"/>
<circle cx="217.4" cy="417.3" r="0.55" fill="#0404c4"/>
<circle cx="242.6" cy="418.6" r="0.54" fill="#000098"/>
<circle cx="235.5" cy="408.9" r="0.67" fill="#000098"/>
<circle cx="239.3" cy="409.4" r="0.77" fill="#000098"/>
<circle cx="181.3" cy="412.1" r="0.62" fill="#1414e8"/>
<circle cx="231.7" cy="418.7" r="0.87" fill="#000098"/>
<circle cx="237.2" cy="450.7" r="0.91" fill="#00006c"/>
<circle cx="240.3" cy="425.3" r="0.79" fill="#0404c4"/>
<circle cx="187.1" cy="446.5" r="0.59" fill="#000098"/>
<circle cx="212.8" cy="412.5" r="0.75" fill="#0404c4"/>
<circle cx="200.6" cy="449.2" r="0.83" fill="#0404c4"/>
<circle cx="251.0" cy="417.7" r="0.64" fill="#000098"/>
<circle cx="252.3" cy="429.9" r="0.98" fill="#0404c4"/>
<circle cx="217.0" cy="430.1" r="0.70" fill="#0404c4"/>
<circle cx="247.3" cy="422.9" r="0.90" fill="#00006c"/>
<circle cx="223.3" cy="430.0" r="1.05" fill="#0404c4"/>
<circle cx="223.3" cy="414.9" r="0.78" fill="#000098"/>
<circle cx="187.6" cy="418.2" r="1.01" fill="#0404c4"/>
<circle cx="246.3" cy="414.9" r="1.02" fill="#1414e8"/>
<circle cx="230.8" cy="437.7" r="0.52" fill="#1414e8"/>
<circle cx="201.2" cy="433.2" r="0.74" fill="#0404c4"/>
<circle cx="227.6" cy="403.6" r="0.67" fill="#1414e8"/>
<circle cx="189.0" cy="442.6" r="0.80" fill="#000098"/>
<circle cx="246.7" cy="451.5" r="0.82" fill="#0404c4"/>
<circle cx="225.2" cy="450.5" r="0.80" fill="#0404c4"/>
<circle cx="211.6" cy="441.4" r="0.72" fill="#000098"/>
<circle cx="223.3" cy="451.1" r="0.71" fill="#00006c"/>
<circle cx="235.5" cy="433.0" r="0.60" fill="#0404c4"/>
<circle cx="236.2" cy="445.7" r="0.46" fill="#00006c"/>
<circle cx="208.4" cy="420.2" r="0.69" fill="#1414e8"/>
<circle cx="245.4" cy="414.1" r="0.82" fill="#0404c4"/>
<circle cx="181.7" cy="439.3" r="0.77" fill="#000098"/>
<circle cx="237.3" cy="419.5" r="0.64" fill="#000098"/>
<circle cx="218.8" cy="422.1" r="0.48" fill="#000098"/>
<circle cx="193.7" cy="407.7" r="0.78" fill="#00006c"/>
<circle cx="217.9" cy="408.0" r="0.90" fill="#0404c4"/>
<circle cx="189.0" cy="401.8" r="1.04" fill="#000098"/>
<circle cx="228.5" cy="421.1" r="0.71" fill="#000098"/>
<circle cx="213.8" cy="448.9" r="0.58" fill="#000098"/>
<circle cx="215.4" cy="426.2" r="0.79" fill="#00006c"/>
<circle cx="241.7" cy="401.1" r="0.79" fill="#00006c"/>
<circle cx="201.9" cy="442.2" r="0.70" fill="#1414e8"/>
<circle cx="218.6" cy="438.6" r="0.83" fill="#000098"/>
<circle cx="183.3" cy="399.4" r="0.61" fill="#0404c4"/>
<circle cx="240.9" cy="413.5" r="0.62" fill="#000098"/>
<circle cx="252.2" cy="401.3" r="0.78" fill="#1414e8"/>
<circle cx="186.2" cy="412.5" r="0.57" fill="#00006c"/>
<circle cx="230.8" cy="416.3" r="0.84" fill="#000098"/>
<circle cx="191.6" cy="416.3" r="0.84" fill="#0404c4"/>
<circle cx="194.8" cy="413.1" r="0.52" fill="#000098"/>
<circle cx="208.1" cy="400.3" r="0.50" fill="#0404c4"/>
<circle cx="227.1" cy="416.4" r="0.97" fill="#000098"/>
<circle cx="183.8" cy="403.0" r="0.45" fill="#0404c4"/>
<circle cx="204.4" cy="444.8" r="0.94" fill="#0404c4"/>
<circle cx="213.2" cy="422.7" r="0.78" fill="#000098"/>
<circle cx="213.3" cy="408.6" r="0.65" fill="#000098"/>
<circle cx="220.0" cy="418.2" r="0.80" fill="#000098"/>
<circle cx="201.5" cy="425.0" r="0.73" fill="#000098"/>
<circle cx="233.7" cy="451.9" r="1.00" fill="#0404c4"/>
<circle cx="227.4" cy="413.1" r="0.99" fill="#000098"/>
<circle cx="181.0" cy="407.9" r="0.89" fill="#1414e8"/>
<circle cx="198.0" cy="455.2" r="0.89" fill="#000098"/>
<circle cx="203.0" cy="444.0" r="0.52" fill="#000098"/>
<circle cx="222.8" cy="420.3" r="0.95" fill="#0404c4"/>
<circle cx="213.1" cy="437.0" r="0.77" fill="#0404c4"/>
<circle cx="198.0" cy="413.4" r="0.81" fill="#0404c4"/>
<circle cx="212.8" cy="426.5" r="0.84" fill="#00006c"/>
<circle cx="181.9" cy="439.7" r="0.76" fill="#000098"/>
<circle cx="237.7" cy="405.7" r="0.71" fill="#1414e8"/>
<circle cx="250.7" cy="444.6" r="0.64" fill="#000098"/>
<circle cx="223.8" cy="408.4" r="0.61" fill="#0404c4"/>
<circle cx="241.5" cy="440.1" r="0.68" fill="#0404c4"/>
<circle cx="246.9" cy="400.8" r="0.46" fill="#0404c4"/>
<circle cx="235.2" cy="428.1" r="0.82" fill="#0404c4"/>
<circle cx="187.8" cy="422.9" r="0.72" fill="#0404c4"/>
<circle cx="184.9" cy="419.4" r="0.69" fill="#00006c"/>
<circle cx="253.5" cy="429.9" r="0.91" fill="#000098"/>
<circle cx="202.5" cy="437.4" r="0.49" fill="#000098"/>
<circle cx="245.7" cy="450.2" r="0.55" fill="#000098"/>
<circle cx="212.2" cy="444.4" r="0.98" fill="#000098"/>
<circle cx="184.4" cy="401.8" r="0.53" fill="#0404c4"/>
<circle cx="187.5" cy="405.8" r="1.47" fill="#1414e8"/>
<circle cx="215.3" cy="429.0" r="1.01" fill="#1414e8"/>
<circle cx="220.1" cy="410.1" r="1.32" fill="#1414e8"/>
<circle cx="225.8" cy="415.8" r="1.48" fill="#1414e8"/>
<circle cx="195.8" cy="436.6" r="1.19" fill="#1414e8"/>
<circle cx="204.6" cy="421.1" r="1.33" fill="#1414e8"/>
<circle cx="234.3" cy="427.4" r="1.15" fill="#1414e8"/>
<circle cx="244.9" cy="429.8" r="1.42" fill="#1414e8"/>
<circle cx="251.9" cy="415.1" r="1.24" fill="#1414e8"/>
<circle cx="236.1" cy="430.7" r="1.27" fill="#1414e8"/>
<circle cx="193.5" cy="429.9" r="1.41" fill="#1414e8"/>
<circle cx="187.0" cy="412.6" r="1.47" fill="#1414e8"/>
<g style="mix-blend-mode:screen">
<circle cx="235.2" cy="444.8" r="1.09" fill="#a00606"/>
<circle cx="246.3" cy="404.6" r="0.77" fill="#cc0c0c"/>
<circle cx="234.8" cy="429.3" r="0.43" fill="#a00606"/>
<circle cx="193.2" cy="407.6" r="0.72" fill="#f41c1c"/>
<circle cx="221.4" cy="423.9" r="0.55" fill="#cc0c0c"/>
<circle cx="205.1" cy="416.2" r="0.81" fill="#a00606"/>
<circle cx="182.4" cy="441.6" r="1.05" fill="#cc0c0c"/>
<circle cx="206.4" cy="419.2" r="0.84" fill="#6a0000"/>
<circle cx="234.4" cy="416.3" r="0.70" fill="#a00606"/>
<circle cx="206.6" cy="412.3" r="0.82" fill="#a00606"/>
<circle cx="235.7" cy="417.0" r="1.08" fill="#a00606"/>
<circle cx="205.9" cy="398.0" r="0.70" fill="#a00606"/>
<circle cx="203.7" cy="410.4" r="0.74" fill="#cc0c0c"/>
<circle cx="238.1" cy="443.3" r="0.90" fill="#cc0c0c"/>
<circle cx="234.8" cy="404.4" r="0.58" fill="#f41c1c"/>
<circle cx="204.1" cy="433.1" r="0.88" fill="#a00606"/>
<circle cx="232.0" cy="454.6" r="0.95" fill="#cc0c0c"/>
<circle cx="243.7" cy="434.1" r="0.55" fill="#f41c1c"/>
<circle cx="248.8" cy="451.0" r="0.67" fill="#cc0c0c"/>
<circle cx="193.0" cy="449.9" r="0.48" fill="#f41c1c"/>
<circle cx="224.7" cy="412.5" r="1.09" fill="#f41c1c"/>
<circle cx="208.2" cy="400.9" r="0.74" fill="#a00606"/>
<circle cx="211.0" cy="445.3" r="0.81" fill="#a00606"/>
<circle cx="225.2" cy="419.1" r="0.98" fill="#a00606"/>
<circle cx="246.1" cy="420.3" r="0.66" fill="#a00606"/>
<circle cx="200.5" cy="455.0" r="0.84" fill="#a00606"/>
<circle cx="189.2" cy="434.2" r="0.69" fill="#cc0c0c"/>
<circle cx="181.7" cy="405.6" r="0.60" fill="#a00606"/>
<circle cx="241.0" cy="406.4" r="0.45" fill="#6a0000"/>
<circle cx="240.5" cy="433.2" r="0.83" fill="#f41c1c"/>
<circle cx="194.5" cy="415.8" r="0.95" fill="#f41c1c"/>
<circle cx="219.8" cy="423.4" r="0.83" fill="#f41c1c"/>
<circle cx="204.6" cy="423.6" r="0.43" fill="#f41c1c"/>
<circle cx="197.5" cy="424.2" r="0.40" fill="#6a0000"/>
<circle cx="189.2" cy="421.5" r="0.80" fill="#f41c1c"/>
<circle cx="184.6" cy="439.3" r="0.54" fill="#a00606"/>
<circle cx="213.4" cy="421.1" r="0.44" fill="#6a0000"/>
<circle cx="214.1" cy="421.0" r="0.68" fill="#a00606"/>
<circle cx="240.5" cy="423.1" r="0.83" fill="#6a0000"/>
<circle cx="247.0" cy="447.0" r="0.67" fill="#cc0c0c"/>
<circle cx="204.3" cy="425.0" r="0.63" fill="#a00606"/>
<circle cx="188.9" cy="445.2" r="1.01" fill="#a00606"/>
<circle cx="241.4" cy="435.3" r="0.76" fill="#f41c1c"/>
<circle cx="183.1" cy="440.3" r="0.74" fill="#a00606"/>
<circle cx="224.9" cy="426.9" r="0.67" fill="#6a0000"/>
<circle cx="249.8" cy="400.9" r="0.65" fill="#cc0c0c"/>
<circle cx="254.0" cy="433.5" r="0.47" fill="#a00606"/>
<circle cx="238.3" cy="444.9" r="0.75" fill="#f41c1c"/>
<circle cx="241.8" cy="411.0" r="0.49" fill="#a00606"/>
<circle cx="233.8" cy="445.1" r="0.82" fill="#f41c1c"/>
<circle cx="213.1" cy="431.5" r="0.44" fill="#a00606"/>
<circle cx="200.1" cy="445.0" r="0.66" fill="#a00606"/>
<circle cx="233.2" cy="440.9" r="0.51" fill="#cc0c0c"/>
<circle cx="184.4" cy="415.3" r="0.74" fill="#a00606"/>
<circle cx="193.5" cy="444.0" r="0.80" fill="#cc0c0c"/>
<circle cx="187.7" cy="446.0" r="0.62" fill="#f41c1c"/>
<circle cx="209.6" cy="411.1" r="0.66" fill="#a00606"/>
<circle cx="198.9" cy="454.9" r="1.04" fill="#cc0c0c"/>
<circle cx="246.0" cy="419.4" r="0.73" fill="#cc0c0c"/>
<circle cx="231.7" cy="437.4" r="0.76" fill="#a00606"/>
<circle cx="251.9" cy="445.8" r="0.90" fill="#a00606"/>
<circle cx="181.0" cy="421.7" r="0.95" fill="#cc0c0c"/>
<circle cx="247.4" cy="447.9" r="0.58" fill="#a00606"/>
<circle cx="211.4" cy="429.4" r="0.91" fill="#cc0c0c"/>
<circle cx="242.8" cy="450.8" r="0.82" fill="#f41c1c"/>
<circle cx="213.8" cy="417.5" r="0.93" fill="#6a0000"/>
<circle cx="240.7" cy="409.9" r="0.53" fill="#cc0c0c"/>
<circle cx="214.2" cy="398.5" r="0.96" fill="#f41c1c"/>
<circle cx="243.0" cy="449.1" r="0.86" fill="#f41c1c"/>
<circle cx="209.9" cy="440.5" r="0.59" fill="#a00606"/>
<circle cx="254.2" cy="444.4" r="0.74" fill="#6a0000"/>
<circle cx="218.9" cy="442.5" r="0.48" fill="#cc0c0c"/>
<circle cx="245.3" cy="445.8" r="0.92" fill="#a00606"/>
<circle cx="211.3" cy="454.3" r="0.97" fill="#6a0000"/>
<circle cx="189.2" cy="408.0" r="0.62" fill="#f41c1c"/>
<circle cx="239.0" cy="413.0" r="0.43" fill="#cc0c0c"/>
<circle cx="214.6" cy="423.9" r="0.91" fill="#a00606"/>
<circle cx="235.1" cy="421.2" r="0.99" fill="#a00606"/>
<circle cx="244.1" cy="440.1" r="0.65" fill="#f41c1c"/>
<circle cx="239.5" cy="401.9" r="0.75" fill="#cc0c0c"/>
<circle cx="228.9" cy="452.0" r="0.63" fill="#cc0c0c"/>
<circle cx="209.2" cy="451.9" r="0.52" fill="#6a0000"/>
<circle cx="196.6" cy="424.5" r="0.45" fill="#a00606"/>
<circle cx="191.2" cy="405.7" r="0.53" fill="#a00606"/>
<circle cx="244.3" cy="451.7" r="0.95" fill="#6a0000"/>
<circle cx="231.8" cy="433.3" r="0.90" fill="#cc0c0c"/>
<circle cx="223.4" cy="428.9" r="0.71" fill="#cc0c0c"/>
<circle cx="202.4" cy="405.7" r="0.45" fill="#cc0c0c"/>
<circle cx="249.5" cy="439.7" r="0.75" fill="#cc0c0c"/>
<circle cx="254.3" cy="455.9" r="0.71" fill="#cc0c0c"/>
<circle cx="181.0" cy="415.8" r="1.13" fill="#a00606"/>
<circle cx="228.8" cy="422.4" r="0.85" fill="#cc0c0c"/>
<circle cx="250.1" cy="440.0" r="0.92" fill="#f41c1c"/>
<circle cx="188.4" cy="447.9" r="1.08" fill="#6a0000"/>
<circle cx="252.7" cy="455.6" r="0.88" fill="#cc0c0c"/>
<circle cx="188.6" cy="443.1" r="0.48" fill="#6a0000"/>
<circle cx="228.0" cy="408.4" r="0.73" fill="#cc0c0c"/>
<circle cx="202.0" cy="408.2" r="0.71" fill="#f41c1c"/>
<circle cx="198.1" cy="413.2" r="0.72" fill="#f41c1c"/>
<circle cx="203.0" cy="449.2" r="0.88" fill="#a00606"/>
<circle cx="206.6" cy="443.4" r="0.79" fill="#f41c1c"/>
<circle cx="234.2" cy="413.2" r="0.92" fill="#f41c1c"/>
<circle cx="204.8" cy="437.7" r="0.99" fill="#cc0c0c"/>
<circle cx="217.6" cy="426.5" r="0.97" fill="#6a0000"/>
<circle cx="200.7" cy="424.1" r="0.75" fill="#cc0c0c"/>
<circle cx="212.7" cy="438.0" r="0.47" fill="#a00606"/>
<circle cx="188.6" cy="424.3" r="0.77" fill="#cc0c0c"/>
<circle cx="242.2" cy="433.9" r="0.86" fill="#6a0000"/>
<circle cx="194.8" cy="429.2" r="0.89" fill="#f41c1c"/>
<circle cx="209.1" cy="443.0" r="0.50" fill="#cc0c0c"/>
<circle cx="221.6" cy="445.9" r="0.93" fill="#6a0000"/>
<circle cx="196.7" cy="411.6" r="0.75" fill="#6a0000"/>
<circle cx="233.2" cy="453.7" r="0.82" fill="#6a0000"/>
<circle cx="209.3" cy="431.1" r="0.86" fill="#cc0c0c"/>
<circle cx="204.7" cy="448.5" r="1.02" fill="#f41c1c"/>
<circle cx="230.5" cy="403.1" r="0.75" fill="#cc0c0c"/>
<circle cx="225.0" cy="417.1" r="0.79" fill="#a00606"/>
<circle cx="211.8" cy="455.2" r="1.07" fill="#a00606"/>
<circle cx="216.9" cy="398.8" r="0.79" fill="#cc0c0c"/>
<circle cx="243.1" cy="431.8" r="0.61" fill="#6a0000"/>
<circle cx="234.4" cy="446.2" r="0.53" fill="#a00606"/>
<circle cx="201.9" cy="436.4" r="0.54" fill="#cc0c0c"/>
<circle cx="243.2" cy="434.6" r="0.80" fill="#cc0c0c"/>
<circle cx="208.5" cy="444.3" r="0.86" fill="#f41c1c"/>
<circle cx="220.8" cy="418.8" r="0.49" fill="#a00606"/>
<circle cx="225.3" cy="424.6" r="0.65" fill="#cc0c0c"/>
<circle cx="182.9" cy="404.5" r="0.88" fill="#6a0000"/>
<circle cx="223.2" cy="451.5" r="0.54" fill="#a00606"/>
<circle cx="233.8" cy="451.2" r="0.82" fill="#6a0000"/>
<circle cx="189.8" cy="402.4" r="0.62" fill="#6a0000"/>
<circle cx="204.9" cy="421.2" r="0.61" fill="#f41c1c"/>
<circle cx="197.5" cy="427.5" r="0.79" fill="#a00606"/>
<circle cx="191.3" cy="442.6" r="0.54" fill="#cc0c0c"/>
<circle cx="236.5" cy="441.0" r="0.85" fill="#a00606"/>
<circle cx="230.5" cy="426.1" r="0.47" fill="#a00606"/>
<circle cx="240.6" cy="402.8" r="0.78" fill="#6a0000"/>
<circle cx="187.9" cy="406.6" r="0.89" fill="#f41c1c"/>
<circle cx="203.5" cy="418.0" r="0.49" fill="#a00606"/>
<circle cx="240.3" cy="422.1" r="0.58" fill="#a00606"/>
<circle cx="218.6" cy="417.7" r="0.54" fill="#f41c1c"/>
<circle cx="205.9" cy="411.4" r="0.45" fill="#cc0c0c"/>
<circle cx="231.9" cy="415.7" r="0.69" fill="#f41c1c"/>
<circle cx="234.6" cy="409.5" r="0.70" fill="#a00606"/>
<circle cx="221.6" cy="427.6" r="0.59" fill="#f41c1c"/>
<circle cx="245.1" cy="416.6" r="0.85" fill="#cc0c0c"/>
<circle cx="234.3" cy="445.6" r="0.46" fill="#a00606"/>
<circle cx="214.3" cy="435.9" r="0.62" fill="#cc0c0c"/>
<circle cx="184.1" cy="406.6" r="0.90" fill="#6a0000"/>
<circle cx="200.6" cy="427.1" r="0.64" fill="#cc0c0c"/>
<circle cx="186.5" cy="403.2" r="1.02" fill="#cc0c0c"/>
<circle cx="229.3" cy="401.4" r="0.76" fill="#cc0c0c"/>
<circle cx="220.4" cy="424.4" r="0.91" fill="#cc0c0c"/>
<circle cx="233.8" cy="402.6" r="0.65" fill="#a00606"/>
<circle cx="218.7" cy="425.2" r="0.70" fill="#f41c1c"/>
<circle cx="218.9" cy="449.5" r="0.72" fill="#6a0000"/>
<circle cx="204.3" cy="411.5" r="0.47" fill="#6a0000"/>
<circle cx="204.3" cy="403.2" r="0.78" fill="#f41c1c"/>
<circle cx="222.8" cy="428.1" r="0.97" fill="#a00606"/>
<circle cx="199.4" cy="428.7" r="0.82" fill="#a00606"/>
<circle cx="231.9" cy="449.6" r="0.52" fill="#f41c1c"/>
<circle cx="247.1" cy="414.1" r="0.82" fill="#cc0c0c"/>
<circle cx="198.3" cy="443.7" r="0.55" fill="#6a0000"/>
<circle cx="187.4" cy="404.9" r="0.68" fill="#cc0c0c"/>
<circle cx="238.6" cy="435.3" r="0.47" fill="#a00606"/>
<circle cx="191.0" cy="401.5" r="0.65" fill="#6a0000"/>
<circle cx="246.3" cy="414.4" r="0.84" fill="#cc0c0c"/>
<circle cx="182.4" cy="406.2" r="0.79" fill="#a00606"/>
<circle cx="248.7" cy="417.1" r="0.70" fill="#6a0000"/>
<circle cx="213.5" cy="446.4" r="0.76" fill="#f41c1c"/>
<circle cx="210.1" cy="428.3" r="0.61" fill="#cc0c0c"/>
<circle cx="186.6" cy="430.2" r="0.95" fill="#6a0000"/>
<circle cx="222.7" cy="446.4" r="0.50" fill="#a00606"/>
<circle cx="243.0" cy="438.6" r="0.62" fill="#a00606"/>
<circle cx="221.8" cy="436.9" r="0.72" fill="#a00606"/>
<circle cx="225.5" cy="424.2" r="0.48" fill="#a00606"/>
<circle cx="197.5" cy="451.9" r="0.78" fill="#a00606"/>
<circle cx="195.5" cy="436.3" r="1.02" fill="#6a0000"/>
<circle cx="234.7" cy="432.4" r="0.69" fill="#cc0c0c"/>
<circle cx="209.5" cy="442.9" r="0.56" fill="#cc0c0c"/>
<circle cx="250.3" cy="401.4" r="0.43" fill="#a00606"/>
<circle cx="200.0" cy="454.3" r="0.54" fill="#f41c1c"/>
<circle cx="199.7" cy="431.8" r="1.06" fill="#cc0c0c"/>
<circle cx="212.9" cy="434.1" r="0.65" fill="#a00606"/>
<circle cx="209.2" cy="430.8" r="0.63" fill="#cc0c0c"/>
<circle cx="227.1" cy="417.0" r="0.50" fill="#f41c1c"/>
<circle cx="184.4" cy="418.6" r="0.88" fill="#f41c1c"/>
<circle cx="218.7" cy="448.3" r="0.63" fill="#f41c1c"/>
<circle cx="226.7" cy="454.8" r="0.90" fill="#6a0000"/>
<circle cx="214.9" cy="418.0" r="0.57" fill="#cc0c0c"/>
<circle cx="249.6" cy="441.9" r="0.58" fill="#f41c1c"/>
<circle cx="211.9" cy="426.2" r="0.79" fill="#a00606"/>
<circle cx="188.9" cy="453.6" r="0.84" fill="#cc0c0c"/>
<circle cx="226.6" cy="450.2" r="0.60" fill="#a00606"/>
<circle cx="195.4" cy="429.4" r="0.42" fill="#a00606"/>
<circle cx="231.5" cy="413.2" r="0.73" fill="#f41c1c"/>
<circle cx="240.7" cy="416.1" r="0.51" fill="#a00606"/>
<circle cx="228.6" cy="438.0" r="1.06" fill="#f41c1c"/>
<circle cx="225.5" cy="407.4" r="0.61" fill="#cc0c0c"/>
<circle cx="246.8" cy="446.0" r="0.41" fill="#cc0c0c"/>
<circle cx="228.0" cy="405.2" r="0.76" fill="#f41c1c"/>
<circle cx="222.0" cy="447.3" r="0.91" fill="#a00606"/>
<circle cx="253.5" cy="412.7" r="0.57" fill="#cc0c0c"/>
<circle cx="193.9" cy="418.5" r="1.01" fill="#a00606"/>
<circle cx="214.4" cy="434.4" r="0.66" fill="#6a0000"/>
<circle cx="195.6" cy="426.4" r="0.56" fill="#a00606"/>
<circle cx="182.9" cy="408.5" r="0.79" fill="#a00606"/>
<circle cx="237.8" cy="431.2" r="0.85" fill="#a00606"/>
<circle cx="230.8" cy="430.8" r="0.98" fill="#cc0c0c"/>
<circle cx="218.2" cy="409.4" r="0.72" fill="#cc0c0c"/>
<circle cx="250.4" cy="443.0" r="0.72" fill="#a00606"/>
<circle cx="247.0" cy="443.4" r="0.91" fill="#cc0c0c"/>
<circle cx="181.2" cy="416.1" r="0.80" fill="#6a0000"/>
<circle cx="195.1" cy="425.9" r="0.57" fill="#a00606"/>
<circle cx="194.7" cy="435.3" r="0.66" fill="#cc0c0c"/>
<circle cx="239.0" cy="438.2" r="0.79" fill="#a00606"/>
<circle cx="229.5" cy="420.1" r="0.52" fill="#cc0c0c"/>
<circle cx="194.9" cy="406.6" r="0.60" fill="#a00606"/>
<circle cx="207.6" cy="435.5" r="0.92" fill="#f41c1c"/>
<circle cx="238.4" cy="421.6" r="0.90" fill="#a00606"/>
<circle cx="181.5" cy="414.7" r="0.56" fill="#cc0c0c"/>
<circle cx="217.2" cy="418.5" r="0.77" fill="#cc0c0c"/>
<circle cx="192.5" cy="424.9" r="0.86" fill="#cc0c0c"/>
<circle cx="213.8" cy="442.4" r="0.60" fill="#cc0c0c"/>
<circle cx="233.7" cy="421.5" r="0.51" fill="#f41c1c"/>
<circle cx="249.6" cy="433.1" r="0.68" fill="#a00606"/>
<circle cx="243.0" cy="418.1" r="0.59" fill="#a00606"/>
<circle cx="188.1" cy="420.2" r="0.86" fill="#a00606"/>
<circle cx="189.0" cy="451.4" r="0.86" fill="#f41c1c"/>
<circle cx="249.5" cy="408.0" r="0.74" fill="#a00606"/>
<circle cx="253.3" cy="450.6" r="0.86" fill="#6a0000"/>
<circle cx="220.9" cy="432.7" r="0.67" fill="#a00606"/>
<circle cx="203.3" cy="438.1" r="0.86" fill="#cc0c0c"/>
<circle cx="219.2" cy="448.6" r="0.77" fill="#a00606"/>
<circle cx="184.6" cy="408.6" r="0.71" fill="#cc0c0c"/>
<circle cx="244.4" cy="403.0" r="0.66" fill="#f41c1c"/>
<circle cx="228.5" cy="445.2" r="0.65" fill="#a00606"/>
<circle cx="215.5" cy="439.5" r="0.90" fill="#6a0000"/>
<circle cx="239.7" cy="417.5" r="0.55" fill="#cc0c0c"/>
<circle cx="239.6" cy="405.5" r="0.53" fill="#cc0c0c"/>
<circle cx="193.8" cy="404.9" r="0.81" fill="#f41c1c"/>
<circle cx="244.4" cy="446.1" r="0.90" fill="#a00606"/>
<circle cx="199.6" cy="455.6" r="0.57" fill="#a00606"/>
<circle cx="244.7" cy="453.2" r="0.69" fill="#f41c1c"/>
<circle cx="237.5" cy="420.7" r="0.70" fill="#cc0c0c"/>
<circle cx="195.8" cy="399.6" r="0.85" fill="#a00606"/>
<circle cx="239.0" cy="421.3" r="1.06" fill="#a00606"/>
<circle cx="190.9" cy="434.1" r="0.61" fill="#a00606"/>
<circle cx="239.4" cy="446.1" r="0.67" fill="#6a0000"/>
<circle cx="211.4" cy="444.8" r="0.62" fill="#6a0000"/>
<circle cx="208.2" cy="441.8" r="0.94" fill="#f41c1c"/>
<circle cx="189.0" cy="403.2" r="0.71" fill="#cc0c0c"/>
<circle cx="225.6" cy="409.4" r="0.65" fill="#6a0000"/>
<circle cx="254.7" cy="446.2" r="0.91" fill="#cc0c0c"/>
<circle cx="198.3" cy="407.0" r="0.79" fill="#cc0c0c"/>
<circle cx="209.8" cy="431.6" r="0.62" fill="#cc0c0c"/>
<circle cx="253.1" cy="440.3" r="0.72" fill="#6a0000"/>
<circle cx="184.1" cy="444.8" r="1.13" fill="#cc0c0c"/>
<circle cx="214.6" cy="427.9" r="0.41" fill="#a00606"/>
<circle cx="240.0" cy="455.7" r="0.42" fill="#cc0c0c"/>
<circle cx="192.1" cy="427.6" r="0.81" fill="#6a0000"/>
<circle cx="185.7" cy="418.6" r="1.07" fill="#f41c1c"/>
<circle cx="185.3" cy="422.9" r="0.56" fill="#a00606"/>
<circle cx="238.3" cy="400.6" r="0.69" fill="#cc0c0c"/>
<circle cx="252.8" cy="439.2" r="0.61" fill="#a00606"/>
<circle cx="237.1" cy="424.9" r="1.01" fill="#a00606"/>
<circle cx="204.9" cy="413.6" r="0.84" fill="#6a0000"/>
<circle cx="193.7" cy="433.8" r="0.61" fill="#f41c1c"/>
<circle cx="207.9" cy="442.0" r="0.66" fill="#a00606"/>
<circle cx="200.9" cy="401.9" r="0.86" fill="#a00606"/>
<circle cx="191.3" cy="438.5" r="0.65" fill="#a00606"/>
<circle cx="208.4" cy="431.9" r="0.93" fill="#cc0c0c"/>
<circle cx="245.4" cy="418.0" r="0.69" fill="#cc0c0c"/>
<circle cx="203.3" cy="406.3" r="0.53" fill="#cc0c0c"/>
<circle cx="218.8" cy="436.1" r="1.13" fill="#f41c1c"/>
<circle cx="224.0" cy="408.4" r="0.51" fill="#f41c1c"/>
<circle cx="230.3" cy="435.0" r="0.50" fill="#cc0c0c"/>
<circle cx="182.6" cy="439.8" r="0.39" fill="#a00606"/>
<circle cx="211.8" cy="405.2" r="0.85" fill="#f41c1c"/>
<circle cx="213.8" cy="440.2" r="0.91" fill="#cc0c0c"/>
<circle cx="254.0" cy="436.1" r="0.63" fill="#a00606"/>
<circle cx="219.7" cy="453.1" r="0.97" fill="#f41c1c"/>
<circle cx="196.1" cy="402.5" r="0.55" fill="#6a0000"/>
<circle cx="202.1" cy="432.4" r="0.71" fill="#cc0c0c"/>
<circle cx="194.2" cy="398.8" r="0.65" fill="#f41c1c"/>
<circle cx="248.2" cy="433.0" r="0.95" fill="#cc0c0c"/>
<circle cx="220.0" cy="429.3" r="0.77" fill="#f41c1c"/>
<circle cx="225.0" cy="400.0" r="0.45" fill="#cc0c0c"/>
<circle cx="222.8" cy="410.9" r="0.86" fill="#6a0000"/>
<circle cx="181.1" cy="454.3" r="0.88" fill="#a00606"/>
<circle cx="213.3" cy="425.0" r="0.64" fill="#6a0000"/>
<circle cx="228.6" cy="438.2" r="0.43" fill="#a00606"/>
<circle cx="229.7" cy="409.1" r="0.49" fill="#a00606"/>
<circle cx="221.0" cy="411.4" r="0.54" fill="#a00606"/>
<circle cx="221.8" cy="443.8" r="0.57" fill="#6a0000"/>
<circle cx="184.1" cy="431.0" r="0.53" fill="#6a0000"/>
<circle cx="238.3" cy="419.8" r="0.94" fill="#cc0c0c"/>
<circle cx="252.4" cy="438.8" r="0.57" fill="#cc0c0c"/>
<circle cx="208.6" cy="440.2" r="1.02" fill="#6a0000"/>
<circle cx="203.2" cy="420.0" r="0.46" fill="#cc0c0c"/>
<circle cx="190.4" cy="411.2" r="0.74" fill="#cc0c0c"/>
<circle cx="204.3" cy="449.6" r="1.09" fill="#6a0000"/>
<circle cx="243.7" cy="417.8" r="0.75" fill="#6a0000"/>
<circle cx="202.2" cy="409.6" r="0.85" fill="#cc0c0c"/>
<circle cx="190.1" cy="447.5" r="0.82" fill="#a00606"/>
<circle cx="238.5" cy="455.9" r="0.44" fill="#f41c1c"/>
<circle cx="221.8" cy="439.3" r="0.69" fill="#6a0000"/>
<circle cx="239.5" cy="415.7" r="0.92" fill="#a00606"/>
<circle cx="232.3" cy="447.7" r="1.10" fill="#a00606"/>
<circle cx="199.6" cy="425.4" r="0.85" fill="#a00606"/>
<circle cx="199.1" cy="409.8" r="0.45" fill="#a00606"/>
<circle cx="192.5" cy="448.1" r="0.58" fill="#f41c1c"/>
<circle cx="214.4" cy="424.1" r="0.75" fill="#6a0000"/>
<circle cx="252.0" cy="412.9" r="0.87" fill="#f41c1c"/>
<circle cx="251.7" cy="419.2" r="0.90" fill="#a00606"/>
<circle cx="208.8" cy="413.8" r="0.52" fill="#6a0000"/>
<circle cx="204.1" cy="433.4" r="0.45" fill="#f41c1c"/>
<circle cx="196.5" cy="447.0" r="0.52" fill="#cc0c0c"/>
<circle cx="254.6" cy="454.3" r="0.58" fill="#a00606"/>
<circle cx="235.3" cy="437.3" r="0.74" fill="#cc0c0c"/>
<circle cx="248.6" cy="447.6" r="0.97" fill="#cc0c0c"/>
<circle cx="232.2" cy="418.7" r="0.74" fill="#6a0000"/>
<circle cx="236.6" cy="450.3" r="1.01" fill="#6a0000"/>
<circle cx="239.9" cy="425.1" r="0.82" fill="#cc0c0c"/>
<circle cx="213.4" cy="412.7" r="0.74" fill="#6a0000"/>
<circle cx="253.0" cy="429.4" r="0.85" fill="#6a0000"/>
<circle cx="246.8" cy="423.0" r="0.89" fill="#a00606"/>
<circle cx="222.9" cy="429.8" r="1.06" fill="#f41c1c"/>
<circle cx="222.8" cy="414.7" r="0.66" fill="#cc0c0c"/>
<circle cx="188.3" cy="418.8" r="1.08" fill="#f41c1c"/>
<circle cx="230.5" cy="437.2" r="0.42" fill="#a00606"/>
<circle cx="228.2" cy="403.4" r="0.59" fill="#a00606"/>
<circle cx="188.5" cy="442.8" r="0.72" fill="#a00606"/>
<circle cx="247.0" cy="451.7" r="0.87" fill="#cc0c0c"/>
<circle cx="225.4" cy="450.8" r="0.72" fill="#cc0c0c"/>
<circle cx="211.5" cy="441.4" r="0.76" fill="#cc0c0c"/>
<circle cx="223.3" cy="450.5" r="0.59" fill="#cc0c0c"/>
<circle cx="235.3" cy="432.7" r="0.59" fill="#6a0000"/>
<circle cx="236.6" cy="445.3" r="0.50" fill="#f41c1c"/>
<circle cx="208.9" cy="420.4" r="0.65" fill="#f41c1c"/>
<circle cx="246.0" cy="414.4" r="0.88" fill="#a00606"/>
<circle cx="181.0" cy="438.9" r="0.84" fill="#6a0000"/>
<circle cx="237.8" cy="419.2" r="0.52" fill="#cc0c0c"/>
<circle cx="218.7" cy="422.3" r="0.44" fill="#cc0c0c"/>
<circle cx="194.1" cy="407.3" r="0.65" fill="#6a0000"/>
<circle cx="217.7" cy="408.1" r="0.84" fill="#6a0000"/>
<circle cx="188.8" cy="401.2" r="1.18" fill="#cc0c0c"/>
<circle cx="241.5" cy="400.9" r="0.83" fill="#cc0c0c"/>
<circle cx="202.5" cy="442.4" r="0.66" fill="#a00606"/>
<circle cx="183.1" cy="399.9" r="0.67" fill="#cc0c0c"/>
<circle cx="241.3" cy="413.0" r="0.61" fill="#6a0000"/>
<circle cx="251.5" cy="401.8" r="0.79" fill="#a00606"/>
<circle cx="185.9" cy="412.1" r="0.49" fill="#6a0000"/>
<circle cx="191.4" cy="416.5" r="0.74" fill="#a00606"/>
<circle cx="183.9" cy="403.1" r="0.36" fill="#a00606"/>
<circle cx="212.7" cy="422.2" r="0.88" fill="#cc0c0c"/>
<circle cx="227.0" cy="413.6" r="1.01" fill="#a00606"/>
<circle cx="181.0" cy="407.8" r="0.73" fill="#a00606"/>
<circle cx="197.7" cy="455.6" r="1.02" fill="#f41c1c"/>
<circle cx="203.6" cy="444.3" r="0.58" fill="#a00606"/>
<circle cx="222.1" cy="420.6" r="0.78" fill="#f41c1c"/>
<circle cx="213.7" cy="437.5" r="0.75" fill="#f41c1c"/>
<circle cx="197.5" cy="413.2" r="0.72" fill="#a00606"/>
<circle cx="213.5" cy="426.4" r="0.83" fill="#a00606"/>
<circle cx="181.7" cy="439.5" r="0.76" fill="#cc0c0c"/>
<circle cx="238.3" cy="405.4" r="0.77" fill="#a00606"/>
<circle cx="250.1" cy="444.6" r="0.69" fill="#cc0c0c"/>
<circle cx="246.6" cy="400.6" r="0.46" fill="#a00606"/>
<circle cx="187.3" cy="422.6" r="0.73" fill="#cc0c0c"/>
<circle cx="253.1" cy="430.0" r="0.96" fill="#cc0c0c"/>
<circle cx="202.4" cy="437.1" r="0.40" fill="#cc0c0c"/>
<circle cx="245.3" cy="450.6" r="0.57" fill="#f41c1c"/>
<circle cx="212.5" cy="443.9" r="0.83" fill="#f41c1c"/>
<circle cx="184.3" cy="402.3" r="0.55" fill="#cc0c0c"/>
<circle cx="191.5" cy="405.2" r="0.73" fill="#6a0000"/>
<circle cx="232.3" cy="415.4" r="0.52" fill="#6a0000"/>
<circle cx="191.6" cy="436.1" r="0.66" fill="#6a0000"/>
<circle cx="209.4" cy="426.0" r="0.80" fill="#a00606"/>
<circle cx="226.0" cy="426.3" r="0.89" fill="#a00606"/>
<circle cx="242.4" cy="419.0" r="0.72" fill="#6a0000"/>
<circle cx="198.0" cy="427.4" r="0.69" fill="#a00606"/>
<circle cx="194.3" cy="418.1" r="0.60" fill="#a00606"/>
<circle cx="210.1" cy="401.2" r="0.70" fill="#a00606"/>
<circle cx="183.8" cy="405.8" r="0.73" fill="#6a0000"/>
<circle cx="248.1" cy="436.4" r="0.77" fill="#a00606"/>
<circle cx="198.2" cy="453.6" r="0.80" fill="#cc0c0c"/>
<circle cx="234.1" cy="433.6" r="0.52" fill="#cc0c0c"/>
<circle cx="182.6" cy="451.1" r="0.88" fill="#6a0000"/>
<circle cx="195.9" cy="455.7" r="0.68" fill="#cc0c0c"/>
<circle cx="201.1" cy="448.5" r="0.81" fill="#a00606"/>
<circle cx="223.5" cy="403.8" r="0.62" fill="#6a0000"/>
<circle cx="216.8" cy="411.5" r="0.61" fill="#cc0c0c"/>
<circle cx="236.9" cy="416.2" r="0.81" fill="#a00606"/>
<circle cx="211.1" cy="426.4" r="0.90" fill="#6a0000"/>
<circle cx="190.7" cy="432.6" r="0.83" fill="#cc0c0c"/>
<circle cx="230.3" cy="441.3" r="0.84" fill="#a00606"/>
<circle cx="184.6" cy="413.4" r="0.77" fill="#6a0000"/>
<circle cx="216.0" cy="429.7" r="0.88" fill="#a00606"/>
<circle cx="183.4" cy="451.7" r="0.87" fill="#a00606"/>
<circle cx="209.4" cy="424.9" r="0.51" fill="#a00606"/>
<circle cx="203.1" cy="414.9" r="0.60" fill="#6a0000"/>
<circle cx="193.6" cy="446.0" r="0.89" fill="#6a0000"/>
<circle cx="210.5" cy="412.7" r="0.77" fill="#a00606"/>
<circle cx="191.8" cy="456.2" r="0.86" fill="#6a0000"/>
<circle cx="203.6" cy="434.8" r="0.73" fill="#a00606"/>
<circle cx="193.6" cy="419.2" r="0.61" fill="#cc0c0c"/>
<circle cx="234.2" cy="427.1" r="0.61" fill="#a00606"/>
<circle cx="251.0" cy="427.7" r="0.62" fill="#a00606"/>
<circle cx="190.5" cy="434.8" r="0.54" fill="#a00606"/>
<circle cx="221.7" cy="406.0" r="0.64" fill="#6a0000"/>
<circle cx="235.7" cy="423.6" r="0.51" fill="#a00606"/>
<circle cx="239.0" cy="421.6" r="0.70" fill="#a00606"/>
<circle cx="201.3" cy="445.0" r="0.79" fill="#a00606"/>
<circle cx="229.4" cy="427.4" r="0.78" fill="#cc0c0c"/>
<circle cx="190.6" cy="444.4" r="0.57" fill="#a00606"/>
<circle cx="206.5" cy="436.4" r="0.87" fill="#6a0000"/>
<circle cx="243.0" cy="445.7" r="0.76" fill="#a00606"/>
<circle cx="199.2" cy="405.3" r="0.81" fill="#6a0000"/>
<circle cx="197.7" cy="417.8" r="0.89" fill="#a00606"/>
<circle cx="228.5" cy="423.6" r="0.64" fill="#cc0c0c"/>
<circle cx="247.3" cy="442.4" r="0.54" fill="#6a0000"/>
<circle cx="190.0" cy="406.3" r="0.74" fill="#a00606"/>
<circle cx="204.6" cy="415.3" r="0.88" fill="#a00606"/>
<circle cx="183.6" cy="411.0" r="0.57" fill="#6a0000"/>
<circle cx="185.8" cy="416.2" r="0.83" fill="#6a0000"/>
<circle cx="208.3" cy="407.3" r="0.57" fill="#a00606"/>
<circle cx="195.9" cy="446.9" r="0.59" fill="#6a0000"/>
<circle cx="209.0" cy="427.1" r="0.76" fill="#a00606"/>
<circle cx="186.1" cy="445.0" r="0.53" fill="#6a0000"/>
<circle cx="180.8" cy="437.9" r="0.55" fill="#a00606"/>
<circle cx="251.4" cy="445.0" r="0.80" fill="#cc0c0c"/>
<circle cx="239.9" cy="444.7" r="0.68" fill="#6a0000"/>
<circle cx="231.7" cy="419.8" r="0.53" fill="#6a0000"/>
<circle cx="191.9" cy="427.7" r="0.60" fill="#a00606"/>
<circle cx="190.1" cy="414.4" r="0.59" fill="#a00606"/>
<circle cx="213.1" cy="433.7" r="0.55" fill="#a00606"/>
<circle cx="204.0" cy="447.9" r="0.82" fill="#cc0c0c"/>
<circle cx="213.6" cy="447.0" r="0.77" fill="#cc0c0c"/>
<circle cx="227.5" cy="403.8" r="0.71" fill="#6a0000"/>
<circle cx="190.8" cy="399.3" r="0.53" fill="#a00606"/>
<circle cx="199.0" cy="401.3" r="0.85" fill="#a00606"/>
<circle cx="214.8" cy="416.9" r="0.70" fill="#6a0000"/>
<circle cx="248.2" cy="451.9" r="0.54" fill="#a00606"/>
<circle cx="195.0" cy="451.7" r="0.54" fill="#6a0000"/>
<circle cx="253.1" cy="412.6" r="0.79" fill="#a00606"/>
<circle cx="189.3" cy="421.7" r="0.79" fill="#a00606"/>
<circle cx="184.7" cy="433.7" r="0.84" fill="#a00606"/>
<circle cx="204.0" cy="432.5" r="0.70" fill="#a00606"/>
<circle cx="215.1" cy="437.7" r="0.60" fill="#cc0c0c"/>
<circle cx="180.8" cy="428.9" r="0.73" fill="#a00606"/>
<circle cx="252.1" cy="444.1" r="0.75" fill="#a00606"/>
<circle cx="241.5" cy="444.0" r="0.59" fill="#a00606"/>
<circle cx="206.6" cy="439.2" r="0.63" fill="#6a0000"/>
<circle cx="192.7" cy="433.2" r="0.83" fill="#a00606"/>
<circle cx="185.7" cy="407.0" r="0.72" fill="#6a0000"/>
<circle cx="196.2" cy="409.5" r="0.84" fill="#a00606"/>
<circle cx="237.2" cy="434.1" r="0.66" fill="#6a0000"/>
<circle cx="210.6" cy="401.1" r="0.80" fill="#cc0c0c"/>
<circle cx="244.1" cy="414.3" r="0.83" fill="#6a0000"/>
<circle cx="208.8" cy="451.6" r="0.54" fill="#6a0000"/>
<circle cx="225.4" cy="398.9" r="0.73" fill="#6a0000"/>
<circle cx="246.9" cy="447.3" r="0.51" fill="#a00606"/>
<circle cx="190.2" cy="426.0" r="0.67" fill="#a00606"/>
<circle cx="207.0" cy="443.0" r="0.69" fill="#a00606"/>
<circle cx="213.5" cy="432.3" r="0.79" fill="#a00606"/>
<circle cx="215.4" cy="448.3" r="0.66" fill="#cc0c0c"/>
<circle cx="250.9" cy="437.9" r="0.61" fill="#a00606"/>
<circle cx="200.5" cy="402.8" r="0.50" fill="#6a0000"/>
<circle cx="238.5" cy="419.4" r="0.80" fill="#6a0000"/>
<circle cx="246.7" cy="429.1" r="0.88" fill="#6a0000"/>
<circle cx="241.9" cy="423.5" r="0.51" fill="#6a0000"/>
<circle cx="243.2" cy="445.4" r="0.84" fill="#cc0c0c"/>
<circle cx="218.1" cy="425.8" r="0.74" fill="#6a0000"/>
<circle cx="189.1" cy="399.2" r="0.57" fill="#6a0000"/>
<circle cx="252.6" cy="405.8" r="0.52" fill="#cc0c0c"/>
<circle cx="191.2" cy="402.5" r="0.73" fill="#6a0000"/>
<circle cx="223.8" cy="446.3" r="0.70" fill="#6a0000"/>
<circle cx="226.2" cy="437.3" r="0.54" fill="#6a0000"/>
<circle cx="192.4" cy="444.3" r="0.86" fill="#6a0000"/>
<circle cx="213.6" cy="427.7" r="0.52" fill="#a00606"/>
<circle cx="235.5" cy="443.5" r="0.80" fill="#a00606"/>
<circle cx="231.8" cy="410.5" r="0.75" fill="#6a0000"/>
<circle cx="197.0" cy="407.6" r="0.53" fill="#a00606"/>
<circle cx="221.2" cy="412.4" r="0.89" fill="#6a0000"/>
<circle cx="224.7" cy="447.8" r="0.64" fill="#a00606"/>
<circle cx="204.9" cy="402.9" r="0.62" fill="#6a0000"/>
<circle cx="233.9" cy="455.9" r="0.84" fill="#cc0c0c"/>
<circle cx="241.5" cy="449.3" r="0.87" fill="#cc0c0c"/>
<circle cx="188.5" cy="433.2" r="0.75" fill="#a00606"/>
<circle cx="190.2" cy="409.8" r="0.50" fill="#cc0c0c"/>
<circle cx="198.0" cy="409.9" r="0.72" fill="#6a0000"/>
<circle cx="226.0" cy="423.1" r="0.85" fill="#6a0000"/>
<circle cx="195.0" cy="407.7" r="0.72" fill="#cc0c0c"/>
<circle cx="194.3" cy="431.9" r="0.83" fill="#cc0c0c"/>
<circle cx="196.7" cy="442.3" r="0.63" fill="#a00606"/>
<circle cx="186.9" cy="449.8" r="0.85" fill="#6a0000"/>
<circle cx="180.8" cy="443.8" r="0.88" fill="#cc0c0c"/>
<circle cx="252.0" cy="419.9" r="0.79" fill="#6a0000"/>
<circle cx="191.9" cy="442.7" r="0.75" fill="#a00606"/>
<circle cx="224.3" cy="444.6" r="0.72" fill="#a00606"/>
<circle cx="180.8" cy="409.2" r="0.85" fill="#6a0000"/>
<circle cx="231.1" cy="441.3" r="0.62" fill="#a00606"/>
<circle cx="222.0" cy="443.4" r="0.64" fill="#a00606"/>
<circle cx="211.2" cy="442.8" r="0.79" fill="#a00606"/>
<circle cx="197.3" cy="404.5" r="0.61" fill="#a00606"/>
<circle cx="221.1" cy="430.3" r="0.77" fill="#6a0000"/>
<circle cx="232.0" cy="419.6" r="0.76" fill="#a00606"/>
<circle cx="230.7" cy="398.3" r="0.65" fill="#cc0c0c"/>
<circle cx="199.5" cy="428.3" r="0.67" fill="#6a0000"/>
<circle cx="252.4" cy="445.0" r="0.89" fill="#a00606"/>
<circle cx="244.0" cy="439.7" r="0.89" fill="#a00606"/>
<circle cx="210.9" cy="434.6" r="0.58" fill="#6a0000"/>
<circle cx="195.5" cy="405.4" r="0.67" fill="#cc0c0c"/>
<circle cx="217.8" cy="406.6" r="0.90" fill="#a00606"/>
<circle cx="235.9" cy="441.7" r="0.88" fill="#6a0000"/>
<circle cx="220.6" cy="433.7" r="0.52" fill="#cc0c0c"/>
<circle cx="242.8" cy="403.9" r="0.54" fill="#6a0000"/>
<circle cx="197.4" cy="434.6" r="0.64" fill="#6a0000"/>
<circle cx="246.0" cy="450.5" r="0.68" fill="#6a0000"/>
<circle cx="218.0" cy="423.1" r="0.83" fill="#a00606"/>
<circle cx="236.4" cy="417.3" r="0.51" fill="#a00606"/>
<circle cx="201.9" cy="441.6" r="0.69" fill="#6a0000"/>
<circle cx="235.7" cy="427.5" r="0.80" fill="#cc0c0c"/>
<circle cx="184.7" cy="411.9" r="0.52" fill="#6a0000"/>
<circle cx="208.7" cy="433.4" r="0.57" fill="#6a0000"/>
<circle cx="196.2" cy="417.2" r="0.63" fill="#a00606"/>
<circle cx="211.5" cy="418.3" r="0.61" fill="#a00606"/>
<circle cx="202.2" cy="434.9" r="0.82" fill="#6a0000"/>
<circle cx="180.8" cy="405.2" r="0.80" fill="#6a0000"/>
<circle cx="230.3" cy="439.1" r="0.62" fill="#a00606"/>
<circle cx="241.2" cy="411.6" r="0.89" fill="#6a0000"/>
<circle cx="236.2" cy="421.3" r="0.56" fill="#a00606"/>
<circle cx="214.5" cy="424.7" r="0.51" fill="#6a0000"/>
<circle cx="231.7" cy="424.2" r="0.53" fill="#6a0000"/>
<circle cx="202.6" cy="456.0" r="1.18" fill="#f41c1c"/>
<circle cx="219.0" cy="420.4" r="0.98" fill="#f41c1c"/>
<circle cx="212.8" cy="452.6" r="1.40" fill="#f41c1c"/>
<circle cx="206.7" cy="413.3" r="0.99" fill="#f41c1c"/>
<circle cx="194.2" cy="429.5" r="1.29" fill="#f41c1c"/>
<circle cx="204.4" cy="445.1" r="1.25" fill="#f41c1c"/>
<circle cx="207.1" cy="417.1" r="1.21" fill="#f41c1c"/>
<circle cx="194.8" cy="447.2" r="1.32" fill="#f41c1c"/>
<circle cx="252.1" cy="427.5" r="1.17" fill="#f41c1c"/>
<circle cx="226.4" cy="449.9" r="1.35" fill="#f41c1c"/>
<circle cx="234.7" cy="434.5" r="1.16" fill="#f41c1c"/>
<circle cx="244.8" cy="402.9" r="1.29" fill="#f41c1c"/>
<circle cx="222.4" cy="426.0" r="1.37" fill="#f41c1c"/>
<circle cx="209.9" cy="403.1" r="1.38" fill="#f41c1c"/>
<circle cx="189.3" cy="431.4" r="1.18" fill="#f41c1c"/>
<circle cx="204.6" cy="422.8" r="1.12" fill="#f41c1c"/>
<circle cx="198.4" cy="406.3" r="1.16" fill="#f41c1c"/>
<circle cx="198.3" cy="453.5" r="1.33" fill="#f41c1c"/>
</g>
</g>
<rect x="78.0" y="452.2" width="15.8" height="2.2" fill="#f2c81a"/>
<rect x="157.9" y="452.2" width="15.4" height="2.2" fill="#f2c81a"/>
<rect x="236.4" y="452.2" width="16.1" height="2.2" fill="#f2c81a"/>
<text x="47.3" y="469.4" font-size="13.4" fill="#1e1ef0" stroke="#1e1ef0" stroke-width="0.1">DAPI</text>
<text x="123.7" y="469.4" font-size="13.4" fill="#ff1e1e" stroke="#ff1e1e" stroke-width="0.1">NeuN</text>
<text x="186" y="469.4" font-size="13.4" fill="#ff1e1e" stroke="#ff1e1e" stroke-width="0.1"><tspan fill="#1e1ef0" stroke="#1e1ef0">DAPI</tspan>+NeuN</text>
<text x="269.3" y="15.5" font-size="14" stroke="#000" stroke-width="0.1">B</text>
<line x1="324.7" y1="28.4" x2="324.7" y2="104" stroke="#111" stroke-width="1.3"/>
<line x1="321.2" y1="28.5" x2="324.7" y2="28.5" stroke="#111" stroke-width="1.3"/>
<text x="320.3" y="31.56" font-size="9" text-anchor="end" stroke="#000" stroke-width="0.1">0.50</text>
<line x1="321.2" y1="53.6" x2="324.7" y2="53.6" stroke="#111" stroke-width="1.3"/>
<text x="320.3" y="56.66" font-size="9" text-anchor="end" stroke="#000" stroke-width="0.1">0.45</text>
<line x1="321.2" y1="78.8" x2="324.7" y2="78.8" stroke="#111" stroke-width="1.3"/>
<text x="320.3" y="81.86" font-size="9" text-anchor="end" stroke="#000" stroke-width="0.1">0.40</text>
<line x1="321.2" y1="104" x2="324.7" y2="104" stroke="#111" stroke-width="1.3"/>
<text x="320.3" y="107.06" font-size="9" text-anchor="end" stroke="#000" stroke-width="0.1">0.35</text>
<line x1="324.1" y1="104" x2="440.5" y2="104" stroke="#111" stroke-width="1.3"/>
<line x1="338.2" y1="104" x2="338.2" y2="107.5" stroke="#111" stroke-width="1.3"/>
<line x1="368.3" y1="104" x2="368.3" y2="107.5" stroke="#111" stroke-width="1.3"/>
<line x1="398" y1="104" x2="398" y2="107.5" stroke="#111" stroke-width="1.3"/>
<line x1="427.8" y1="104" x2="427.8" y2="107.5" stroke="#111" stroke-width="1.3"/>
<text x="340.7" y="114.6" font-size="9" text-anchor="end" transform="rotate(-45 340.7 114.6)" stroke="#000" stroke-width="0.1">DMEM</text>
<text x="370.8" y="114.6" font-size="9" text-anchor="end" transform="rotate(-45 370.8 114.6)" stroke="#000" stroke-width="0.1">rRC-HL</text>
<text x="400.5" y="114.6" font-size="9" text-anchor="end" transform="rotate(-45 400.5 114.6)" stroke="#000" stroke-width="0.1">GX074</text>
<text x="430.3" y="114.6" font-size="9" text-anchor="end" transform="rotate(-45 430.3 114.6)" stroke="#000" stroke-width="0.1">CVS-24</text>
<text x="301.6" y="63.6" font-size="9.2" text-anchor="middle" transform="rotate(-90 301.6 63.6)" stroke="#000" stroke-width="0.1">Mouse brain weight (g)</text>
<circle cx="457.6" cy="37.3" r="1.8" fill="#f23cc6"/>
<text x="466.4" y="41.3" font-size="12.6" word-spacing="1.2" stroke="#000" stroke-width="0.1">4 d</text>
<rect x="455.9" y="49.6" width="3.4" height="3.4" fill="#3f93f2"/>
<text x="466.4" y="55.3" font-size="12.6" word-spacing="1.2" stroke="#000" stroke-width="0.1">7 d</text>
<circle cx="332.1" cy="38.6" r="1.75" fill="#f23cc6"/>
<circle cx="334.8" cy="40.8" r="1.75" fill="#f23cc6"/>
<circle cx="329.9" cy="53.4" r="1.75" fill="#f23cc6"/>
<circle cx="332.6" cy="53.4" r="1.75" fill="#f23cc6"/>
<circle cx="332.4" cy="57.2" r="1.75" fill="#f23cc6"/>
<circle cx="331.5" cy="61" r="1.75" fill="#f23cc6"/>
<circle cx="334.8" cy="61" r="1.75" fill="#f23cc6"/>
<circle cx="332.6" cy="65.3" r="1.75" fill="#f23cc6"/>
<circle cx="330.2" cy="69.2" r="1.75" fill="#f23cc6"/>
<circle cx="332.6" cy="69.2" r="1.75" fill="#f23cc6"/>
<circle cx="332.4" cy="74.6" r="1.75" fill="#f23cc6"/>
<circle cx="330.2" cy="83.9" r="1.75" fill="#f23cc6"/>
<circle cx="334.8" cy="82.3" r="1.75" fill="#f23cc6"/>
<circle cx="332.4" cy="62.6" r="1.75" fill="#f23cc6"/>
<line x1="332.3" y1="59.5" x2="332.3" y2="65.7" stroke="#555" stroke-width="0.7"/>
<line x1="330.8" y1="59.5" x2="333.8" y2="59.5" stroke="#555" stroke-width="0.7"/>
<line x1="330.8" y1="65.7" x2="333.8" y2="65.7" stroke="#555" stroke-width="0.7"/>
<line x1="328.7" y1="62.6" x2="335.9" y2="62.6" stroke="#222" stroke-width="1.1"/>
<rect x="341.85" y="40.55" width="3.3" height="3.3" fill="#3f93f2"/>
<rect x="341.85" y="46.25" width="3.3" height="3.3" fill="#3f93f2"/>
<rect x="339.85" y="48.45" width="3.3" height="3.3" fill="#3f93f2"/>
<rect x="344.65" y="49.55" width="3.3" height="3.3" fill="#3f93f2"/>
<rect x="341.85" y="56.65" width="3.3" height="3.3" fill="#3f93f2"/>
<rect x="341.85" y="60.45" width="3.3" height="3.3" fill="#3f93f2"/>
<rect x="339.65" y="64.75" width="3.3" height="3.3" fill="#3f93f2"/>
<rect x="344.65" y="64.25" width="3.3" height="3.3" fill="#3f93f2"/>
<rect x="341.85" y="68.65" width="3.3" height="3.3" fill="#3f93f2"/>
<rect x="341.85" y="73.55" width="3.3" height="3.3" fill="#3f93f2"/>
<rect x="341.85" y="80.65" width="3.3" height="3.3" fill="#3f93f2"/>
<rect x="341.85" y="82.75" width="3.3" height="3.3" fill="#3f93f2"/>
<rect x="341.85" y="85.55" width="3.3" height="3.3" fill="#3f93f2"/>
<rect x="341.85" y="89.35" width="3.3" height="3.3" fill="#3f93f2"/>
<line x1="343.5" y1="61.8" x2="343.5" y2="69.4" stroke="#555" stroke-width="0.7"/>
<line x1="342" y1="61.8" x2="345" y2="61.8" stroke="#555" stroke-width="0.7"/>
<line x1="342" y1="69.4" x2="345" y2="69.4" stroke="#555" stroke-width="0.7"/>
<line x1="339.9" y1="65.6" x2="347.1" y2="65.6" stroke="#222" stroke-width="1.1"/>
<circle cx="362.1" cy="43.3" r="1.75" fill="#f23cc6"/>
<circle cx="362.1" cy="53.9" r="1.75" fill="#f23cc6"/>
<circle cx="360.4" cy="57.7" r="1.75" fill="#f23cc6"/>
<circle cx="363.8" cy="58.3" r="1.75" fill="#f23cc6"/>
<circle cx="361" cy="60.4" r="1.75" fill="#f23cc6"/>
<circle cx="363.4" cy="60.4" r="1.75" fill="#f23cc6"/>
<circle cx="361" cy="63.7" r="1.75" fill="#f23cc6"/>
<circle cx="359.9" cy="67" r="1.75" fill="#f23cc6"/>
<circle cx="362.6" cy="67" r="1.75" fill="#f23cc6"/>
<circle cx="362.1" cy="69.2" r="1.75" fill="#f23cc6"/>
<circle cx="363.2" cy="74.1" r="1.75" fill="#f23cc6"/>
<circle cx="361.5" cy="77.3" r="1.75" fill="#f23cc6"/>
<line x1="362.1" y1="61.3" x2="362.1" y2="66.1" stroke="#555" stroke-width="0.7"/>
<line x1="360.6" y1="61.3" x2="363.6" y2="61.3" stroke="#555" stroke-width="0.7"/>
<line x1="360.6" y1="66.1" x2="363.6" y2="66.1" stroke="#555" stroke-width="0.7"/>
<line x1="358.5" y1="63.7" x2="365.7" y2="63.7" stroke="#222" stroke-width="1.1"/>
<rect x="371.85" y="33.95" width="3.3" height="3.3" fill="#3f93f2"/>
<rect x="371.85" y="43.55" width="3.3" height="3.3" fill="#3f93f2"/>
<rect x="369.75" y="45.75" width="3.3" height="3.3" fill="#3f93f2"/>
<rect x="372.45" y="47.85" width="3.3" height="3.3" fill="#3f93f2"/>
<rect x="373.55" y="52.75" width="3.3" height="3.3" fill="#3f93f2"/>
<rect x="372.45" y="54.95" width="3.3" height="3.3" fill="#3f93f2"/>
<rect x="371.35" y="59.35" width="3.3" height="3.3" fill="#3f93f2"/>
<rect x="373.55" y="62.65" width="3.3" height="3.3" fill="#3f93f2"/>
<rect x="371.35" y="64.75" width="3.3" height="3.3" fill="#3f93f2"/>
<rect x="371.85" y="79.55" width="3.3" height="3.3" fill="#3f93f2"/>
<rect x="371.85" y="94.25" width="3.3" height="3.3" fill="#3f93f2"/>
<line x1="373.5" y1="55.2" x2="373.5" y2="63.6" stroke="#555" stroke-width="0.7"/>
<line x1="372" y1="55.2" x2="375" y2="55.2" stroke="#555" stroke-width="0.7"/>
<line x1="372" y1="63.6" x2="375" y2="63.6" stroke="#555" stroke-width="0.7"/>
<line x1="369.9" y1="59.4" x2="377.1" y2="59.4" stroke="#222" stroke-width="1.1"/>
<circle cx="392.1" cy="41.9" r="1.75" fill="#f23cc6"/>
<circle cx="389.9" cy="47.9" r="1.75" fill="#f23cc6"/>
<circle cx="392.6" cy="50.6" r="1.75" fill="#f23cc6"/>
<circle cx="394.8" cy="50.1" r="1.75" fill="#f23cc6"/>
<circle cx="392.1" cy="56.1" r="1.75" fill="#f23cc6"/>
<circle cx="392.1" cy="60.1" r="1.75" fill="#f23cc6"/>
<circle cx="392.1" cy="68.1" r="1.75" fill="#f23cc6"/>
<circle cx="392.1" cy="75.7" r="1.75" fill="#f23cc6"/>
<circle cx="392.1" cy="78.4" r="1.75" fill="#f23cc6"/>
<circle cx="392.1" cy="83.3" r="1.75" fill="#f23cc6"/>
<circle cx="392.1" cy="91" r="1.75" fill="#f23cc6"/>
<circle cx="394.3" cy="91" r="1.75" fill="#f23cc6"/>
<circle cx="392.1" cy="96.1" r="1.75" fill="#f23cc6"/>
<line x1="392.1" y1="63.4" x2="392.1" y2="73.5" stroke="#555" stroke-width="0.7"/>
<line x1="390.6" y1="63.4" x2="393.6" y2="63.4" stroke="#555" stroke-width="0.7"/>
<line x1="390.6" y1="73.5" x2="393.6" y2="73.5" stroke="#555" stroke-width="0.7"/>
<line x1="388.5" y1="68.4" x2="395.7" y2="68.4" stroke="#222" stroke-width="1.1"/>
<rect x="401.85" y="36.65" width="3.3" height="3.3" fill="#3f93f2"/>
<rect x="401.85" y="51.95" width="3.3" height="3.3" fill="#3f93f2"/>
<rect x="401.85" y="55.55" width="3.3" height="3.3" fill="#3f93f2"/>
<rect x="403.55" y="59.35" width="3.3" height="3.3" fill="#3f93f2"/>
<rect x="400.25" y="60.95" width="3.3" height="3.3" fill="#3f93f2"/>
<rect x="401.85" y="61.55" width="3.3" height="3.3" fill="#3f93f2"/>
<rect x="399.75" y="67.55" width="3.3" height="3.3" fill="#3f93f2"/>
<rect x="403.55" y="67.55" width="3.3" height="3.3" fill="#3f93f2"/>
<rect x="401.35" y="69.65" width="3.3" height="3.3" fill="#3f93f2"/>
<rect x="399.75" y="79.85" width="3.3" height="3.3" fill="#3f93f2"/>
<rect x="404.05" y="79.55" width="3.3" height="3.3" fill="#3f93f2"/>
<line x1="403.5" y1="60.6" x2="403.5" y2="67.4" stroke="#555" stroke-width="0.7"/>
<line x1="402" y1="60.6" x2="405" y2="60.6" stroke="#555" stroke-width="0.7"/>
<line x1="402" y1="67.4" x2="405" y2="67.4" stroke="#555" stroke-width="0.7"/>
<line x1="399.9" y1="64" x2="407.1" y2="64" stroke="#222" stroke-width="1.1"/>
<circle cx="422.1" cy="46.6" r="1.75" fill="#f23cc6"/>
<circle cx="422.1" cy="50.6" r="1.75" fill="#f23cc6"/>
<circle cx="419.9" cy="57.2" r="1.75" fill="#f23cc6"/>
<circle cx="423.7" cy="57.2" r="1.75" fill="#f23cc6"/>
<circle cx="422.1" cy="61.5" r="1.75" fill="#f23cc6"/>
<circle cx="422.1" cy="77.9" r="1.75" fill="#f23cc6"/>
<circle cx="422.1" cy="83.3" r="1.75" fill="#f23cc6"/>
<circle cx="423.7" cy="82.8" r="1.75" fill="#f23cc6"/>
<circle cx="419.9" cy="88.2" r="1.75" fill="#f23cc6"/>
<circle cx="423.7" cy="87.7" r="1.75" fill="#f23cc6"/>
<line x1="422.1" y1="65.6" x2="422.1" y2="74.3" stroke="#555" stroke-width="0.7"/>
<line x1="420.6" y1="65.6" x2="423.6" y2="65.6" stroke="#555" stroke-width="0.7"/>
<line x1="420.6" y1="74.3" x2="423.6" y2="74.3" stroke="#555" stroke-width="0.7"/>
<line x1="418.5" y1="69.9" x2="425.7" y2="69.9" stroke="#222" stroke-width="1.1"/>
<rect x="431.85" y="36.95" width="3.3" height="3.3" fill="#3f93f2"/>
<rect x="431.85" y="50.05" width="3.3" height="3.3" fill="#3f93f2"/>
<rect x="434.05" y="50.65" width="3.3" height="3.3" fill="#3f93f2"/>
<rect x="429.65" y="54.45" width="3.3" height="3.3" fill="#3f93f2"/>
<rect x="431.85" y="56.05" width="3.3" height="3.3" fill="#3f93f2"/>
<rect x="431.85" y="60.45" width="3.3" height="3.3" fill="#3f93f2"/>
<rect x="431.85" y="76.75" width="3.3" height="3.3" fill="#3f93f2"/>
<line x1="433.5" y1="53.5" x2="433.5" y2="59.7" stroke="#555" stroke-width="0.7"/>
<line x1="432" y1="53.5" x2="435" y2="53.5" stroke="#555" stroke-width="0.7"/>
<line x1="432" y1="59.7" x2="435" y2="59.7" stroke="#555" stroke-width="0.7"/>
<line x1="429.9" y1="56.6" x2="437.1" y2="56.6" stroke="#222" stroke-width="1.1"/>
<text x="268.4" y="170.9" font-size="14" stroke="#000" stroke-width="0.1">C</text>
<line x1="336.2" y1="189.4" x2="336.2" y2="266.3" stroke="#111" stroke-width="1.3"/>
<line x1="332.7" y1="266.3" x2="336.2" y2="266.3" stroke="#111" stroke-width="1.3"/>
<text x="331.5" y="269.56" font-size="9.6" text-anchor="end" stroke="#000" stroke-width="0.1">0</text>
<line x1="332.7" y1="256.69" x2="336.2" y2="256.69" stroke="#111" stroke-width="1.3"/>
<text x="331.5" y="259.95" font-size="9.6" text-anchor="end" stroke="#000" stroke-width="0.1">20</text>
<line x1="332.7" y1="247.08" x2="336.2" y2="247.08" stroke="#111" stroke-width="1.3"/>
<text x="331.5" y="250.34" font-size="9.6" text-anchor="end" stroke="#000" stroke-width="0.1">40</text>
<line x1="332.7" y1="237.46" x2="336.2" y2="237.46" stroke="#111" stroke-width="1.3"/>
<text x="331.5" y="240.73" font-size="9.6" text-anchor="end" stroke="#000" stroke-width="0.1">60</text>
<line x1="332.7" y1="227.85" x2="336.2" y2="227.85" stroke="#111" stroke-width="1.3"/>
<text x="331.5" y="231.11" font-size="9.6" text-anchor="end" stroke="#000" stroke-width="0.1">80</text>
<line x1="332.7" y1="218.24" x2="336.2" y2="218.24" stroke="#111" stroke-width="1.3"/>
<text x="331.5" y="221.5" font-size="9.6" text-anchor="end" stroke="#000" stroke-width="0.1">100</text>
<line x1="332.7" y1="208.62" x2="336.2" y2="208.62" stroke="#111" stroke-width="1.3"/>
<text x="331.5" y="211.89" font-size="9.6" text-anchor="end" stroke="#000" stroke-width="0.1">120</text>
<line x1="332.7" y1="199.01" x2="336.2" y2="199.01" stroke="#111" stroke-width="1.3"/>
<text x="331.5" y="202.28" font-size="9.6" text-anchor="end" stroke="#000" stroke-width="0.1">140</text>
<line x1="332.7" y1="189.4" x2="336.2" y2="189.4" stroke="#111" stroke-width="1.3"/>
<text x="331.5" y="192.66" font-size="9.6" text-anchor="end" stroke="#000" stroke-width="0.1">160</text>
<line x1="335.6" y1="266.3" x2="455.7" y2="266.3" stroke="#111" stroke-width="1.3"/>
<line x1="349.8" y1="266.3" x2="349.8" y2="269.8" stroke="#111" stroke-width="1.3"/>
<line x1="380.3" y1="266.3" x2="380.3" y2="269.8" stroke="#111" stroke-width="1.3"/>
<line x1="410.8" y1="266.3" x2="410.8" y2="269.8" stroke="#111" stroke-width="1.3"/>
<line x1="441.3" y1="266.3" x2="441.3" y2="269.8" stroke="#111" stroke-width="1.3"/>
<text x="352.3" y="280.3" font-size="9.8" text-anchor="end" transform="rotate(-28 352.3 280.3)" stroke="#000" stroke-width="0.1">DMEM</text>
<text x="382.8" y="280.3" font-size="9.8" text-anchor="end" transform="rotate(-28 382.8 280.3)" stroke="#000" stroke-width="0.1">rRC-HL</text>
<text x="413.3" y="280.3" font-size="9.8" text-anchor="end" transform="rotate(-28 413.3 280.3)" stroke="#000" stroke-width="0.1">GX074</text>
<text x="443.8" y="280.3" font-size="9.8" text-anchor="end" transform="rotate(-28 443.8 280.3)" stroke="#000" stroke-width="0.1">CVS-24</text>
<text x="304.7" y="226.3" font-size="9.6" text-anchor="middle" transform="rotate(-90 304.7 226.3)" stroke="#000" stroke-width="0.1">Neuronal cell number</text>
<text x="315.6" y="226" font-size="9.6" text-anchor="middle" transform="rotate(-90 315.6 226)" stroke="#000" stroke-width="0.1">(ten thousand)</text>
<circle cx="471.8" cy="197.3" r="1.6" fill="#f23cc6"/>
<text x="480.6" y="200.6" font-size="9.9" word-spacing="1.0" stroke="#000" stroke-width="0.1">4 d</text>
<rect x="470.3" y="209.8" width="3.0" height="3.0" fill="#3f93f2"/>
<text x="480.6" y="214.9" font-size="9.9" word-spacing="1.0" stroke="#000" stroke-width="0.1">7 d</text>
<path d="M340.5 266.3V260H347.5V266.3" stroke="#ff3ecf" stroke-width="1.4" fill="none"/>
<circle cx="343" cy="261" r="1.6" fill="#f23cc6"/>
<circle cx="345" cy="261" r="1.6" fill="#f23cc6"/>
<circle cx="341.5" cy="261.5" r="1.6" fill="#f23cc6"/>
<path d="M352.1 266.3V259.4H358.8V266.3" stroke="#6161ff" stroke-width="1.4" fill="none"/>
<rect x="354.1" y="253.5" width="3.0" height="3.0" fill="#3f93f2"/>
<rect x="352.5" y="257.2" width="3.0" height="3.0" fill="#3f93f2"/>
<rect x="355.8" y="259.1" width="3.0" height="3.0" fill="#3f93f2"/>
<rect x="351.5" y="259.1" width="3.0" height="3.0" fill="#3f93f2"/>
<line x1="374.7" y1="258.1" x2="374.7" y2="253.9" stroke="#ffa6e6" stroke-width="0.8"/>
<line x1="373.2" y1="253.9" x2="376.2" y2="253.9" stroke="#ffa6e6" stroke-width="0.8"/>
<path d="M371.4 266.3V258.1H378V266.3" stroke="#ff3ecf" stroke-width="1.4" fill="none"/>
<circle cx="374.4" cy="253.9" r="1.6" fill="#f23cc6"/>
<circle cx="375.3" cy="258.1" r="1.6" fill="#f23cc6"/>
<circle cx="372.9" cy="259.4" r="1.6" fill="#f23cc6"/>
<line x1="386.15" y1="214.4" x2="386.15" y2="194" stroke="#a9cdf8" stroke-width="0.8"/>
<line x1="384.65" y1="194" x2="387.65" y2="194" stroke="#a9cdf8" stroke-width="0.8"/>
<path d="M382.7 266.3V214.4H389.6V266.3" stroke="#6161ff" stroke-width="1.4" fill="none"/>
<rect x="384.6" y="192.5" width="3.0" height="3.0" fill="#3f93f2"/>
<rect x="384.6" y="210.2" width="3.0" height="3.0" fill="#3f93f2"/>
<rect x="383" y="210.2" width="3.0" height="3.0" fill="#3f93f2"/>
<rect x="384.6" y="235.8" width="3.0" height="3.0" fill="#3f93f2"/>
<path d="M401.7 266.3V256.3H408.4V266.3" stroke="#ff3ecf" stroke-width="1.4" fill="none"/>
<circle cx="403.5" cy="256.5" r="1.6" fill="#f23cc6"/>
<circle cx="405.5" cy="256.8" r="1.6" fill="#f23cc6"/>
<circle cx="407" cy="257.5" r="1.6" fill="#f23cc6"/>
<path d="M413.1 266.3V255H420.4V266.3" stroke="#6161ff" stroke-width="1.4" fill="none"/>
<rect x="413.1" y="251.1" width="3.0" height="3.0" fill="#3f93f2"/>
<rect x="416.7" y="253.5" width="3.0" height="3.0" fill="#3f93f2"/>
<rect x="413.1" y="256.6" width="3.0" height="3.0" fill="#3f93f2"/>
<line x1="435.8" y1="242.2" x2="435.8" y2="234.9" stroke="#ffa6e6" stroke-width="0.8"/>
<line x1="434.3" y1="234.9" x2="437.3" y2="234.9" stroke="#ffa6e6" stroke-width="0.8"/>
<path d="M432.3 266.3V242.2H439.3V266.3" stroke="#ff3ecf" stroke-width="1.4" fill="none"/>
<circle cx="435.6" cy="234.9" r="1.6" fill="#f23cc6"/>
<circle cx="434.2" cy="243.5" r="1.6" fill="#f23cc6"/>
<circle cx="437.2" cy="244.7" r="1.6" fill="#f23cc6"/>
<circle cx="433.5" cy="247.1" r="1.6" fill="#f23cc6"/>
<line x1="446.95" y1="216" x2="446.95" y2="205" stroke="#a9cdf8" stroke-width="0.8"/>
<line x1="445.45" y1="205" x2="448.45" y2="205" stroke="#a9cdf8" stroke-width="0.8"/>
<path d="M443.3 266.3V216H450.6V266.3" stroke="#6161ff" stroke-width="1.4" fill="none"/>
<rect x="445.8" y="203.5" width="3.0" height="3.0" fill="#3f93f2"/>
<rect x="445.8" y="214.5" width="3.0" height="3.0" fill="#3f93f2"/>
<rect x="443.6" y="216.9" width="3.0" height="3.0" fill="#3f93f2"/>
<rect x="447.9" y="218.1" width="3.0" height="3.0" fill="#3f93f2"/>
<rect x="443" y="220" width="3.0" height="3.0" fill="#3f93f2"/>
<path d="M374.4 249V185.4H387V188.2" stroke="#3a3a3a" stroke-width="1.0" fill="none"/>
<text x="373.56" y="186" font-size="8.0" fill="#3c3c3c" font-family="DejaVu Sans" letter-spacing="0.9" stroke="#3c3c3c" stroke-width="0.25">***</text>
<path d="M435.3 230V196.4H447V200" stroke="#3a3a3a" stroke-width="1.0" fill="none"/>
<text x="434.01" y="195.4" font-size="8.0" fill="#3c3c3c" font-family="DejaVu Sans" letter-spacing="0.9" stroke="#3c3c3c" stroke-width="0.25">***</text>
<text x="268.8" y="312.6" font-size="14" stroke="#000" stroke-width="0.1">D</text>
<line x1="334.5" y1="329.7" x2="334.5" y2="410.7" stroke="#111" stroke-width="1.3"/>
<line x1="331" y1="329.7" x2="334.5" y2="329.7" stroke="#111" stroke-width="1.3"/>
<text x="330.9" y="333.03" font-size="9.8" text-anchor="end" stroke="#000" stroke-width="0.1">100%</text>
<line x1="331" y1="346" x2="334.5" y2="346" stroke="#111" stroke-width="1.3"/>
<text x="330.9" y="349.33" font-size="9.8" text-anchor="end" stroke="#000" stroke-width="0.1">95%</text>
<line x1="331" y1="362.2" x2="334.5" y2="362.2" stroke="#111" stroke-width="1.3"/>
<text x="330.9" y="365.53" font-size="9.8" text-anchor="end" stroke="#000" stroke-width="0.1">90%</text>
<line x1="331" y1="378.4" x2="334.5" y2="378.4" stroke="#111" stroke-width="1.3"/>
<text x="330.9" y="381.73" font-size="9.8" text-anchor="end" stroke="#000" stroke-width="0.1">85%</text>
<line x1="331" y1="394.5" x2="334.5" y2="394.5" stroke="#111" stroke-width="1.3"/>
<text x="330.9" y="397.83" font-size="9.8" text-anchor="end" stroke="#000" stroke-width="0.1">80%</text>
<line x1="331" y1="410.7" x2="334.5" y2="410.7" stroke="#111" stroke-width="1.3"/>
<text x="330.9" y="414.03" font-size="9.8" text-anchor="end" stroke="#000" stroke-width="0.1">75%</text>
<line x1="333.9" y1="410.7" x2="459" y2="410.7" stroke="#111" stroke-width="1.3"/>
<line x1="349.7" y1="410.7" x2="349.7" y2="414.2" stroke="#111" stroke-width="1.3"/>
<line x1="381.5" y1="410.7" x2="381.5" y2="414.2" stroke="#111" stroke-width="1.3"/>
<line x1="413.3" y1="410.7" x2="413.3" y2="414.2" stroke="#111" stroke-width="1.3"/>
<line x1="445.1" y1="410.7" x2="445.1" y2="414.2" stroke="#111" stroke-width="1.3"/>
<text x="352.2" y="424.7" font-size="10.0" text-anchor="end" transform="rotate(-28 352.2 424.7)" stroke="#000" stroke-width="0.1">DMEM</text>
<text x="384" y="424.7" font-size="10.0" text-anchor="end" transform="rotate(-28 384 424.7)" stroke="#000" stroke-width="0.1">rRC-HL</text>
<text x="415.8" y="424.7" font-size="10.0" text-anchor="end" transform="rotate(-28 415.8 424.7)" stroke="#000" stroke-width="0.1">GX074</text>
<text x="447.6" y="424.7" font-size="10.0" text-anchor="end" transform="rotate(-28 447.6 424.7)" stroke="#000" stroke-width="0.1">CVS-24</text>
<text x="305.9" y="367.2" font-size="10.5" text-anchor="middle" transform="rotate(-90 305.9 367.2)" stroke="#000" stroke-width="0.1">Survival rate</text>
<circle cx="468.9" cy="344.4" r="1.7" fill="#f23cc6"/>
<text x="478" y="348" font-size="10.3" word-spacing="1.3" stroke="#000" stroke-width="0.1">4 d</text>
<rect x="467.3" y="355.2" width="3.2" height="3.2" fill="#3f93f2"/>
<text x="478" y="359.9" font-size="10.3" word-spacing="1.3" stroke="#000" stroke-width="0.1">7 d</text>
<line x1="343.55" y1="356.1" x2="343.55" y2="349.3" stroke="#ffa6e6" stroke-width="0.8"/>
<line x1="342.05" y1="349.3" x2="345.05" y2="349.3" stroke="#ffa6e6" stroke-width="0.8"/>
<path d="M339.9 410.7V356.1H347.2V410.7" stroke="#ff3ecf" stroke-width="1.4" fill="none"/>
<circle cx="343.3" cy="349.3" r="1.7" fill="#f23cc6"/>
<circle cx="343.3" cy="354.2" r="1.7" fill="#f23cc6"/>
<circle cx="343.3" cy="364.6" r="1.7" fill="#f23cc6"/>
<path d="M351.9 410.7V352.8H359.4V410.7" stroke="#6161ff" stroke-width="1.4" fill="none"/>
<rect x="355.4" y="347.5" width="3.2" height="3.2" fill="#3f93f2"/>
<rect x="353.4" y="349" width="3.2" height="3.2" fill="#3f93f2"/>
<rect x="353.4" y="354.5" width="3.2" height="3.2" fill="#3f93f2"/>
<line x1="375.35" y1="383.6" x2="375.35" y2="370.7" stroke="#ffa6e6" stroke-width="0.8"/>
<line x1="373.85" y1="370.7" x2="376.85" y2="370.7" stroke="#ffa6e6" stroke-width="0.8"/>
<path d="M371.7 410.7V383.6H379V410.7" stroke="#ff3ecf" stroke-width="1.4" fill="none"/>
<circle cx="375.3" cy="370.7" r="1.7" fill="#f23cc6"/>
<circle cx="375.3" cy="387" r="1.7" fill="#f23cc6"/>
<circle cx="375.3" cy="392.1" r="1.7" fill="#f23cc6"/>
<path d="M383.7 410.7V361.6H391.2V410.7" stroke="#6161ff" stroke-width="1.4" fill="none"/>
<rect x="387.2" y="357.3" width="3.2" height="3.2" fill="#3f93f2"/>
<rect x="386" y="358.7" width="3.2" height="3.2" fill="#3f93f2"/>
<rect x="388.3" y="357.8" width="3.2" height="3.2" fill="#3f93f2"/>
<rect x="385.7" y="363.6" width="3.2" height="3.2" fill="#3f93f2"/>
<path d="M403.6 410.7V354.2H410.9V410.7" stroke="#ff3ecf" stroke-width="1.4" fill="none"/>
<circle cx="409.7" cy="349.3" r="1.7" fill="#f23cc6"/>
<circle cx="407.2" cy="352.8" r="1.7" fill="#f23cc6"/>
<circle cx="407.2" cy="358.5" r="1.7" fill="#f23cc6"/>
<path d="M415.5 410.7V346.7H423.4V410.7" stroke="#6161ff" stroke-width="1.4" fill="none"/>
<rect x="419.7" y="341" width="3.2" height="3.2" fill="#3f93f2"/>
<rect x="417.8" y="343.5" width="3.2" height="3.2" fill="#3f93f2"/>
<rect x="417.8" y="348.4" width="3.2" height="3.2" fill="#3f93f2"/>
<path d="M435.6 410.7V381.1H442.7V410.7" stroke="#ff3ecf" stroke-width="1.4" fill="none"/>
<circle cx="441.5" cy="377.2" r="1.7" fill="#f23cc6"/>
<circle cx="439.3" cy="378.4" r="1.7" fill="#f23cc6"/>
<circle cx="439.3" cy="387" r="1.7" fill="#f23cc6"/>
<path d="M447.3 410.7V348.4H454.9V410.7" stroke="#6161ff" stroke-width="1.4" fill="none"/>
<rect x="447.2" y="342.8" width="3.2" height="3.2" fill="#3f93f2"/>
<rect x="452.1" y="344.1" width="3.2" height="3.2" fill="#3f93f2"/>
<rect x="449.6" y="351.4" width="3.2" height="3.2" fill="#3f93f2"/>
<path d="M375.1 364V351.5H388.5V354.8" stroke="#3a3a3a" stroke-width="1.0" fill="none"/>
<text x="379.72" y="351.8" font-size="8.0" fill="#3c3c3c" font-family="DejaVu Sans" letter-spacing="0.9" stroke="#3c3c3c" stroke-width="0.25">*</text>
<path d="M438.4 370.1V336.1H452.5V339.8" stroke="#3a3a3a" stroke-width="1.0" fill="none"/>
<text x="443.37" y="336.8" font-size="8.0" fill="#3c3c3c" font-family="DejaVu Sans" letter-spacing="0.9" stroke="#3c3c3c" stroke-width="0.25">*</text>
<text x="6.2" y="486.5" font-size="14" stroke="#000" stroke-width="0.1">E</text>
<line x1="46.4" y1="502.8" x2="46.4" y2="588" stroke="#111" stroke-width="1.3"/>
<line x1="42.9" y1="588" x2="46.4" y2="588" stroke="#111" stroke-width="1.3"/>
<text x="41.5" y="591.81" font-size="11.2" text-anchor="end" stroke="#000" stroke-width="0.1">0</text>
<line x1="42.9" y1="575.83" x2="46.4" y2="575.83" stroke="#111" stroke-width="1.3"/>
<text x="41.5" y="579.64" font-size="11.2" text-anchor="end" stroke="#000" stroke-width="0.1">1</text>
<line x1="42.9" y1="563.66" x2="46.4" y2="563.66" stroke="#111" stroke-width="1.3"/>
<text x="41.5" y="567.47" font-size="11.2" text-anchor="end" stroke="#000" stroke-width="0.1">2</text>
<line x1="42.9" y1="551.49" x2="46.4" y2="551.49" stroke="#111" stroke-width="1.3"/>
<text x="41.5" y="555.3" font-size="11.2" text-anchor="end" stroke="#000" stroke-width="0.1">3</text>
<line x1="42.9" y1="539.32" x2="46.4" y2="539.32" stroke="#111" stroke-width="1.3"/>
<text x="41.5" y="543.13" font-size="11.2" text-anchor="end" stroke="#000" stroke-width="0.1">4</text>
<line x1="42.9" y1="527.15" x2="46.4" y2="527.15" stroke="#111" stroke-width="1.3"/>
<text x="41.5" y="530.96" font-size="11.2" text-anchor="end" stroke="#000" stroke-width="0.1">5</text>
<line x1="42.9" y1="514.98" x2="46.4" y2="514.98" stroke="#111" stroke-width="1.3"/>
<text x="41.5" y="518.79" font-size="11.2" text-anchor="end" stroke="#000" stroke-width="0.1">6</text>
<line x1="42.9" y1="502.81" x2="46.4" y2="502.81" stroke="#111" stroke-width="1.3"/>
<text x="41.5" y="506.62" font-size="11.2" text-anchor="end" stroke="#000" stroke-width="0.1">7</text>
<line x1="45.8" y1="588" x2="178" y2="588" stroke="#111" stroke-width="1.3"/>
<line x1="61" y1="588" x2="61" y2="591.5" stroke="#111" stroke-width="1.3"/>
<line x1="94.4" y1="588" x2="94.4" y2="591.5" stroke="#111" stroke-width="1.3"/>
<line x1="128" y1="588" x2="128" y2="591.5" stroke="#111" stroke-width="1.3"/>
<line x1="162" y1="588" x2="162" y2="591.5" stroke="#111" stroke-width="1.3"/>
<text x="63.4" y="603" font-size="10.7" text-anchor="end" transform="rotate(-28 63.4 603)" stroke="#000" stroke-width="0.1">DMEM</text>
<text x="96.8" y="603" font-size="10.7" text-anchor="end" transform="rotate(-28 96.8 603)" stroke="#000" stroke-width="0.1">rRC-HL</text>
<text x="130.4" y="603" font-size="10.7" text-anchor="end" transform="rotate(-28 130.4 603)" stroke="#000" stroke-width="0.1">GX074</text>
<text x="164.4" y="603" font-size="10.7" text-anchor="end" transform="rotate(-28 164.4 603)" stroke="#000" stroke-width="0.1">CVS-24</text>
<text x="34.5" y="543.3" font-size="11.6" text-anchor="middle" transform="rotate(-90 34.5 543.3)" stroke="#000" stroke-width="0.1">mRNA Fold Change</text>
<text x="94.7" y="498.7" font-size="12.2" font-style="italic" stroke="#000" stroke-width="0.1">Gsdmd</text>
<line x1="54.5" y1="575.8" x2="54.5" y2="570.7" stroke="#ffa6e6" stroke-width="0.8"/>
<line x1="53" y1="570.7" x2="56" y2="570.7" stroke="#ffa6e6" stroke-width="0.8"/>
<path d="M50.8 588V575.8H58.2V588" stroke="#ff3ecf" stroke-width="1.4" fill="none"/>
<circle cx="54.6" cy="570.7" r="1.85" fill="#f23cc6"/>
<circle cx="56.9" cy="575.8" r="1.85" fill="#f23cc6"/>
<circle cx="52.8" cy="579.2" r="1.85" fill="#f23cc6"/>
<path d="M63.6 588V575.4H71.4V588" stroke="#6161ff" stroke-width="1.4" fill="none"/>
<rect x="66" y="572.1" width="3.4" height="3.4" fill="#3f93f2"/>
<rect x="62.9" y="574.8" width="3.4" height="3.4" fill="#3f93f2"/>
<rect x="68.5" y="574.8" width="3.4" height="3.4" fill="#3f93f2"/>
<path d="M84.6 588V576.5H92V588" stroke="#ff3ecf" stroke-width="1.4" fill="none"/>
<circle cx="88.6" cy="574.5" r="1.85" fill="#f23cc6"/>
<circle cx="86.6" cy="577.2" r="1.85" fill="#f23cc6"/>
<circle cx="90.8" cy="576.5" r="1.85" fill="#f23cc6"/>
<path d="M97.4 588V575.4H104.9V588" stroke="#6161ff" stroke-width="1.4" fill="none"/>
<rect x="97.8" y="573.4" width="3.4" height="3.4" fill="#3f93f2"/>
<rect x="101.5" y="573.4" width="3.4" height="3.4" fill="#3f93f2"/>
<rect x="99.7" y="573.2" width="3.4" height="3.4" fill="#3f93f2"/>
<line x1="122" y1="582.4" x2="122" y2="579" stroke="#ffa6e6" stroke-width="0.8"/>
<line x1="120.5" y1="579" x2="123.5" y2="579" stroke="#ffa6e6" stroke-width="0.8"/>
<path d="M118 588V582.4H126V588" stroke="#ff3ecf" stroke-width="1.4" fill="none"/>
<circle cx="122" cy="579" r="1.85" fill="#f23cc6"/>
<circle cx="120" cy="583" r="1.85" fill="#f23cc6"/>
<circle cx="124" cy="583.6" r="1.85" fill="#f23cc6"/>
<line x1="134.4" y1="556.6" x2="134.4" y2="551" stroke="#a9cdf8" stroke-width="0.8"/>
<line x1="132.9" y1="551" x2="135.9" y2="551" stroke="#a9cdf8" stroke-width="0.8"/>
<path d="M130.4 588V556.6H138.4V588" stroke="#6161ff" stroke-width="1.4" fill="none"/>
<rect x="132.7" y="549.3" width="3.4" height="3.4" fill="#3f93f2"/>
<rect x="130.7" y="554.7" width="3.4" height="3.4" fill="#3f93f2"/>
<rect x="134.7" y="555.3" width="3.4" height="3.4" fill="#3f93f2"/>
<line x1="155.6" y1="566" x2="155.6" y2="558" stroke="#ffa6e6" stroke-width="0.8"/>
<line x1="154.1" y1="558" x2="157.1" y2="558" stroke="#ffa6e6" stroke-width="0.8"/>
<path d="M151.6 588V566H159.6V588" stroke="#ff3ecf" stroke-width="1.4" fill="none"/>
<circle cx="155.6" cy="558" r="1.85" fill="#f23cc6"/>
<circle cx="154.4" cy="568" r="1.85" fill="#f23cc6"/>
<circle cx="157" cy="569" r="1.85" fill="#f23cc6"/>
<line x1="168.4" y1="532" x2="168.4" y2="506" stroke="#a9cdf8" stroke-width="0.8"/>
<line x1="166.9" y1="506" x2="169.9" y2="506" stroke="#a9cdf8" stroke-width="0.8"/>
<path d="M164.4 588V532H172.4V588" stroke="#6161ff" stroke-width="1.4" fill="none"/>
<rect x="166.7" y="507.9" width="3.4" height="3.4" fill="#3f93f2"/>
<rect x="166.7" y="537.3" width="3.4" height="3.4" fill="#3f93f2"/>
<rect x="166.7" y="544.7" width="3.4" height="3.4" fill="#3f93f2"/>
<path d="M121.6 568V543.6H134.4V547" stroke="#3a3a3a" stroke-width="1.0" fill="none"/>
<text x="125.29" y="542.94" font-size="10.41" fill="#3c3c3c" font-family="DejaVu Sans" letter-spacing="0.9" stroke="#3c3c3c" stroke-width="0.25">*</text>
<path d="M155.6 550V500H168V503.6" stroke="#3a3a3a" stroke-width="1.0" fill="none"/>
<text x="155.94" y="500.54" font-size="10.41" fill="#3c3c3c" font-family="DejaVu Sans" letter-spacing="0.9" stroke="#3c3c3c" stroke-width="0.25">**</text>
<text x="187.1" y="486.5" font-size="14" stroke="#000" stroke-width="0.1">F</text>
<line x1="227.4" y1="501.5" x2="227.4" y2="541.1" stroke="#111" stroke-width="1.3"/>
<line x1="227.4" y1="547.4" x2="227.4" y2="586.6" stroke="#111" stroke-width="1.3"/>
<line x1="225.6" y1="541.1" x2="229.2" y2="541.1" stroke="#111" stroke-width="1.3"/>
<line x1="225.6" y1="547.4" x2="229.2" y2="547.4" stroke="#111" stroke-width="1.3"/>
<line x1="223.2" y1="501.5" x2="227.4" y2="501.5" stroke="#111" stroke-width="1.3"/>
<text x="221.7" y="505.17" font-size="10.8" text-anchor="end" stroke="#000" stroke-width="0.1">30</text>
<line x1="223.2" y1="528.5" x2="227.4" y2="528.5" stroke="#111" stroke-width="1.3"/>
<text x="221.7" y="532.17" font-size="10.8" text-anchor="end" stroke="#000" stroke-width="0.1">20</text>
<line x1="223.2" y1="541.1" x2="227.4" y2="541.1" stroke="#111" stroke-width="1.3"/>
<line x1="223.2" y1="586.6" x2="227.4" y2="586.6" stroke="#111" stroke-width="1.3"/>
<text x="221.7" y="590.27" font-size="10.8" text-anchor="end" stroke="#000" stroke-width="0.1">0</text>
<line x1="223.2" y1="573.53" x2="227.4" y2="573.53" stroke="#111" stroke-width="1.3"/>
<text x="221.7" y="577.21" font-size="10.8" text-anchor="end" stroke="#000" stroke-width="0.1">2</text>
<line x1="223.2" y1="560.47" x2="227.4" y2="560.47" stroke="#111" stroke-width="1.3"/>
<text x="221.7" y="564.14" font-size="10.8" text-anchor="end" stroke="#000" stroke-width="0.1">4</text>
<line x1="223.2" y1="547.4" x2="227.4" y2="547.4" stroke="#111" stroke-width="1.3"/>
<text x="221.7" y="551.07" font-size="10.8" text-anchor="end" stroke="#000" stroke-width="0.1">6</text>
<line x1="226.8" y1="586.6" x2="358.4" y2="586.6" stroke="#111" stroke-width="1.3"/>
<line x1="242" y1="586.6" x2="242" y2="590.1" stroke="#111" stroke-width="1.3"/>
<line x1="275.8" y1="586.6" x2="275.8" y2="590.1" stroke="#111" stroke-width="1.3"/>
<line x1="309" y1="586.6" x2="309" y2="590.1" stroke="#111" stroke-width="1.3"/>
<line x1="342.6" y1="586.6" x2="342.6" y2="590.1" stroke="#111" stroke-width="1.3"/>
<text x="244.4" y="601.6" font-size="10.7" text-anchor="end" transform="rotate(-28 244.4 601.6)" stroke="#000" stroke-width="0.1">DMEM</text>
<text x="278.2" y="601.6" font-size="10.7" text-anchor="end" transform="rotate(-28 278.2 601.6)" stroke="#000" stroke-width="0.1">rRC-HL</text>
<text x="311.4" y="601.6" font-size="10.7" text-anchor="end" transform="rotate(-28 311.4 601.6)" stroke="#000" stroke-width="0.1">GX074</text>
<text x="345" y="601.6" font-size="10.7" text-anchor="end" transform="rotate(-28 345 601.6)" stroke="#000" stroke-width="0.1">CVS-24</text>
<text x="210" y="540.4" font-size="10.4" text-anchor="middle" transform="rotate(-90 210 540.4)" stroke="#000" stroke-width="0.1">mRNA Fold Change</text>
<text x="280" y="497" font-size="11.2" stroke="#000" stroke-width="0.1">N<tspan font-style="italic">lrp3</tspan></text>
<path d="M231.7 586.6V579.9H239.6V586.6" stroke="#ff3ecf" stroke-width="1.4" fill="none"/>
<circle cx="233.5" cy="580" r="1.85" fill="#f23cc6"/>
<circle cx="235.7" cy="579.5" r="1.85" fill="#f23cc6"/>
<circle cx="238" cy="580.2" r="1.85" fill="#f23cc6"/>
<path d="M244.3 586.6V579.9H252.4V586.6" stroke="#6161ff" stroke-width="1.4" fill="none"/>
<rect x="246.7" y="576.1" width="3.4" height="3.4" fill="#3f93f2"/>
<rect x="244.6" y="578.6" width="3.4" height="3.4" fill="#3f93f2"/>
<rect x="248.9" y="578.6" width="3.4" height="3.4" fill="#3f93f2"/>
<path d="M267 586.6V584.6H274.5V586.6" stroke="#ff3ecf" stroke-width="1.4" fill="none"/>
<circle cx="269.3" cy="581.6" r="1.85" fill="#f23cc6"/>
<circle cx="266.8" cy="585.8" r="1.85" fill="#f23cc6"/>
<circle cx="272" cy="585.3" r="1.85" fill="#f23cc6"/>
<line x1="281.95" y1="580.5" x2="281.95" y2="573.5" stroke="#a9cdf8" stroke-width="0.8"/>
<line x1="280.45" y1="573.5" x2="283.45" y2="573.5" stroke="#a9cdf8" stroke-width="0.8"/>
<path d="M278.1 586.6V580.5H285.8V586.6" stroke="#6161ff" stroke-width="1.4" fill="none"/>
<rect x="280.4" y="571.8" width="3.4" height="3.4" fill="#3f93f2"/>
<rect x="282.5" y="580.9" width="3.4" height="3.4" fill="#3f93f2"/>
<rect x="278.4" y="581.5" width="3.4" height="3.4" fill="#3f93f2"/>
<path d="M299 586.6V582.4H307V586.6" stroke="#ff3ecf" stroke-width="1.4" fill="none"/>
<circle cx="303" cy="578" r="1.85" fill="#f23cc6"/>
<circle cx="301" cy="582.6" r="1.85" fill="#f23cc6"/>
<circle cx="305" cy="582.6" r="1.85" fill="#f23cc6"/>
<line x1="316" y1="557" x2="316" y2="548" stroke="#a9cdf8" stroke-width="0.8"/>
<line x1="314.5" y1="548" x2="317.5" y2="548" stroke="#a9cdf8" stroke-width="0.8"/>
<path d="M312.4 586.6V557H319.6V586.6" stroke="#6161ff" stroke-width="1.4" fill="none"/>
<rect x="314.3" y="556.3" width="3.4" height="3.4" fill="#3f93f2"/>
<rect x="314.3" y="569.3" width="3.4" height="3.4" fill="#3f93f2"/>
<line x1="336.4" y1="576" x2="336.4" y2="567.6" stroke="#ffa6e6" stroke-width="0.8"/>
<line x1="334.9" y1="567.6" x2="337.9" y2="567.6" stroke="#ffa6e6" stroke-width="0.8"/>
<path d="M332.4 586.6V576H340.4V586.6" stroke="#ff3ecf" stroke-width="1.4" fill="none"/>
<circle cx="336.4" cy="567.6" r="1.85" fill="#f23cc6"/>
<circle cx="336.4" cy="576" r="1.85" fill="#f23cc6"/>
<circle cx="336.4" cy="582" r="1.85" fill="#f23cc6"/>
<path d="M345.6 586.6V547.4M353.6 586.6V547.4" stroke="#6161ff" stroke-width="1.4" fill="none"/>
<path d="M345.6 541.1V509H353.6V541.1" stroke="#6161ff" stroke-width="1.4" fill="none"/>
<rect x="347.9" y="501.9" width="3.4" height="3.4" fill="#3f93f2"/>
<rect x="349.8" y="506.8" width="3.4" height="3.4" fill="#3f93f2"/>
<rect x="346.3" y="507.3" width="3.4" height="3.4" fill="#3f93f2"/>
<path d="M304.4 569V540H314.4V544" stroke="#3a3a3a" stroke-width="1.0" fill="none"/>
<text x="304.19" y="538.35" font-size="9.15" fill="#3c3c3c" font-family="DejaVu Sans" letter-spacing="0.9" stroke="#3c3c3c" stroke-width="0.25">**</text>
<path d="M336 561V496.4H349.6V500" stroke="#3a3a3a" stroke-width="1.0" fill="none"/>
<text x="334.91" y="496.26" font-size="8.96" fill="#3c3c3c" font-family="DejaVu Sans" letter-spacing="0.9" stroke="#3c3c3c" stroke-width="0.25">***</text>
<text x="373.1" y="486.5" font-size="14" stroke="#000" stroke-width="0.1">G</text>
<line x1="414.7" y1="502.4" x2="414.7" y2="542" stroke="#111" stroke-width="1.3"/>
<line x1="414.7" y1="548.4" x2="414.7" y2="588" stroke="#111" stroke-width="1.3"/>
<line x1="412.9" y1="542" x2="416.5" y2="542" stroke="#111" stroke-width="1.3"/>
<line x1="412.9" y1="548.4" x2="416.5" y2="548.4" stroke="#111" stroke-width="1.3"/>
<line x1="411.2" y1="502.4" x2="414.7" y2="502.4" stroke="#111" stroke-width="1.3"/>
<text x="409.3" y="506.28" font-size="11.4" text-anchor="end" stroke="#000" stroke-width="0.1">300</text>
<line x1="411.2" y1="516.6" x2="414.7" y2="516.6" stroke="#111" stroke-width="1.3"/>
<text x="409.3" y="520.48" font-size="11.4" text-anchor="end" stroke="#000" stroke-width="0.1">200</text>
<line x1="411.2" y1="530.8" x2="414.7" y2="530.8" stroke="#111" stroke-width="1.3"/>
<text x="409.3" y="534.68" font-size="11.4" text-anchor="end" stroke="#000" stroke-width="0.1">100</text>
<line x1="411.2" y1="542" x2="414.7" y2="542" stroke="#111" stroke-width="1.3"/>
<line x1="411.2" y1="588" x2="414.7" y2="588" stroke="#111" stroke-width="1.3"/>
<text x="409.3" y="591.88" font-size="11.4" text-anchor="end" stroke="#000" stroke-width="0.1">0</text>
<line x1="411.2" y1="574.8" x2="414.7" y2="574.8" stroke="#111" stroke-width="1.3"/>
<text x="409.3" y="578.68" font-size="11.4" text-anchor="end" stroke="#000" stroke-width="0.1">4</text>
<line x1="411.2" y1="561.6" x2="414.7" y2="561.6" stroke="#111" stroke-width="1.3"/>
<text x="409.3" y="565.48" font-size="11.4" text-anchor="end" stroke="#000" stroke-width="0.1">8</text>
<line x1="411.2" y1="548.4" x2="414.7" y2="548.4" stroke="#111" stroke-width="1.3"/>
<text x="409.3" y="552.28" font-size="11.4" text-anchor="end" stroke="#000" stroke-width="0.1">12</text>
<line x1="414.1" y1="588" x2="545.6" y2="588" stroke="#111" stroke-width="1.3"/>
<line x1="429.6" y1="588" x2="429.6" y2="591.5" stroke="#111" stroke-width="1.3"/>
<line x1="463" y1="588" x2="463" y2="591.5" stroke="#111" stroke-width="1.3"/>
<line x1="496.6" y1="588" x2="496.6" y2="591.5" stroke="#111" stroke-width="1.3"/>
<line x1="530.4" y1="588" x2="530.4" y2="591.5" stroke="#111" stroke-width="1.3"/>
<text x="432" y="603" font-size="10.7" text-anchor="end" transform="rotate(-28 432 603)" stroke="#000" stroke-width="0.1">DMEM</text>
<text x="465.4" y="603" font-size="10.7" text-anchor="end" transform="rotate(-28 465.4 603)" stroke="#000" stroke-width="0.1">rRC-HL</text>
<text x="499" y="603" font-size="10.7" text-anchor="end" transform="rotate(-28 499 603)" stroke="#000" stroke-width="0.1">GX074</text>
<text x="532.8" y="603" font-size="10.7" text-anchor="end" transform="rotate(-28 532.8 603)" stroke="#000" stroke-width="0.1">CVS-24</text>
<text x="392.5" y="541.7" font-size="11.6" text-anchor="middle" transform="rotate(-90 392.5 541.7)" stroke="#000" stroke-width="0.1">mRNA Fold Change</text>
<text x="464.5" y="499.2" font-size="12.0" font-style="italic" letter-spacing="0.35" stroke="#000" stroke-width="0.1">Casp1</text>
<path d="M419.5 588V584.3H426.9V588" stroke="#ff3ecf" stroke-width="1.4" fill="none"/>
<circle cx="421" cy="584.5" r="1.85" fill="#f23cc6"/>
<circle cx="423.2" cy="584" r="1.85" fill="#f23cc6"/>
<circle cx="425.5" cy="584.6" r="1.85" fill="#f23cc6"/>
<path d="M431.9 588V584.9H439.5V588" stroke="#6161ff" stroke-width="1.4" fill="none"/>
<rect x="434" y="580.9" width="3.4" height="3.4" fill="#3f93f2"/>
<rect x="431.9" y="583.6" width="3.4" height="3.4" fill="#3f93f2"/>
<rect x="436.5" y="583.6" width="3.4" height="3.4" fill="#3f93f2"/>
<line x1="456.85" y1="580.3" x2="456.85" y2="575.1" stroke="#ffa6e6" stroke-width="0.8"/>
<line x1="455.35" y1="575.1" x2="458.35" y2="575.1" stroke="#ffa6e6" stroke-width="0.8"/>
<path d="M453 588V580.3H460.7V588" stroke="#ff3ecf" stroke-width="1.4" fill="none"/>
<circle cx="456.6" cy="575.1" r="1.85" fill="#f23cc6"/>
<circle cx="457.3" cy="583" r="1.85" fill="#f23cc6"/>
<circle cx="458.8" cy="582" r="1.85" fill="#f23cc6"/>
<path d="M466.1 588V548.4M472.8 588V548.4" stroke="#6161ff" stroke-width="1.4" fill="none"/>
<path d="M466.1 542V541.5H472.8V542" stroke="#6161ff" stroke-width="1.4" fill="none"/>
<rect x="465.1" y="540.3" width="3.4" height="3.4" fill="#3f93f2"/>
<rect x="470.5" y="539.4" width="3.4" height="3.4" fill="#3f93f2"/>
<path d="M486.6 588V581H494.2V588" stroke="#ff3ecf" stroke-width="1.4" fill="none"/>
<circle cx="491.6" cy="579.4" r="1.85" fill="#f23cc6"/>
<circle cx="489.5" cy="583" r="1.85" fill="#f23cc6"/>
<circle cx="492.5" cy="583.5" r="1.85" fill="#f23cc6"/>
<path d="M499.4 588V548.4M507 588V548.4" stroke="#6161ff" stroke-width="1.4" fill="none"/>
<path d="M499.4 542V541.2H507V542" stroke="#6161ff" stroke-width="1.4" fill="none"/>
<rect x="498.8" y="539.6" width="3.4" height="3.4" fill="#3f93f2"/>
<rect x="500.8" y="539.1" width="3.4" height="3.4" fill="#3f93f2"/>
<rect x="503.8" y="539.6" width="3.4" height="3.4" fill="#3f93f2"/>
<line x1="524" y1="580.4" x2="524" y2="575.6" stroke="#ffa6e6" stroke-width="0.8"/>
<line x1="522.5" y1="575.6" x2="525.5" y2="575.6" stroke="#ffa6e6" stroke-width="0.8"/>
<path d="M520 588V580.4H528V588" stroke="#ff3ecf" stroke-width="1.4" fill="none"/>
<circle cx="524" cy="575.6" r="1.85" fill="#f23cc6"/>
<circle cx="523" cy="582" r="1.85" fill="#f23cc6"/>
<circle cx="526" cy="581" r="1.85" fill="#f23cc6"/>
<path d="M533 588V548.4M540.2 588V548.4" stroke="#6161ff" stroke-width="1.4" fill="none"/>
<path d="M533 542V521.4H540.2V542" stroke="#6161ff" stroke-width="1.4" fill="none"/>
<rect x="535.1" y="513.3" width="3.4" height="3.4" fill="#3f93f2"/>
<rect x="535.1" y="520.3" width="3.4" height="3.4" fill="#3f93f2"/>
<rect x="535.1" y="525.3" width="3.4" height="3.4" fill="#3f93f2"/>
<path d="M456.4 570V525.6H469.6V533.6" stroke="#3a3a3a" stroke-width="1.0" fill="none"/>
<text x="457.76" y="525.37" font-size="9.2" fill="#3c3c3c" font-family="DejaVu Sans" letter-spacing="0.9" stroke="#3c3c3c" stroke-width="0.25">**</text>
<path d="M490.4 576V528.4H505V535" stroke="#3a3a3a" stroke-width="1.0" fill="none"/>
<text x="492.46" y="527.97" font-size="9.2" fill="#3c3c3c" font-family="DejaVu Sans" letter-spacing="0.9" stroke="#3c3c3c" stroke-width="0.25">**</text>
<path d="M523.6 571V504.4H537.6V510" stroke="#3a3a3a" stroke-width="1.0" fill="none"/>
<text x="525.36" y="504.37" font-size="9.2" fill="#3c3c3c" font-family="DejaVu Sans" letter-spacing="0.9" stroke="#3c3c3c" stroke-width="0.25">**</text>
<text x="6.2" y="645.5" font-size="14" stroke="#000" stroke-width="0.1">H</text>
<line x1="61.7" y1="656.3" x2="61.7" y2="696.4" stroke="#111" stroke-width="1.3"/>
<line x1="61.7" y1="702" x2="61.7" y2="741.4" stroke="#111" stroke-width="1.3"/>
<line x1="59.9" y1="696.4" x2="63.5" y2="696.4" stroke="#111" stroke-width="1.3"/>
<line x1="59.9" y1="702" x2="63.5" y2="702" stroke="#111" stroke-width="1.3"/>
<line x1="58.2" y1="656.5" x2="61.7" y2="656.5" stroke="#111" stroke-width="1.3"/>
<text x="57.2" y="659.83" font-size="9.8" text-anchor="end" stroke="#000" stroke-width="0.1">150</text>
<line x1="58.2" y1="670.6" x2="61.7" y2="670.6" stroke="#111" stroke-width="1.3"/>
<text x="57.2" y="673.93" font-size="9.8" text-anchor="end" stroke="#000" stroke-width="0.1">100</text>
<line x1="58.2" y1="684.4" x2="61.7" y2="684.4" stroke="#111" stroke-width="1.3"/>
<text x="57.2" y="687.73" font-size="9.8" text-anchor="end" stroke="#000" stroke-width="0.1">50</text>
<line x1="58.2" y1="696.4" x2="61.7" y2="696.4" stroke="#111" stroke-width="1.3"/>
<line x1="58.2" y1="741.4" x2="61.7" y2="741.4" stroke="#111" stroke-width="1.3"/>
<text x="57.2" y="744.73" font-size="9.8" text-anchor="end" stroke="#000" stroke-width="0.1">0</text>
<line x1="58.2" y1="729.35" x2="61.7" y2="729.35" stroke="#111" stroke-width="1.3"/>
<text x="57.2" y="732.68" font-size="9.8" text-anchor="end" stroke="#000" stroke-width="0.1">2</text>
<line x1="58.2" y1="717.3" x2="61.7" y2="717.3" stroke="#111" stroke-width="1.3"/>
<text x="57.2" y="720.63" font-size="9.8" text-anchor="end" stroke="#000" stroke-width="0.1">4</text>
<line x1="58.2" y1="705.25" x2="61.7" y2="705.25" stroke="#111" stroke-width="1.3"/>
<text x="57.2" y="708.58" font-size="9.8" text-anchor="end" stroke="#000" stroke-width="0.1">6</text>
<line x1="61.1" y1="741.4" x2="193.3" y2="741.4" stroke="#111" stroke-width="1.3"/>
<line x1="76.7" y1="741.4" x2="76.7" y2="744.9" stroke="#111" stroke-width="1.3"/>
<line x1="110.3" y1="741.4" x2="110.3" y2="744.9" stroke="#111" stroke-width="1.3"/>
<line x1="143.9" y1="741.4" x2="143.9" y2="744.9" stroke="#111" stroke-width="1.3"/>
<line x1="177.4" y1="741.4" x2="177.4" y2="744.9" stroke="#111" stroke-width="1.3"/>
<text x="79" y="756" font-size="10.5" text-anchor="end" transform="rotate(-30 79 756)" stroke="#000" stroke-width="0.1">DMEM</text>
<text x="112.6" y="756" font-size="10.5" text-anchor="end" transform="rotate(-30 112.6 756)" stroke="#000" stroke-width="0.1">rRC-HL</text>
<text x="146.2" y="756" font-size="10.5" text-anchor="end" transform="rotate(-30 146.2 756)" stroke="#000" stroke-width="0.1">GX074</text>
<text x="179.7" y="756" font-size="10.5" text-anchor="end" transform="rotate(-30 179.7 756)" stroke="#000" stroke-width="0.1">CVS-24</text>
<text x="39" y="695.7" font-size="10.4" text-anchor="middle" transform="rotate(-90 39 695.7)" stroke="#000" stroke-width="0.1">mRNA Fold Change</text>
<text x="116.3" y="651.4" font-size="10.2" stroke="#000" stroke-width="0.1">IL<tspan font-style="italic">1β</tspan></text>
<circle cx="211.9" cy="666.5" r="1.8" fill="#f23cc6"/>
<text x="221.2" y="670.6" font-size="12.6" word-spacing="1.2" stroke="#000" stroke-width="0.1">4 d</text>
<rect x="210.15" y="680.25" width="3.5" height="3.5" fill="#3f93f2"/>
<text x="221.2" y="686.3" font-size="12.6" word-spacing="1.2" stroke="#000" stroke-width="0.1">7 d</text>
<line x1="70.5" y1="733.8" x2="70.5" y2="726.7" stroke="#ffa6e6" stroke-width="0.8"/>
<line x1="69" y1="726.7" x2="72" y2="726.7" stroke="#ffa6e6" stroke-width="0.8"/>
<path d="M66.4 741.4V733.8H74.6V741.4" stroke="#ff3ecf" stroke-width="1.4" fill="none"/>
<circle cx="70.2" cy="726.7" r="1.85" fill="#f23cc6"/>
<circle cx="70.2" cy="734.6" r="1.85" fill="#f23cc6"/>
<circle cx="70.2" cy="739.2" r="1.85" fill="#f23cc6"/>
<path d="M79.4 741.4V735.2H87.2V741.4" stroke="#6161ff" stroke-width="1.4" fill="none"/>
<rect x="83.8" y="731.1" width="3.4" height="3.4" fill="#3f93f2"/>
<rect x="81.7" y="732.9" width="3.4" height="3.4" fill="#3f93f2"/>
<rect x="79.5" y="734.6" width="3.4" height="3.4" fill="#3f93f2"/>
<path d="M100.4 741.4V736.7H108.2V741.4" stroke="#ff3ecf" stroke-width="1.4" fill="none"/>
<circle cx="104.2" cy="732.8" r="1.85" fill="#f23cc6"/>
<circle cx="102" cy="738" r="1.85" fill="#f23cc6"/>
<circle cx="106.5" cy="738" r="1.85" fill="#f23cc6"/>
<path d="M113.1 741.4V734.6H120.9V741.4" stroke="#6161ff" stroke-width="1.4" fill="none"/>
<rect x="115" y="729" width="3.4" height="3.4" fill="#3f93f2"/>
<rect x="117.1" y="732.9" width="3.4" height="3.4" fill="#3f93f2"/>
<rect x="112.8" y="734.6" width="3.4" height="3.4" fill="#3f93f2"/>
<path d="M134.2 741.4V737.8H141.5V741.4" stroke="#ff3ecf" stroke-width="1.4" fill="none"/>
<circle cx="136" cy="738.2" r="1.85" fill="#f23cc6"/>
<circle cx="138" cy="738" r="1.85" fill="#f23cc6"/>
<circle cx="140" cy="738.3" r="1.85" fill="#f23cc6"/>
<line x1="171.2" y1="725" x2="171.2" y2="710.3" stroke="#ffa6e6" stroke-width="0.8"/>
<line x1="169.7" y1="710.3" x2="172.7" y2="710.3" stroke="#ffa6e6" stroke-width="0.8"/>
<path d="M167.4 741.4V725H175V741.4" stroke="#ff3ecf" stroke-width="1.4" fill="none"/>
<circle cx="171.3" cy="710.3" r="1.85" fill="#f23cc6"/>
<circle cx="171.3" cy="728.9" r="1.85" fill="#f23cc6"/>
<circle cx="171.3" cy="734.8" r="1.85" fill="#f23cc6"/>
<line x1="184" y1="671" x2="184" y2="655.9" stroke="#a9cdf8" stroke-width="0.8"/>
<line x1="182.5" y1="655.9" x2="185.5" y2="655.9" stroke="#a9cdf8" stroke-width="0.8"/>
<path d="M180.2 741.4V702M187.8 741.4V702" stroke="#6161ff" stroke-width="1.4" fill="none"/>
<path d="M180.2 696.4V671H187.8V696.4" stroke="#6161ff" stroke-width="1.4" fill="none"/>
<rect x="180.4" y="677.6" width="3.4" height="3.4" fill="#3f93f2"/>
<rect x="184.8" y="675.6" width="3.4" height="3.4" fill="#3f93f2"/>
<path d="M146.3 741.4V702M153.2 741.4V702" stroke="#6161ff" stroke-width="1.4" fill="none"/>
<line x1="146.3" y1="695.6" x2="153.2" y2="695.6" stroke="#a9cdf8" stroke-width="0.9"/>
<line x1="149.75" y1="692.4" x2="149.75" y2="699" stroke="#a9cdf8" stroke-width="0.8"/>
<rect x="148.5" y="690.7" width="3.4" height="3.4" fill="#3f93f2"/>
<rect x="148.5" y="712.6" width="3.4" height="3.4" fill="#3f93f2"/>
<rect x="148.5" y="718.9" width="3.4" height="3.4" fill="#3f93f2"/>
<path d="M137.7 733.6V682.1H150.8V687" stroke="#3a3a3a" stroke-width="1.0" fill="none"/>
<text x="139.59" y="682.74" font-size="8.09" fill="#3c3c3c" font-family="DejaVu Sans" letter-spacing="0.9" stroke="#3c3c3c" stroke-width="0.25">**</text>
<path d="M171.5 703V648.3H183.6V653.5" stroke="#3a3a3a" stroke-width="1.0" fill="none"/>
<text x="172.89" y="648.84" font-size="8.09" fill="#3c3c3c" font-family="DejaVu Sans" letter-spacing="0.9" stroke="#3c3c3c" stroke-width="0.25">**</text>
<text x="269.3" y="645.5" font-size="14" stroke="#000" stroke-width="0.1">I</text>
<line x1="333" y1="655" x2="333" y2="694.6" stroke="#111" stroke-width="1.3"/>
<line x1="333" y1="700" x2="333" y2="740" stroke="#111" stroke-width="1.3"/>
<line x1="331.2" y1="694.6" x2="334.8" y2="694.6" stroke="#111" stroke-width="1.3"/>
<line x1="331.2" y1="700" x2="334.8" y2="700" stroke="#111" stroke-width="1.3"/>
<line x1="329.5" y1="662" x2="333" y2="662" stroke="#111" stroke-width="1.3"/>
<text x="328.3" y="665.57" font-size="10.5" text-anchor="end" stroke="#000" stroke-width="0.1">6000</text>
<line x1="329.5" y1="673" x2="333" y2="673" stroke="#111" stroke-width="1.3"/>
<text x="328.3" y="676.57" font-size="10.5" text-anchor="end" stroke="#000" stroke-width="0.1">4500</text>
<line x1="329.5" y1="684" x2="333" y2="684" stroke="#111" stroke-width="1.3"/>
<text x="328.3" y="687.57" font-size="10.5" text-anchor="end" stroke="#000" stroke-width="0.1">3000</text>
<line x1="329.5" y1="693.6" x2="333" y2="693.6" stroke="#111" stroke-width="1.3"/>
<text x="328.3" y="697.17" font-size="10.5" text-anchor="end" stroke="#000" stroke-width="0.1">1500</text>
<line x1="329.5" y1="700.4" x2="333" y2="700.4" stroke="#111" stroke-width="1.3"/>
<text x="328.3" y="703.97" font-size="10.5" text-anchor="end" stroke="#000" stroke-width="0.1">800</text>
<line x1="329.5" y1="710.4" x2="333" y2="710.4" stroke="#111" stroke-width="1.3"/>
<text x="328.3" y="713.97" font-size="10.5" text-anchor="end" stroke="#000" stroke-width="0.1">600</text>
<line x1="329.5" y1="720.4" x2="333" y2="720.4" stroke="#111" stroke-width="1.3"/>
<text x="328.3" y="723.97" font-size="10.5" text-anchor="end" stroke="#000" stroke-width="0.1">400</text>
<line x1="329.5" y1="730.4" x2="333" y2="730.4" stroke="#111" stroke-width="1.3"/>
<text x="328.3" y="733.97" font-size="10.5" text-anchor="end" stroke="#000" stroke-width="0.1">200</text>
<line x1="329.5" y1="740" x2="333" y2="740" stroke="#111" stroke-width="1.3"/>
<text x="328.3" y="743.57" font-size="10.5" text-anchor="end" stroke="#000" stroke-width="0.1">0</text>
<line x1="332.4" y1="740" x2="464.5" y2="740" stroke="#111" stroke-width="1.3"/>
<line x1="347.6" y1="740" x2="347.6" y2="743.5" stroke="#111" stroke-width="1.3"/>
<line x1="381.2" y1="740" x2="381.2" y2="743.5" stroke="#111" stroke-width="1.3"/>
<line x1="414.7" y1="740" x2="414.7" y2="743.5" stroke="#111" stroke-width="1.3"/>
<line x1="448.3" y1="740" x2="448.3" y2="743.5" stroke="#111" stroke-width="1.3"/>
<text x="349.9" y="755.6" font-size="10.8" text-anchor="end" transform="rotate(-30 349.9 755.6)" stroke="#000" stroke-width="0.1">DMEM</text>
<text x="383.5" y="755.6" font-size="10.8" text-anchor="end" transform="rotate(-30 383.5 755.6)" stroke="#000" stroke-width="0.1">rRC-HL</text>
<text x="417" y="755.6" font-size="10.8" text-anchor="end" transform="rotate(-30 417 755.6)" stroke="#000" stroke-width="0.1">GX074</text>
<text x="450.6" y="755.6" font-size="10.8" text-anchor="end" transform="rotate(-30 450.6 755.6)" stroke="#000" stroke-width="0.1">CVS-24</text>
<text x="304.5" y="695.5" font-size="10.6" text-anchor="middle" transform="rotate(-90 304.5 695.5)" xml:space="preserve" stroke="#000" stroke-width="0.1">Concentration  (pg/mL)</text>
<text x="382.6" y="651.2" font-size="11.0" stroke="#000" stroke-width="0.1">Gsdmd</text>
<circle cx="475" cy="678.1" r="1.8" fill="#f23cc6"/>
<text x="484.1" y="681.7" font-size="12.5" word-spacing="1.2" stroke="#000" stroke-width="0.1">4 d</text>
<rect x="473.25" y="688.05" width="3.5" height="3.5" fill="#3f93f2"/>
<text x="484.1" y="693.7" font-size="12.5" word-spacing="1.2" stroke="#000" stroke-width="0.1">7 d</text>
<path d="M337.6 740V734H345V740" stroke="#ff3ecf" stroke-width="1.4" fill="none"/>
<circle cx="339.5" cy="734" r="1.85" fill="#f23cc6"/>
<circle cx="341.3" cy="733.5" r="1.85" fill="#f23cc6"/>
<circle cx="343.5" cy="734.2" r="1.85" fill="#f23cc6"/>
<path d="M350 740V737H358V740" stroke="#6161ff" stroke-width="1.4" fill="none"/>
<rect x="350.3" y="735.8" width="3.4" height="3.4" fill="#3f93f2"/>
<rect x="352.3" y="735.8" width="3.4" height="3.4" fill="#3f93f2"/>
<rect x="354.3" y="735.8" width="3.4" height="3.4" fill="#3f93f2"/>
<path d="M371 740V727.5H378.4V740" stroke="#ff3ecf" stroke-width="1.4" fill="none"/>
<circle cx="373" cy="727.5" r="1.85" fill="#f23cc6"/>
<circle cx="375" cy="727" r="1.85" fill="#f23cc6"/>
<circle cx="377" cy="727.5" r="1.85" fill="#f23cc6"/>
<path d="M383.8 740V700M391.8 740V700" stroke="#6161ff" stroke-width="1.4" fill="none"/>
<path d="M383.8 694.6V691.8H391.8V694.6" stroke="#6161ff" stroke-width="1.4" fill="none"/>
<rect x="383.8" y="690.3" width="3.4" height="3.4" fill="#3f93f2"/>
<rect x="386.1" y="689.8" width="3.4" height="3.4" fill="#3f93f2"/>
<rect x="388.3" y="690.3" width="3.4" height="3.4" fill="#3f93f2"/>
<path d="M404.5 740V731.8H412.5V740" stroke="#ff3ecf" stroke-width="1.4" fill="none"/>
<circle cx="408.5" cy="727" r="1.85" fill="#f23cc6"/>
<circle cx="406.5" cy="731.5" r="1.85" fill="#f23cc6"/>
<circle cx="410.5" cy="732" r="1.85" fill="#f23cc6"/>
<path d="M417.3 740V706.4H425.6V740" stroke="#6161ff" stroke-width="1.4" fill="none"/>
<rect x="417.9" y="700.8" width="3.4" height="3.4" fill="#3f93f2"/>
<rect x="421.6" y="700.8" width="3.4" height="3.4" fill="#3f93f2"/>
<rect x="419.8" y="709.3" width="3.4" height="3.4" fill="#3f93f2"/>
<path d="M438.4 740V700M446.4 740V700" stroke="#ff3ecf" stroke-width="1.4" fill="none"/>
<path d="M438.4 694.6V684.5H446.4V694.6" stroke="#ff3ecf" stroke-width="1.4" fill="none"/>
<circle cx="442" cy="683" r="1.85" fill="#f23cc6"/>
<circle cx="444" cy="681" r="1.85" fill="#f23cc6"/>
<circle cx="440" cy="687" r="1.85" fill="#f23cc6"/>
<path d="M451 740V700M459 740V700" stroke="#6161ff" stroke-width="1.4" fill="none"/>
<path d="M451 694.6V664.5H459V694.6" stroke="#6161ff" stroke-width="1.4" fill="none"/>
<rect x="453.3" y="658.3" width="3.4" height="3.4" fill="#3f93f2"/>
<rect x="453.3" y="664.3" width="3.4" height="3.4" fill="#3f93f2"/>
<rect x="451.3" y="662.3" width="3.4" height="3.4" fill="#3f93f2"/>
<path d="M373.6 722.7V682H388V688" stroke="#3a3a3a" stroke-width="1.0" fill="none"/>
<text x="376.14" y="681.94" font-size="8.09" fill="#3c3c3c" font-family="DejaVu Sans" letter-spacing="0.9" stroke="#3c3c3c" stroke-width="0.25">**</text>
<path d="M407.5 728V686.4H421V701" stroke="#3a3a3a" stroke-width="1.0" fill="none"/>
<text x="409.59" y="685.14" font-size="8.09" fill="#3c3c3c" font-family="DejaVu Sans" letter-spacing="0.9" stroke="#3c3c3c" stroke-width="0.25">**</text>
<path d="M441.6 680V651H455.5V655.5" stroke="#3a3a3a" stroke-width="1.0" fill="none"/>
<text x="443.89" y="650.84" font-size="8.09" fill="#3c3c3c" font-family="DejaVu Sans" letter-spacing="0.9" stroke="#3c3c3c" stroke-width="0.25">**</text>
</svg></body></html>
